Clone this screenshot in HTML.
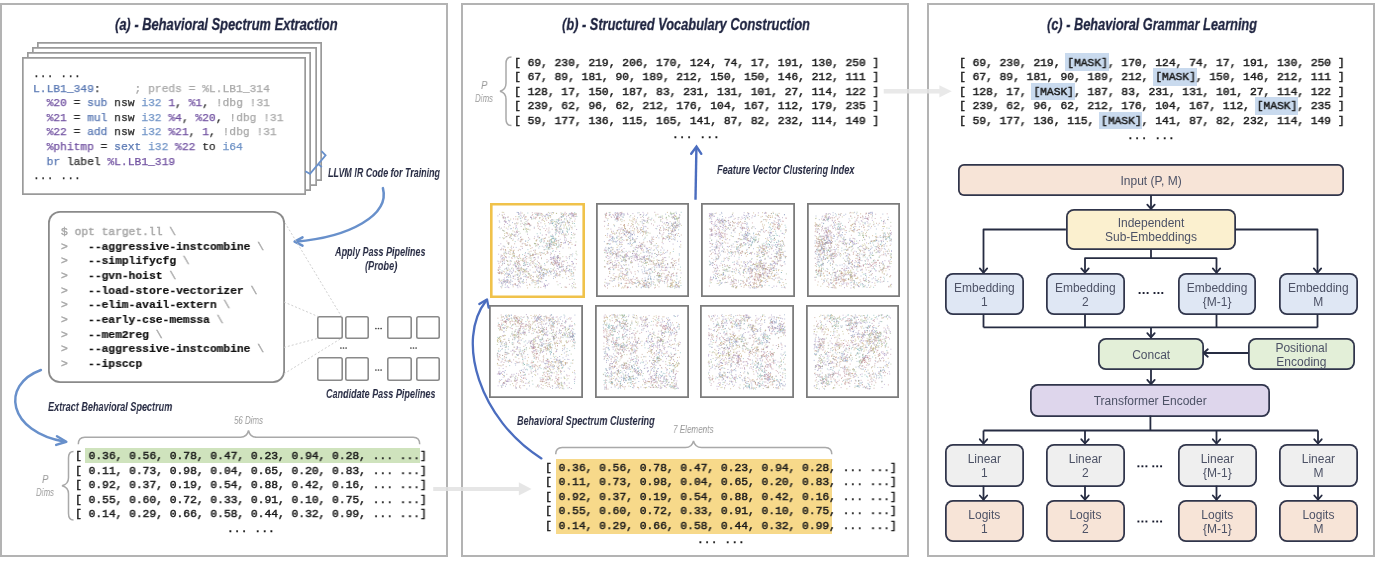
<!DOCTYPE html><html><head><meta charset="utf-8"><style>
html,body{margin:0;padding:0;background:#fff;}
body{width:1376px;height:561px;overflow:hidden;position:relative;font-family:"Liberation Sans",sans-serif;}
.t{position:absolute;white-space:pre;transform-origin:0 0;will-change:transform;}
.m{position:absolute;white-space:pre;font-family:"Liberation Mono",monospace;color:#1a1a1a;will-change:transform;-webkit-text-stroke:0.45px currentColor;}
.m span{-webkit-text-stroke:inherit}.m b{-webkit-text-stroke:0.2px currentColor}
.pn{position:absolute;border:2px solid #b3b3b3;box-sizing:border-box;}
.bx{position:absolute;box-sizing:border-box;box-shadow:inset 0 0 0 1.75px #30354b;border-radius:8px;color:#4d5266;font-size:12px;line-height:14px;text-align:center;display:flex;align-items:center;justify-content:center;padding-top:1.5px;will-change:transform;}
svg{position:absolute;left:0;top:0;}
</style></head><body>

<div class="pn" style="left:0px;top:3px;width:448px;height:554px"></div>
<div class="pn" style="left:461px;top:3px;width:447.5px;height:554px"></div>
<div class="pn" style="left:927px;top:3px;width:448px;height:554px"></div>
<div class="t" style="left:114.50px;top:16.11px;font-size:17px;line-height:17px;font-weight:bold;font-style:italic;color:#1f2440;transform:scaleX(0.7573);opacity:1;-webkit-text-stroke:0.3px #1f2440">(a) - Behavioral Spectrum Extraction</div>
<div class="t" style="left:562.00px;top:16.11px;font-size:17px;line-height:17px;font-weight:bold;font-style:italic;color:#1f2440;transform:scaleX(0.7538);opacity:1;-webkit-text-stroke:0.3px #1f2440">(b) - Structured Vocabulary Construction</div>
<div class="t" style="left:1046.50px;top:16.11px;font-size:17px;line-height:17px;font-weight:bold;font-style:italic;color:#1f2440;transform:scaleX(0.7510);opacity:1;-webkit-text-stroke:0.3px #1f2440">(c) - Behavioral Grammar Learning</div>
<div style="position:absolute;left:37.1px;top:42.1px;width:285.1px;height:138.8px;box-sizing:border-box;box-shadow:inset 0 0 0 1.7px #9a9a9a;background:#fff"></div>
<div style="position:absolute;left:32.1px;top:47.1px;width:284.5px;height:138.5px;box-sizing:border-box;box-shadow:inset 0 0 0 1.7px #9a9a9a;background:#fff"></div>
<div style="position:absolute;left:26.6px;top:52.1px;width:284.8px;height:138.5px;box-sizing:border-box;box-shadow:inset 0 0 0 1.7px #9a9a9a;background:#fff"></div>
<div style="position:absolute;left:21.6px;top:57.1px;width:284.3px;height:138.3px;box-sizing:border-box;box-shadow:inset 0 0 0 1.7px #9a9a9a;background:#fff"></div>
<div class="m" style="left:32.80px;top:68.86px;font-size:11.4px;line-height:11.4px;transform:scaleX(0.9898);transform-origin:0 0;-webkit-text-stroke:0.25px currentColor"><span style="color:#2a2a2a">... ...</span></div>
<div class="m" style="left:32.80px;top:83.51px;font-size:11.4px;line-height:11.4px;transform:scaleX(0.9898);transform-origin:0 0;-webkit-text-stroke:0.25px currentColor"><span style="color:#5877b3">L.LB1_349</span><span style="color:#2a2a2a">:</span>     <span style="color:#a8a8a8">; preds = %L.LB1_314</span></div>
<div class="m" style="left:32.80px;top:98.16px;font-size:11.4px;line-height:11.4px;transform:scaleX(0.9898);transform-origin:0 0;-webkit-text-stroke:0.25px currentColor">  <span style="color:#7050a0">%20</span><span style="color:#2a2a2a"> = </span><span style="color:#5877b3">sub</span><span style="color:#2a2a2a"> nsw </span><span style="color:#6f93c6">i32</span> <span style="color:#7050a0">1</span><span style="color:#2a2a2a">, </span><span style="color:#7050a0">%1</span><span style="color:#2a2a2a">, </span><span style="color:#a8a8a8">!dbg !31</span></div>
<div class="m" style="left:32.80px;top:112.81px;font-size:11.4px;line-height:11.4px;transform:scaleX(0.9898);transform-origin:0 0;-webkit-text-stroke:0.25px currentColor">  <span style="color:#7050a0">%21</span><span style="color:#2a2a2a"> = </span><span style="color:#5877b3">mul</span><span style="color:#2a2a2a"> nsw </span><span style="color:#6f93c6">i32</span> <span style="color:#7050a0">%4</span><span style="color:#2a2a2a">, </span><span style="color:#7050a0">%20</span><span style="color:#2a2a2a">, </span><span style="color:#a8a8a8">!dbg !31</span></div>
<div class="m" style="left:32.80px;top:127.46px;font-size:11.4px;line-height:11.4px;transform:scaleX(0.9898);transform-origin:0 0;-webkit-text-stroke:0.25px currentColor">  <span style="color:#7050a0">%22</span><span style="color:#2a2a2a"> = </span><span style="color:#5877b3">add</span><span style="color:#2a2a2a"> nsw </span><span style="color:#6f93c6">i32</span> <span style="color:#7050a0">%21</span><span style="color:#2a2a2a">, </span><span style="color:#7050a0">1</span><span style="color:#2a2a2a">, </span><span style="color:#a8a8a8">!dbg !31</span></div>
<div class="m" style="left:32.80px;top:142.11px;font-size:11.4px;line-height:11.4px;transform:scaleX(0.9898);transform-origin:0 0;-webkit-text-stroke:0.25px currentColor">  <span style="color:#7050a0">%phitmp</span><span style="color:#2a2a2a"> = </span><span style="color:#5877b3">sext</span> <span style="color:#6f93c6">i32</span> <span style="color:#7050a0">%22</span><span style="color:#2a2a2a"> to </span><span style="color:#6f93c6">i64</span></div>
<div class="m" style="left:32.80px;top:156.76px;font-size:11.4px;line-height:11.4px;transform:scaleX(0.9898);transform-origin:0 0;-webkit-text-stroke:0.25px currentColor">  <span style="color:#5877b3">br</span><span style="color:#2a2a2a"> label </span><span style="color:#7050a0">%L.LB1_319</span></div>
<div class="m" style="left:32.80px;top:171.41px;font-size:11.4px;line-height:11.4px;transform:scaleX(0.9898);transform-origin:0 0;-webkit-text-stroke:0.25px currentColor"><span style="color:#2a2a2a">... ...</span></div>
<div class="t" style="left:328.00px;top:166.00px;font-size:13px;line-height:13px;font-weight:bold;font-style:italic;color:#262a42;transform:scaleX(0.6872);opacity:1;">LLVM IR Code for Training</div>
<div style="position:absolute;left:47.6px;top:211px;width:237px;height:172px;box-sizing:border-box;box-shadow:inset 0 0 0 1.8px #8a8a8a;border-radius:12px;"></div>
<div class="m" style="left:61.00px;top:227.06px;font-size:11.4px;line-height:11.4px;transform:scaleX(0.9898);transform-origin:0 0;"><span style="color:#a8a8a8">$ opt target.ll \</span></div>
<div class="m" style="left:61.00px;top:241.73px;font-size:11.4px;line-height:11.4px;transform:scaleX(0.9898);transform-origin:0 0;"><span style="color:#a8a8a8">&gt;</span>   <b style="color:#111">--aggressive-instcombine</b> <span style="color:#a8a8a8">\</span></div>
<div class="m" style="left:61.00px;top:256.40px;font-size:11.4px;line-height:11.4px;transform:scaleX(0.9898);transform-origin:0 0;"><span style="color:#a8a8a8">&gt;</span>   <b style="color:#111">--simplifycfg</b> <span style="color:#a8a8a8">\</span></div>
<div class="m" style="left:61.00px;top:271.07px;font-size:11.4px;line-height:11.4px;transform:scaleX(0.9898);transform-origin:0 0;"><span style="color:#a8a8a8">&gt;</span>   <b style="color:#111">--gvn-hoist</b> <span style="color:#a8a8a8">\</span></div>
<div class="m" style="left:61.00px;top:285.74px;font-size:11.4px;line-height:11.4px;transform:scaleX(0.9898);transform-origin:0 0;"><span style="color:#a8a8a8">&gt;</span>   <b style="color:#111">--load-store-vectorizer</b> <span style="color:#a8a8a8">\</span></div>
<div class="m" style="left:61.00px;top:300.41px;font-size:11.4px;line-height:11.4px;transform:scaleX(0.9898);transform-origin:0 0;"><span style="color:#a8a8a8">&gt;</span>   <b style="color:#111">--elim-avail-extern</b> <span style="color:#a8a8a8">\</span></div>
<div class="m" style="left:61.00px;top:315.08px;font-size:11.4px;line-height:11.4px;transform:scaleX(0.9898);transform-origin:0 0;"><span style="color:#a8a8a8">&gt;</span>   <b style="color:#111">--early-cse-memssa</b> <span style="color:#a8a8a8">\</span></div>
<div class="m" style="left:61.00px;top:329.75px;font-size:11.4px;line-height:11.4px;transform:scaleX(0.9898);transform-origin:0 0;"><span style="color:#a8a8a8">&gt;</span>   <b style="color:#111">--mem2reg</b> <span style="color:#a8a8a8">\</span></div>
<div class="m" style="left:61.00px;top:344.42px;font-size:11.4px;line-height:11.4px;transform:scaleX(0.9898);transform-origin:0 0;"><span style="color:#a8a8a8">&gt;</span>   <b style="color:#111">--aggressive-instcombine</b> <span style="color:#a8a8a8">\</span></div>
<div class="m" style="left:61.00px;top:359.09px;font-size:11.4px;line-height:11.4px;transform:scaleX(0.9898);transform-origin:0 0;"><span style="color:#a8a8a8">&gt;</span>   <b style="color:#111">--ipsccp</b></div>
<div class="t" style="left:335.00px;top:245.00px;font-size:13px;line-height:13px;font-weight:bold;font-style:italic;color:#262a42;transform:scaleX(0.6920);opacity:1;">Apply Pass Pipelines</div>
<div class="t" style="left:364.50px;top:259.00px;font-size:13px;line-height:13px;font-weight:bold;font-style:italic;color:#262a42;transform:scaleX(0.7077);opacity:1;">(Probe)</div>
<div style="position:absolute;left:317.3px;top:315.6px;width:25.3px;height:23.7px;box-sizing:border-box;box-shadow:inset 0 0 0 1.6px #8a8a8a;border-radius:2.5px"></div>
<div style="position:absolute;left:344.6px;top:315.6px;width:24.8px;height:23.7px;box-sizing:border-box;box-shadow:inset 0 0 0 1.6px #8a8a8a;border-radius:2.5px"></div>
<div style="position:absolute;left:387.2px;top:315.6px;width:24.6px;height:23.7px;box-sizing:border-box;box-shadow:inset 0 0 0 1.6px #8a8a8a;border-radius:2.5px"></div>
<div style="position:absolute;left:415.7px;top:315.6px;width:24.1px;height:23.7px;box-sizing:border-box;box-shadow:inset 0 0 0 1.6px #8a8a8a;border-radius:2.5px"></div>
<div style="position:absolute;left:317.3px;top:356.9px;width:25.3px;height:23.9px;box-sizing:border-box;box-shadow:inset 0 0 0 1.6px #8a8a8a;border-radius:2.5px"></div>
<div style="position:absolute;left:344.6px;top:356.9px;width:24.8px;height:23.9px;box-sizing:border-box;box-shadow:inset 0 0 0 1.6px #8a8a8a;border-radius:2.5px"></div>
<div style="position:absolute;left:387.2px;top:356.9px;width:24.6px;height:23.9px;box-sizing:border-box;box-shadow:inset 0 0 0 1.6px #8a8a8a;border-radius:2.5px"></div>
<div style="position:absolute;left:415.7px;top:356.9px;width:24.1px;height:23.9px;box-sizing:border-box;box-shadow:inset 0 0 0 1.6px #8a8a8a;border-radius:2.5px"></div>
<div class="t" style="left:325.50px;top:386.50px;font-size:13px;line-height:13px;font-weight:bold;font-style:italic;color:#262a42;transform:scaleX(0.6952);opacity:1;">Candidate Pass Pipelines</div>
<div class="t" style="left:47.80px;top:399.50px;font-size:13px;line-height:13px;font-weight:bold;font-style:italic;color:#262a42;transform:scaleX(0.6988);opacity:1;">Extract Behavioral Spectrum</div>
<div class="t" style="left:234.00px;top:415.19px;font-size:11px;line-height:11px;font-weight:normal;font-style:italic;color:#9a9a9a;transform:scaleX(0.7188);opacity:1;">56 Dims</div>
<div class="t" style="left:41.50px;top:474.19px;font-size:11px;line-height:11px;font-weight:normal;font-style:italic;color:#9a9a9a;transform:scaleX(0.8859);opacity:1;">P</div>
<div class="t" style="left:36.00px;top:486.69px;font-size:11px;line-height:11px;font-weight:normal;font-style:italic;color:#9a9a9a;transform:scaleX(0.7185);opacity:1;">Dims</div>
<div style="position:absolute;left:85.1px;top:447.7px;width:334.6px;height:15px;background:#cfe3bd"></div>
<div class="m" style="left:75.40px;top:451.06px;font-size:11.4px;line-height:11.4px;transform:scaleX(0.9898);transform-origin:0 0;">[ 0.36, 0.56, 0.78, 0.47, 0.23, 0.94, 0.28, ... ...]</div>
<div class="m" style="left:75.40px;top:465.63px;font-size:11.4px;line-height:11.4px;transform:scaleX(0.9898);transform-origin:0 0;">[ 0.11, 0.73, 0.98, 0.04, 0.65, 0.20, 0.83, ... ...]</div>
<div class="m" style="left:75.40px;top:480.20px;font-size:11.4px;line-height:11.4px;transform:scaleX(0.9898);transform-origin:0 0;">[ 0.92, 0.37, 0.19, 0.54, 0.88, 0.42, 0.16, ... ...]</div>
<div class="m" style="left:75.40px;top:494.77px;font-size:11.4px;line-height:11.4px;transform:scaleX(0.9898);transform-origin:0 0;">[ 0.55, 0.60, 0.72, 0.33, 0.91, 0.10, 0.75, ... ...]</div>
<div class="m" style="left:75.40px;top:509.34px;font-size:11.4px;line-height:11.4px;transform:scaleX(0.9898);transform-origin:0 0;">[ 0.14, 0.29, 0.66, 0.58, 0.44, 0.32, 0.99, ... ...]</div>
<div class="m" style="left:227.40px;top:523.91px;font-size:11.4px;line-height:11.4px;transform:scaleX(0.9898);transform-origin:0 0;">... ...</div>
<div class="m" style="left:514.00px;top:57.56px;font-size:11.4px;line-height:11.4px;transform:scaleX(0.9898);transform-origin:0 0;">[ 69, 230, 219, 206, 170, 124, 74, 17, 191, 130, 250 ]</div>
<div class="m" style="left:514.00px;top:72.16px;font-size:11.4px;line-height:11.4px;transform:scaleX(0.9898);transform-origin:0 0;">[ 67, 89, 181, 90, 189, 212, 150, 150, 146, 212, 111 ]</div>
<div class="m" style="left:514.00px;top:86.76px;font-size:11.4px;line-height:11.4px;transform:scaleX(0.9898);transform-origin:0 0;">[ 128, 17, 150, 187, 83, 231, 131, 101, 27, 114, 122 ]</div>
<div class="m" style="left:514.00px;top:101.36px;font-size:11.4px;line-height:11.4px;transform:scaleX(0.9898);transform-origin:0 0;">[ 239, 62, 96, 62, 212, 176, 104, 167, 112, 179, 235 ]</div>
<div class="m" style="left:514.00px;top:115.96px;font-size:11.4px;line-height:11.4px;transform:scaleX(0.9898);transform-origin:0 0;">[ 59, 177, 136, 115, 165, 141, 87, 82, 232, 114, 149 ]</div>
<div class="m" style="left:672.45px;top:130.06px;font-size:11.4px;line-height:11.4px;transform:scaleX(0.9898);transform-origin:0 0;">... ...</div>
<div class="t" style="left:480.50px;top:80.49px;font-size:11px;line-height:11px;font-weight:normal;font-style:italic;color:#9a9a9a;transform:scaleX(0.8859);opacity:1;">P</div>
<div class="t" style="left:474.50px;top:92.69px;font-size:11px;line-height:11px;font-weight:normal;font-style:italic;color:#9a9a9a;transform:scaleX(0.7185);opacity:1;">Dims</div>
<div class="t" style="left:717.00px;top:163.00px;font-size:13px;line-height:13px;font-weight:bold;font-style:italic;color:#262a42;transform:scaleX(0.7010);opacity:1;">Feature Vector Clustering Index</div>
<div class="t" style="left:516.80px;top:414.00px;font-size:13px;line-height:13px;font-weight:bold;font-style:italic;color:#262a42;transform:scaleX(0.6952);opacity:1;">Behavioral Spectrum Clustering</div>
<div class="t" style="left:673.00px;top:423.69px;font-size:11px;line-height:11px;font-weight:normal;font-style:italic;color:#9a9a9a;transform:scaleX(0.7360);opacity:1;">7 Elements</div>
<div style="position:absolute;left:489.8px;top:202.7px;width:95.1px;height:94.9px;box-sizing:border-box;box-shadow:inset 0 0 0 2.6px #f0c24a"></div>
<div style="position:absolute;left:596.1px;top:202.7px;width:93.4px;height:93.9px;box-sizing:border-box;box-shadow:inset 0 0 0 1.8px #7c7c7c"></div>
<div style="position:absolute;left:701.3px;top:202.7px;width:93.3px;height:93.9px;box-sizing:border-box;box-shadow:inset 0 0 0 1.8px #7c7c7c"></div>
<div style="position:absolute;left:806.7px;top:202.7px;width:92.9px;height:93.9px;box-sizing:border-box;box-shadow:inset 0 0 0 1.8px #7c7c7c"></div>
<div style="position:absolute;left:489.2px;top:305.1px;width:94.1px;height:92.5px;box-sizing:border-box;box-shadow:inset 0 0 0 1.8px #7c7c7c"></div>
<div style="position:absolute;left:595.2px;top:305.1px;width:93.4px;height:92.5px;box-sizing:border-box;box-shadow:inset 0 0 0 1.8px #7c7c7c"></div>
<div style="position:absolute;left:700.3px;top:305.1px;width:93.4px;height:92.5px;box-sizing:border-box;box-shadow:inset 0 0 0 1.8px #7c7c7c"></div>
<div style="position:absolute;left:806.0px;top:305.1px;width:92.9px;height:92.5px;box-sizing:border-box;box-shadow:inset 0 0 0 1.8px #7c7c7c"></div>
<div style="position:absolute;left:556.4px;top:459.4px;width:275.4px;height:74.4px;background:#f7d98a"></div>
<div class="m" style="left:545.30px;top:462.86px;font-size:11.4px;line-height:11.4px;transform:scaleX(0.9898);transform-origin:0 0;">[ 0.36, 0.56, 0.78, 0.47, 0.23, 0.94, 0.28, ... ...]</div>
<div class="m" style="left:545.30px;top:477.36px;font-size:11.4px;line-height:11.4px;transform:scaleX(0.9898);transform-origin:0 0;">[ 0.11, 0.73, 0.98, 0.04, 0.65, 0.20, 0.83, ... ...]</div>
<div class="m" style="left:545.30px;top:491.86px;font-size:11.4px;line-height:11.4px;transform:scaleX(0.9898);transform-origin:0 0;">[ 0.92, 0.37, 0.19, 0.54, 0.88, 0.42, 0.16, ... ...]</div>
<div class="m" style="left:545.30px;top:506.36px;font-size:11.4px;line-height:11.4px;transform:scaleX(0.9898);transform-origin:0 0;">[ 0.55, 0.60, 0.72, 0.33, 0.91, 0.10, 0.75, ... ...]</div>
<div class="m" style="left:545.30px;top:520.86px;font-size:11.4px;line-height:11.4px;transform:scaleX(0.9898);transform-origin:0 0;">[ 0.14, 0.29, 0.66, 0.58, 0.44, 0.32, 0.99, ... ...]</div>
<div class="m" style="left:696.80px;top:535.36px;font-size:11.4px;line-height:11.4px;transform:scaleX(0.9898);transform-origin:0 0;">... ...</div>
<div style="position:absolute;left:1065.22px;top:53.30px;width:43.3px;height:17.8px;background:#c9daee"></div>
<div style="position:absolute;left:1153.23px;top:67.90px;width:43.3px;height:17.8px;background:#c9daee"></div>
<div style="position:absolute;left:1031.37px;top:82.50px;width:43.3px;height:17.8px;background:#c9daee"></div>
<div style="position:absolute;left:1254.78px;top:97.10px;width:43.3px;height:17.8px;background:#c9daee"></div>
<div style="position:absolute;left:1099.07px;top:111.70px;width:43.3px;height:17.8px;background:#c9daee"></div>
<div class="m" style="left:959.00px;top:57.56px;font-size:11.4px;line-height:11.4px;transform:scaleX(0.9898);transform-origin:0 0;">[ 69, 230, 219, [MASK], 170, 124, 74, 17, 191, 130, 250 ]</div>
<div class="m" style="left:959.00px;top:72.16px;font-size:11.4px;line-height:11.4px;transform:scaleX(0.9898);transform-origin:0 0;">[ 67, 89, 181, 90, 189, 212, [MASK], 150, 146, 212, 111 ]</div>
<div class="m" style="left:959.00px;top:86.76px;font-size:11.4px;line-height:11.4px;transform:scaleX(0.9898);transform-origin:0 0;">[ 128, 17, [MASK], 187, 83, 231, 131, 101, 27, 114, 122 ]</div>
<div class="m" style="left:959.00px;top:101.36px;font-size:11.4px;line-height:11.4px;transform:scaleX(0.9898);transform-origin:0 0;">[ 239, 62, 96, 62, 212, 176, 104, 167, 112, [MASK], 235 ]</div>
<div class="m" style="left:959.00px;top:115.96px;font-size:11.4px;line-height:11.4px;transform:scaleX(0.9898);transform-origin:0 0;">[ 59, 177, 136, 115, [MASK], 141, 87, 82, 232, 114, 149 ]</div>
<div class="m" style="left:1127.25px;top:130.56px;font-size:11.4px;line-height:11.4px;transform:scaleX(0.9898);transform-origin:0 0;">... ...</div>
<div class="bx" style="left:957.8px;top:164.0px;width:386.2px;height:31.9px;background:#f7e4d7;border-radius:6px">Input (P, M)</div>
<div class="bx" style="left:1065.9px;top:209.4px;width:170.0px;height:41.2px;background:#fbf0cf;">Independent<br>Sub-Embeddings</div>
<div class="bx" style="left:944.6px;top:273.2px;width:78.8px;height:42.0px;background:#dfe7f4;">Embedding<br>1</div>
<div class="bx" style="left:1046.0px;top:273.2px;width:78.6px;height:42.0px;background:#dfe7f4;">Embedding<br>2</div>
<div class="bx" style="left:1177.8px;top:273.2px;width:78.2px;height:42.0px;background:#dfe7f4;">Embedding<br>{M-1}</div>
<div class="bx" style="left:1278.6px;top:273.2px;width:78.6px;height:42.0px;background:#dfe7f4;">Embedding<br>M</div>
<div class="bx" style="left:1097.5px;top:338.0px;width:106.3px;height:31.8px;background:#e3efd8;">Concat</div>
<div class="bx" style="left:1248.0px;top:338.0px;width:106.8px;height:31.8px;background:#e3efd8;">Positional<br>Encoding</div>
<div class="bx" style="left:1030.2px;top:384.1px;width:240.4px;height:32.5px;background:#ded6ec;">Transformer Encoder</div>
<div class="bx" style="left:944.5px;top:444.1px;width:78.7px;height:42.6px;background:#efefef;">Linear<br>1</div>
<div class="bx" style="left:944.5px;top:500.3px;width:78.7px;height:41.6px;background:#f7e4d7;">Logits<br>1</div>
<div class="bx" style="left:1046.0px;top:444.1px;width:78.8px;height:42.6px;background:#efefef;">Linear<br>2</div>
<div class="bx" style="left:1046.0px;top:500.3px;width:78.8px;height:41.6px;background:#f7e4d7;">Logits<br>2</div>
<div class="bx" style="left:1177.5px;top:444.1px;width:78.7px;height:42.6px;background:#efefef;">Linear<br>{M-1}</div>
<div class="bx" style="left:1177.5px;top:500.3px;width:78.7px;height:41.6px;background:#f7e4d7;">Logits<br>{M-1}</div>
<div class="bx" style="left:1279.0px;top:444.1px;width:78.8px;height:42.6px;background:#efefef;">Linear<br>M</div>
<div class="bx" style="left:1279.0px;top:500.3px;width:78.8px;height:41.6px;background:#f7e4d7;">Logits<br>M</div>
<svg width="1376" height="561" viewBox="0 0 1376 561"><path d="M1151.00 195.00 L1151.00 209.00" fill="none" stroke="#262c42" stroke-width="1.8" stroke-linejoin="round"/><path d="M1147.30 204.60 L1151.00 208.80 L1154.70 204.60" fill="none" stroke="#262c42" stroke-width="1.8" stroke-linecap="round" stroke-linejoin="round"/><path d="M1065.90 229.50 L983.50 229.50 L983.50 273.00" fill="none" stroke="#262c42" stroke-width="1.8" stroke-linejoin="round"/><path d="M979.80 268.40 L983.50 272.60 L987.20 268.40" fill="none" stroke="#262c42" stroke-width="1.8" stroke-linecap="round" stroke-linejoin="round"/><path d="M1235.10 229.50 L1317.50 229.50 L1317.50 273.00" fill="none" stroke="#262c42" stroke-width="1.8" stroke-linejoin="round"/><path d="M1313.80 268.40 L1317.50 272.60 L1321.20 268.40" fill="none" stroke="#262c42" stroke-width="1.8" stroke-linecap="round" stroke-linejoin="round"/><path d="M1151.00 249.80 L1151.00 258.20" fill="none" stroke="#262c42" stroke-width="1.8" stroke-linejoin="round"/><path d="M1085.00 273.00 L1085.00 258.20 L1216.50 258.20 L1216.50 273.00" fill="none" stroke="#262c42" stroke-width="1.8" stroke-linejoin="round"/><path d="M1081.30 268.40 L1085.00 272.60 L1088.70 268.40" fill="none" stroke="#262c42" stroke-width="1.8" stroke-linecap="round" stroke-linejoin="round"/><path d="M1212.80 268.40 L1216.50 272.60 L1220.20 268.40" fill="none" stroke="#262c42" stroke-width="1.8" stroke-linecap="round" stroke-linejoin="round"/><path d="M983.50 314.40 L983.50 327.40" fill="none" stroke="#262c42" stroke-width="1.8" stroke-linejoin="round"/><path d="M1085.00 314.40 L1085.00 327.40" fill="none" stroke="#262c42" stroke-width="1.8" stroke-linejoin="round"/><path d="M1216.50 314.40 L1216.50 327.40" fill="none" stroke="#262c42" stroke-width="1.8" stroke-linejoin="round"/><path d="M1317.50 314.40 L1317.50 327.40" fill="none" stroke="#262c42" stroke-width="1.8" stroke-linejoin="round"/><path d="M983.50 327.40 L1317.50 327.40" fill="none" stroke="#262c42" stroke-width="1.8" stroke-linejoin="round"/><path d="M1151.00 327.40 L1151.00 337.80" fill="none" stroke="#262c42" stroke-width="1.8" stroke-linejoin="round"/><path d="M1147.30 333.20 L1151.00 337.40 L1154.70 333.20" fill="none" stroke="#262c42" stroke-width="1.8" stroke-linecap="round" stroke-linejoin="round"/><path d="M1248.00 353.00 L1203.50 353.00" fill="none" stroke="#262c42" stroke-width="1.8" stroke-linejoin="round"/><path d="M1207.80 349.30 L1203.60 353.00 L1207.80 356.70" fill="none" stroke="#262c42" stroke-width="1.8" stroke-linecap="round" stroke-linejoin="round"/><path d="M1151.00 369.00 L1151.00 384.50" fill="none" stroke="#262c42" stroke-width="1.8" stroke-linejoin="round"/><path d="M1147.30 379.90 L1151.00 384.10 L1154.70 379.90" fill="none" stroke="#262c42" stroke-width="1.8" stroke-linecap="round" stroke-linejoin="round"/><path d="M1150.40 415.60 L1150.40 430.50" fill="none" stroke="#262c42" stroke-width="1.8" stroke-linejoin="round"/><path d="M983.50 430.50 L1318.00 430.50" fill="none" stroke="#262c42" stroke-width="1.8" stroke-linejoin="round"/><path d="M983.50 430.50 L983.50 444.00" fill="none" stroke="#262c42" stroke-width="1.8" stroke-linejoin="round"/><path d="M979.80 439.30 L983.50 443.50 L987.20 439.30" fill="none" stroke="#262c42" stroke-width="1.8" stroke-linecap="round" stroke-linejoin="round"/><path d="M983.50 485.70 L983.50 500.00" fill="none" stroke="#262c42" stroke-width="1.8" stroke-linejoin="round"/><path d="M979.80 495.50 L983.50 499.70 L987.20 495.50" fill="none" stroke="#262c42" stroke-width="1.8" stroke-linecap="round" stroke-linejoin="round"/><path d="M1085.00 430.50 L1085.00 444.00" fill="none" stroke="#262c42" stroke-width="1.8" stroke-linejoin="round"/><path d="M1081.30 439.30 L1085.00 443.50 L1088.70 439.30" fill="none" stroke="#262c42" stroke-width="1.8" stroke-linecap="round" stroke-linejoin="round"/><path d="M1085.00 485.70 L1085.00 500.00" fill="none" stroke="#262c42" stroke-width="1.8" stroke-linejoin="round"/><path d="M1081.30 495.50 L1085.00 499.70 L1088.70 495.50" fill="none" stroke="#262c42" stroke-width="1.8" stroke-linecap="round" stroke-linejoin="round"/><path d="M1216.50 430.50 L1216.50 444.00" fill="none" stroke="#262c42" stroke-width="1.8" stroke-linejoin="round"/><path d="M1212.80 439.30 L1216.50 443.50 L1220.20 439.30" fill="none" stroke="#262c42" stroke-width="1.8" stroke-linecap="round" stroke-linejoin="round"/><path d="M1216.50 485.70 L1216.50 500.00" fill="none" stroke="#262c42" stroke-width="1.8" stroke-linejoin="round"/><path d="M1212.80 495.50 L1216.50 499.70 L1220.20 495.50" fill="none" stroke="#262c42" stroke-width="1.8" stroke-linecap="round" stroke-linejoin="round"/><path d="M1318.00 430.50 L1318.00 444.00" fill="none" stroke="#262c42" stroke-width="1.8" stroke-linejoin="round"/><path d="M1314.30 439.30 L1318.00 443.50 L1321.70 439.30" fill="none" stroke="#262c42" stroke-width="1.8" stroke-linecap="round" stroke-linejoin="round"/><path d="M1318.00 485.70 L1318.00 500.00" fill="none" stroke="#262c42" stroke-width="1.8" stroke-linejoin="round"/><path d="M1314.30 495.50 L1318.00 499.70 L1321.70 495.50" fill="none" stroke="#262c42" stroke-width="1.8" stroke-linecap="round" stroke-linejoin="round"/><rect x="1138.65" y="292.05" width="1.9" height="1.9" fill="#15182a"/><rect x="1142.65" y="292.05" width="1.9" height="1.9" fill="#15182a"/><rect x="1146.65" y="292.05" width="1.9" height="1.9" fill="#15182a"/><rect x="1153.55" y="292.05" width="1.9" height="1.9" fill="#15182a"/><rect x="1157.45" y="292.05" width="1.9" height="1.9" fill="#15182a"/><rect x="1161.35" y="292.05" width="1.9" height="1.9" fill="#15182a"/><rect x="1137.45" y="465.35" width="1.9" height="1.9" fill="#15182a"/><rect x="1141.45" y="465.35" width="1.9" height="1.9" fill="#15182a"/><rect x="1145.45" y="465.35" width="1.9" height="1.9" fill="#15182a"/><rect x="1152.35" y="465.35" width="1.9" height="1.9" fill="#15182a"/><rect x="1156.25" y="465.35" width="1.9" height="1.9" fill="#15182a"/><rect x="1160.15" y="465.35" width="1.9" height="1.9" fill="#15182a"/><rect x="1137.45" y="520.55" width="1.9" height="1.9" fill="#15182a"/><rect x="1141.45" y="520.55" width="1.9" height="1.9" fill="#15182a"/><rect x="1145.45" y="520.55" width="1.9" height="1.9" fill="#15182a"/><rect x="1152.35" y="520.55" width="1.9" height="1.9" fill="#15182a"/><rect x="1156.25" y="520.55" width="1.9" height="1.9" fill="#15182a"/><rect x="1160.15" y="520.55" width="1.9" height="1.9" fill="#15182a"/><path d="M382.9 188.1 C390 215, 350 237, 295.5 241.7" fill="none" stroke="#6890cb" stroke-width="2.5" stroke-linecap="round"/><path d="M302.5 237.4 L294.6 241.7 L302.5 245.7" fill="none" stroke="#6890cb" stroke-width="2.5" stroke-linecap="round" stroke-linejoin="round"/><path d="M40.9 370 C0 385, 8 432, 65 441.8" fill="none" stroke="#6890cb" stroke-width="2.5" stroke-linecap="round"/><path d="M57 436.2 L66.3 441.8 L56.2 444.9" fill="none" stroke="#6890cb" stroke-width="2.5" stroke-linecap="round" stroke-linejoin="round"/><path d="M305.3 171.2 L310 173.9 L325.6 155.3 L321.5 151.2 M318.1 163.8 L321.8 167.1" fill="none" stroke="#6890cb" stroke-width="1.8" stroke-linejoin="miter"/><path d="M285 222.8 L341.5 316.5" stroke="#c9c9c9" stroke-width="0.9" stroke-dasharray="2 2" fill="none"/><path d="M284 302 L318 316.5" stroke="#c9c9c9" stroke-width="0.9" stroke-dasharray="2 2" fill="none"/><path d="M284 347.4 L318 338.3" stroke="#c9c9c9" stroke-width="0.9" stroke-dasharray="2 2" fill="none"/><path d="M284 373.8 L341 338.5" stroke="#c9c9c9" stroke-width="0.9" stroke-dasharray="2 2" fill="none"/><circle cx="375.90" cy="328.50" r="0.85" fill="#444"/><circle cx="378.50" cy="328.50" r="0.85" fill="#444"/><circle cx="381.10" cy="328.50" r="0.85" fill="#444"/><circle cx="375.90" cy="370.00" r="0.85" fill="#444"/><circle cx="378.50" cy="370.00" r="0.85" fill="#444"/><circle cx="381.10" cy="370.00" r="0.85" fill="#444"/><circle cx="340.90" cy="348.00" r="0.85" fill="#444"/><circle cx="343.50" cy="348.00" r="0.85" fill="#444"/><circle cx="346.10" cy="348.00" r="0.85" fill="#444"/><circle cx="410.90" cy="348.00" r="0.85" fill="#444"/><circle cx="413.50" cy="348.00" r="0.85" fill="#444"/><circle cx="416.10" cy="348.00" r="0.85" fill="#444"/><path d="M78.3 444.3 Q78.3 437.2 84.8 437.2 L240.5 437.2 Q247.0 437.2 248.5 430.5 Q250.0 437.2 256.5 437.2 L413.2 437.2 Q419.7 437.2 419.7 444.3" fill="none" stroke="#a9a9a9" stroke-width="1.5"/><path d="M73.5 451.6 Q68.5 451.6 68.5 458.1 L68.5 477.8 Q68.5 484.3 62 485.8 Q68.5 487.3 68.5 493.8 L68.5 513.5 Q68.5 520 73.5 520" fill="none" stroke="#a9a9a9" stroke-width="1.5"/><path d="M555.7 454.3 Q555.7 447.5 562.2 447.5 L685.5 447.5 Q692.0 447.5 693.5 440.8 Q695.0 447.5 701.5 447.5 L825.3 447.5 Q831.8 447.5 831.8 454.3" fill="none" stroke="#a9a9a9" stroke-width="1.5"/><path d="M511.5 57 Q506 57 506 63.5 L506 83.3 Q506 89.8 500 91.3 Q506 92.8 506 99.3 L506 119.1 Q506 125.6 511.5 125.6" fill="none" stroke="#a9a9a9" stroke-width="1.5"/><path d="M695.5 199.7 L696.4 147.5" stroke="#4b6dbf" stroke-width="2.4" fill="none"/><path d="M691.2 153.8 L696.5 146.6 L701.3 153.8" stroke="#4b6dbf" stroke-width="2.4" fill="none" stroke-linecap="round" stroke-linejoin="miter"/><path d="M541.4 458.4 C480 420, 455 340, 486.3 300.5" stroke="#4b6dbf" stroke-width="2.3" fill="none" stroke-linecap="round"/><path d="M479.3 304 L487 299.4 L488.6 307.6" stroke="#4b6dbf" stroke-width="2.3" fill="none" stroke-linecap="round" stroke-linejoin="round"/><g opacity="0.85"><path d="M433.2 488.9 L519.5 488.9" stroke="#e2e2e2" stroke-width="4"/><path d="M518.8 482.3 L531.5 488.9 L518.8 495.5 Z" fill="#e2e2e2"/></g><g opacity="0.85"><path d="M883.7 91.35 L940 91.35" stroke="#e6e6e6" stroke-width="4.5"/><path d="M939.3 85.3 L951.75 91.35 L939.3 97.4 Z" fill="#e6e6e6"/></g><path d="M525.9 224.8h0M542.0 220.2h0M540.9 222.8h0M539.7 226.6h0M539.8 229.4h0M544.0 228.5h0M548.0 231.9h0M546.7 228.9h0M549.0 228.0h0M552.2 229.3h0M557.8 227.8h0M555.9 230.2h0M556.3 232.0h0M552.4 234.9h0M565.4 235.1h0M568.5 234.1h0M564.2 235.3h0M506.5 260.4h0M501.3 259.1h0M504.5 263.5h0M502.5 261.2h0M501.0 261.1h0M498.9 263.6h0M498.9 261.8h0M502.5 264.1h0M559.5 274.1h0M545.7 218.9h0M545.8 218.1h0M542.3 216.7h0M539.5 217.8h0M536.1 217.5h0M533.7 217.0h0M532.3 212.7h0M532.1 215.5h0M531.4 217.5h0M537.0 215.8h0M537.6 214.7h0M537.6 214.0h0M575.1 214.6h0M576.1 214.1h0M573.7 215.2h0M571.7 216.8h0M573.7 216.6h0M572.8 213.6h0M566.4 213.6h0M564.9 214.8h0M569.7 217.6h0M572.3 221.4h0M550.0 240.0h0M554.6 254.9h0M555.1 241.0h0M519.7 264.5h0M519.7 268.2h0M518.6 267.7h0M522.7 272.1h0M498.2 269.6h0M499.4 272.6h0M547.6 214.2h0M522.3 223.3h0M521.2 226.4h0M517.5 232.4h0M556.3 226.7h0M562.9 222.3h0M530.8 265.1h0M532.8 254.7h0M524.9 257.9h0M523.3 258.3h0M524.5 260.8h0M524.3 261.9h0M526.2 264.2h0M528.0 266.5h0M530.1 270.0h0M528.3 271.5h0M526.1 271.1h0M525.6 265.0h0M504.3 226.9h0M501.5 228.1h0M503.1 230.5h0M510.3 236.6h0M513.4 251.8h0M516.4 266.4h0M566.2 240.6h0M538.4 275.6h0M557.2 273.3h0M548.3 272.8h0M573.6 214.9h0M558.2 242.8h0M518.4 281.4h0M509.4 281.7h0M561.4 242.6h0M543.9 247.1h0M547.2 245.0h0M549.2 244.0h0M550.6 246.3h0M549.6 247.4h0M509.3 221.8h0M504.3 214.3h0M562.3 222.7h0M556.9 229.4h0M569.2 222.2h0M533.9 263.9h0M525.0 217.2h0M575.1 234.2h0M511.7 248.8h0M571.3 254.7h0M539.1 237.4h0M509.3 265.1h0M551.8 262.3h0M554.2 263.1h0M505.7 237.0h0M503.4 217.3h0M503.2 246.1h0M560.6 258.0h0M536.7 269.3h0M510.2 261.7h0M508.6 280.8h0M537.0 239.8h0M499.5 226.9h0M545.0 286.3h0M504.5 224.4h0M539.7 263.9h0M498.9 245.5h0M538.2 223.4h0M535.6 218.8h0M499.5 214.3h0M540.8 213.3h0M516.5 222.9h0M528.5 237.7h0M515.4 263.1h0M533.6 250.4h0M556.5 274.3h0M520.3 215.2h0M505.0 280.7h0M503.3 218.6h0M543.5 286.3h0M506.7 236.6h0M575.2 245.4h0M518.0 240.0h0M544.3 240.8h0M534.3 228.3h0M510.8 281.8h0M569.4 284.3h0M508.3 235.4h0M564.4 236.2h0M502.5 255.7h0" stroke="#b48a9c" stroke-opacity="0.6" stroke-width="1" stroke-linecap="square" fill="none"/><path d="M530.6 225.7h0M542.3 226.9h0M502.6 261.8h0M539.0 214.3h0M572.4 214.2h0M533.4 257.8h0M559.5 260.6h0M569.9 265.6h0M535.2 249.9h0M507.3 280.3h0M506.9 279.5h0M523.2 283.5h0M507.2 269.4h0M550.4 220.7h0M551.9 220.0h0M550.5 215.5h0M549.4 213.2h0M547.3 215.6h0M545.4 216.6h0M549.0 215.3h0M548.8 216.1h0M546.2 214.7h0M546.8 214.3h0M544.4 216.6h0M517.7 235.9h0M557.2 225.6h0M530.3 255.5h0M530.1 254.2h0M503.2 257.4h0M564.1 221.2h0M508.4 265.6h0M504.3 258.8h0M568.6 244.0h0M540.4 276.5h0M536.8 270.3h0M537.6 271.2h0M543.2 274.6h0M549.8 270.5h0M555.7 274.3h0M555.7 275.7h0M554.6 272.7h0M553.7 273.5h0M550.4 272.7h0M551.0 274.2h0M547.6 271.7h0M544.7 269.3h0M544.2 270.3h0M545.2 274.3h0M544.0 276.4h0M573.3 264.0h0M517.1 274.9h0M505.0 281.8h0M503.2 279.8h0M499.1 279.0h0M504.2 281.7h0M507.5 281.6h0M507.7 282.3h0M507.8 279.5h0M505.5 273.7h0M512.4 272.6h0M520.9 269.1h0M549.0 243.2h0M567.9 221.9h0M570.0 220.0h0M566.4 219.0h0M543.3 278.2h0M542.7 273.0h0M525.9 219.4h0M520.9 218.1h0M523.7 216.4h0M521.3 216.1h0M518.6 214.4h0M518.0 212.6h0M519.1 214.1h0M518.4 212.5h0M514.2 255.0h0M497.9 261.1h0M499.3 220.9h0M560.4 229.8h0M502.2 258.4h0M534.3 227.2h0M559.1 220.3h0M547.1 245.4h0M558.8 245.4h0M508.5 220.3h0M525.7 240.9h0M555.5 239.6h0M556.3 238.9h0M499.7 222.1h0M510.3 260.5h0M575.0 267.0h0M510.6 228.8h0M509.1 257.0h0M509.2 225.0h0M525.6 241.3h0M529.6 226.0h0M507.5 285.9h0M572.7 254.0h0M511.1 247.4h0M572.2 227.2h0M514.8 257.8h0M512.5 222.6h0M569.5 258.7h0M550.7 264.1h0M529.8 265.1h0M509.8 220.6h0M545.6 225.9h0M518.4 270.9h0M532.0 282.9h0M553.3 262.4h0M542.3 246.2h0M560.2 272.2h0M549.9 232.0h0M541.2 241.6h0M505.7 252.3h0M562.8 261.7h0M499.9 237.7h0M569.7 213.9h0M519.8 282.0h0M554.9 239.0h0M518.7 238.7h0M554.2 245.4h0M548.9 249.1h0M511.4 238.5h0M541.4 267.8h0" stroke="#8a9cc0" stroke-opacity="0.6" stroke-width="1" stroke-linecap="square" fill="none"/><path d="M553.5 236.8h0M565.0 271.6h0M531.8 219.3h0M541.0 265.4h0M560.1 259.7h0M576.2 213.8h0M535.6 243.7h0M534.4 243.3h0M535.0 243.8h0M535.6 246.1h0M534.6 243.6h0M536.2 245.2h0M529.8 254.1h0M530.3 258.1h0M531.3 258.0h0M533.0 254.2h0M553.8 241.8h0M515.7 263.3h0M520.0 270.1h0M532.9 254.1h0M522.3 282.1h0M526.5 230.8h0M526.2 231.9h0M527.5 231.9h0M528.3 229.2h0M525.6 229.2h0M523.4 229.4h0M524.4 223.0h0M524.7 225.9h0M526.7 224.1h0M525.5 223.4h0M526.1 221.6h0M523.7 224.6h0M523.8 229.6h0M525.2 228.0h0M518.9 231.5h0M520.1 233.3h0M515.0 234.7h0M556.3 219.8h0M511.7 233.6h0M502.9 237.7h0M504.4 238.1h0M503.5 230.9h0M502.6 230.1h0M556.6 213.3h0M541.0 214.5h0M556.3 273.3h0M550.8 272.6h0M556.5 244.7h0M515.2 275.0h0M522.0 281.8h0M505.8 281.4h0M548.0 249.2h0M544.5 253.1h0M523.4 271.8h0M529.3 273.7h0M523.3 269.4h0M517.9 268.3h0M557.5 258.7h0M552.7 264.2h0M556.7 257.8h0M562.8 256.7h0M567.4 229.6h0M566.6 227.1h0M542.5 274.2h0M524.5 214.9h0M571.3 238.3h0M571.1 237.7h0M574.0 237.7h0M574.4 234.8h0M509.2 251.3h0M512.7 256.2h0M558.0 284.8h0M540.7 242.6h0M500.1 272.8h0M504.6 231.1h0M501.9 286.1h0M504.7 282.2h0M563.7 225.0h0M554.4 267.9h0M534.9 287.4h0M561.4 287.4h0M576.2 251.3h0M576.9 254.8h0M540.4 229.8h0M531.2 260.0h0M574.9 287.7h0M570.2 254.8h0M537.1 264.4h0M518.5 258.6h0M571.4 269.7h0M573.6 215.7h0M576.0 253.3h0M518.3 216.8h0M573.9 282.3h0M529.8 224.9h0M558.1 256.9h0M573.7 286.7h0M569.2 256.9h0M498.8 227.6h0M518.0 223.0h0M553.7 244.7h0M507.9 264.2h0M530.0 275.0h0M566.2 260.5h0M546.8 262.3h0M535.2 266.8h0M568.7 215.5h0M520.6 224.0h0M574.9 226.1h0M565.3 237.4h0M575.9 241.9h0M506.8 236.6h0M503.1 280.9h0M538.6 286.7h0M511.5 261.2h0M518.3 261.1h0M536.8 253.9h0M571.7 286.0h0M519.0 276.4h0M541.5 258.7h0M566.8 235.2h0M568.8 265.4h0M510.2 225.3h0M528.5 223.5h0M554.9 276.0h0" stroke="#98b088" stroke-opacity="0.6" stroke-width="1" stroke-linecap="square" fill="none"/><path d="M558.7 232.6h0M559.5 233.7h0M504.6 261.0h0M562.4 271.0h0M567.9 270.6h0M566.5 268.8h0M563.4 269.2h0M566.1 270.8h0M566.9 267.2h0M566.0 271.4h0M546.4 214.4h0M532.9 255.4h0M526.0 256.2h0M523.7 259.2h0M518.6 284.0h0M515.5 284.3h0M515.8 285.2h0M508.4 287.2h0M508.9 287.7h0M542.0 238.9h0M557.3 257.0h0M566.5 216.7h0M568.1 215.9h0M564.8 213.6h0M571.1 213.5h0M534.8 254.6h0M542.2 278.2h0M542.0 282.0h0M544.3 283.8h0M544.8 285.9h0M545.4 285.9h0M548.8 283.8h0M547.0 285.0h0M547.5 285.2h0M545.3 285.5h0M544.6 284.4h0M551.4 244.8h0M538.4 279.9h0M535.0 272.4h0M502.0 215.0h0M505.6 283.8h0M502.1 282.1h0M561.7 270.8h0M557.4 262.6h0M508.1 275.0h0M506.5 277.1h0M506.9 277.3h0M504.9 280.6h0M505.1 281.3h0M507.2 282.4h0M505.3 284.9h0M504.1 279.5h0M504.4 278.0h0M502.0 272.2h0M498.0 272.6h0M561.2 220.6h0M558.1 221.0h0M518.7 234.2h0M516.0 234.1h0M514.7 234.8h0M514.8 236.1h0M517.0 232.1h0M516.1 226.8h0M516.3 227.6h0M532.7 261.6h0M525.2 253.7h0M501.7 248.2h0M552.6 238.6h0M563.7 215.1h0M510.5 264.1h0M506.5 257.7h0M526.9 268.6h0M525.1 269.3h0M523.5 265.4h0M515.1 264.9h0M518.4 265.8h0M518.2 268.5h0M517.0 269.3h0M515.8 266.8h0M515.4 265.7h0M514.0 264.8h0M515.7 266.4h0M515.2 265.2h0M564.1 242.7h0M565.5 242.8h0M565.5 241.9h0M570.7 240.8h0M566.3 239.0h0M543.1 215.4h0M571.5 212.8h0M572.5 216.1h0M571.6 214.9h0M574.1 216.8h0M572.8 215.0h0M572.4 215.7h0M573.9 213.6h0M560.5 242.5h0M563.8 243.3h0M572.5 261.5h0M572.7 263.0h0M571.5 261.5h0M572.0 266.2h0M573.8 269.0h0M571.0 269.9h0M535.5 259.2h0M518.2 260.3h0M508.1 268.0h0M511.2 271.8h0M513.3 271.1h0M513.1 275.9h0M513.5 276.5h0M517.6 277.6h0M520.3 274.8h0M520.7 271.9h0M523.9 273.1h0M523.9 276.6h0M530.3 276.1h0M525.6 274.4h0M505.4 222.1h0M504.8 220.6h0M505.0 221.3h0M507.4 223.5h0M504.2 221.3h0M505.7 222.0h0M506.4 221.9h0M503.9 216.8h0M505.6 217.5h0M562.8 231.0h0M563.9 228.3h0M536.8 280.8h0M539.2 271.8h0M539.4 271.2h0M539.7 275.0h0M541.4 277.6h0M543.8 274.7h0M550.3 271.7h0M520.9 213.7h0M520.8 212.2h0M527.3 220.8h0M531.1 217.1h0M520.3 283.3h0M517.9 287.7h0M520.3 286.9h0M519.2 285.9h0M508.4 252.0h0M502.6 258.2h0M534.6 236.8h0M575.2 219.0h0M507.9 229.1h0M517.5 257.1h0M516.0 232.3h0M528.3 266.6h0M505.3 256.7h0M500.2 267.2h0M546.4 280.6h0M521.0 236.9h0M509.8 282.9h0M517.8 262.9h0M559.7 271.6h0M567.4 262.7h0M560.2 239.3h0M526.4 282.3h0M537.7 280.6h0M552.2 258.1h0M569.2 224.8h0M516.2 225.5h0M557.1 266.2h0M524.4 270.4h0M558.9 223.5h0M510.6 280.1h0M525.6 276.8h0M524.4 224.6h0M512.9 234.4h0M498.6 254.2h0M538.5 262.5h0M569.5 229.2h0M516.9 274.7h0M505.9 268.6h0M520.6 239.9h0M518.9 263.1h0M538.2 256.8h0M559.6 251.5h0M536.0 267.7h0M555.8 227.9h0M568.3 244.6h0M551.6 259.6h0M546.1 234.5h0M553.8 276.6h0M504.9 247.1h0M570.2 213.4h0M507.0 287.1h0M527.2 277.6h0M499.6 280.4h0M560.1 283.6h0M539.9 277.7h0M560.0 246.8h0M556.7 275.3h0M499.1 282.8h0M542.9 253.0h0" stroke="#a88fbf" stroke-opacity="0.6" stroke-width="1" stroke-linecap="square" fill="none"/><path d="M563.6 234.0h0M534.8 218.2h0M565.9 214.8h0M513.2 286.8h0M539.6 237.5h0M536.4 240.9h0M535.7 243.6h0M552.7 242.1h0M556.2 243.3h0M555.8 243.5h0M556.9 240.8h0M553.3 242.6h0M556.2 241.4h0M554.0 243.1h0M549.0 237.2h0M546.4 243.9h0M549.4 245.7h0M551.9 243.7h0M554.2 245.5h0M531.3 278.0h0M530.0 276.0h0M533.0 276.5h0M533.4 280.2h0M532.0 280.6h0M532.9 281.3h0M534.9 282.6h0M540.9 278.8h0M541.7 278.9h0M540.4 281.8h0M539.6 281.0h0M538.9 281.1h0M536.9 276.9h0M538.9 278.6h0M536.1 282.1h0M530.6 278.3h0M530.0 285.0h0M527.6 287.9h0M502.3 212.3h0M534.8 252.0h0M535.3 250.7h0M532.6 255.6h0M531.5 255.6h0M534.9 257.5h0M539.8 252.4h0M537.0 253.9h0M502.9 273.5h0M550.7 216.9h0M521.2 221.1h0M526.9 228.9h0M523.6 229.1h0M558.7 218.8h0M561.1 228.3h0M516.7 231.8h0M530.3 255.6h0M522.7 259.0h0M561.0 212.9h0M507.9 264.7h0M507.8 261.3h0M506.0 256.8h0M503.7 260.1h0M504.4 255.6h0M506.6 253.7h0M510.0 254.2h0M512.2 254.2h0M511.6 250.3h0M513.6 253.3h0M510.0 249.5h0M510.3 252.1h0M513.3 250.6h0M514.2 250.2h0M511.6 246.2h0M508.7 244.5h0M508.4 243.0h0M569.8 242.7h0M548.3 269.0h0M521.8 239.1h0M521.0 241.0h0M525.0 243.5h0M527.7 242.3h0M575.1 213.8h0M572.1 264.3h0M519.9 278.9h0M508.5 275.5h0M531.5 275.3h0M550.2 244.2h0M565.7 274.2h0M555.4 258.8h0M559.6 263.7h0M553.8 264.8h0M553.2 259.2h0M559.1 257.3h0M558.8 224.1h0M545.5 273.4h0M542.2 274.6h0M522.2 213.0h0M526.2 216.8h0M528.2 219.8h0M572.0 244.3h0M514.1 256.3h0M527.0 285.3h0M540.1 267.3h0M503.6 238.7h0M530.8 248.5h0M524.1 282.6h0M575.8 287.7h0M573.6 272.5h0M529.2 251.9h0M552.0 248.4h0M574.7 221.1h0M525.0 272.0h0M515.8 236.3h0M557.5 273.9h0M535.0 280.5h0M571.3 227.5h0M526.0 245.3h0M529.6 245.0h0M556.1 222.9h0M515.8 216.6h0M543.2 253.6h0M559.3 220.0h0M532.7 267.3h0M505.5 249.7h0M514.8 261.9h0M548.8 275.8h0M535.3 271.8h0M568.9 247.8h0M506.5 268.8h0M524.6 218.2h0M517.1 223.9h0M515.3 284.2h0M545.1 215.5h0M563.5 214.6h0M555.5 277.6h0M539.3 263.1h0M536.4 240.2h0M538.2 287.7h0M538.9 254.0h0M572.1 278.8h0M545.4 254.6h0M506.6 233.0h0M571.1 273.7h0M572.1 228.9h0M510.3 235.5h0M513.4 227.8h0" stroke="#c0a070" stroke-opacity="0.6" stroke-width="1" stroke-linecap="square" fill="none"/><path d="M507.4 261.0h0M502.7 263.7h0M538.8 215.5h0M535.7 214.5h0M536.6 214.2h0M538.8 213.3h0M525.5 257.4h0M524.5 262.6h0M523.7 263.4h0M522.6 254.6h0M539.2 238.2h0M541.0 240.0h0M539.7 241.0h0M538.1 244.7h0M539.7 246.4h0M541.7 240.9h0M546.2 243.2h0M543.8 242.7h0M547.3 243.8h0M551.1 240.0h0M554.5 240.8h0M555.0 257.0h0M563.2 266.6h0M574.7 212.6h0M538.0 283.4h0M539.0 278.6h0M510.1 282.7h0M508.8 277.4h0M553.8 220.0h0M552.4 219.9h0M551.3 221.1h0M553.7 225.7h0M556.2 229.4h0M556.4 226.8h0M556.6 221.6h0M555.7 224.4h0M555.7 227.2h0M557.4 222.6h0M552.6 223.6h0M558.0 219.6h0M558.1 219.9h0M560.5 225.9h0M561.3 222.5h0M517.3 229.0h0M535.7 263.8h0M526.5 269.1h0M506.0 253.7h0M551.0 236.2h0M550.8 236.0h0M552.6 237.0h0M551.7 236.6h0M549.8 240.4h0M551.3 240.0h0M553.0 238.7h0M551.8 241.5h0M553.5 238.3h0M552.9 238.5h0M554.3 239.8h0M551.6 238.7h0M554.1 238.2h0M559.8 222.8h0M562.7 216.8h0M562.8 221.9h0M568.7 222.8h0M561.6 216.7h0M561.1 216.5h0M562.1 213.4h0M508.4 244.0h0M567.9 241.7h0M547.1 272.4h0M576.8 216.5h0M556.4 244.1h0M519.8 282.3h0M517.8 279.7h0M518.1 279.1h0M552.3 242.7h0M551.3 241.5h0M554.6 241.2h0M558.7 241.0h0M559.0 244.2h0M556.0 245.3h0M553.8 244.1h0M551.8 244.5h0M548.8 247.3h0M549.9 249.0h0M553.4 250.8h0M558.0 247.4h0M549.4 244.9h0M549.5 246.3h0M546.4 247.0h0M547.1 247.7h0M544.2 249.5h0M541.7 252.6h0M551.1 247.0h0M524.6 264.0h0M527.5 264.4h0M523.4 265.4h0M518.9 266.2h0M516.2 266.3h0M514.5 263.2h0M517.7 264.0h0M506.5 267.9h0M517.7 270.4h0M520.4 273.2h0M526.4 275.6h0M545.9 249.3h0M505.4 218.9h0M558.9 264.8h0M562.7 230.9h0M565.0 234.2h0M566.8 231.2h0M567.5 232.4h0M567.4 231.3h0M569.5 228.1h0M567.2 228.4h0M562.4 231.7h0M558.1 231.6h0M556.1 230.6h0M555.5 234.8h0M556.2 233.7h0M556.2 231.1h0M559.2 229.0h0M553.1 222.6h0M558.7 223.7h0M552.6 223.6h0M552.2 223.3h0M549.7 223.8h0M570.4 218.4h0M564.7 218.7h0M541.0 267.6h0M543.9 274.1h0M530.5 217.2h0M566.4 268.2h0M569.4 269.2h0M569.5 269.7h0M571.3 271.3h0M572.2 271.9h0M573.0 273.4h0M574.3 279.5h0M571.6 234.5h0M569.0 229.8h0M527.9 249.7h0M572.3 256.0h0M525.1 269.8h0M574.5 223.5h0M560.4 267.5h0M559.9 266.7h0M559.5 267.2h0M528.4 273.4h0M506.3 273.9h0M575.0 258.9h0M511.5 268.7h0M545.8 280.5h0M525.1 276.2h0M569.2 214.1h0M502.1 270.9h0M572.9 223.2h0M551.4 242.5h0M544.5 263.6h0M525.5 252.6h0M548.4 248.4h0M560.0 232.0h0M540.4 233.1h0M510.9 280.0h0M572.1 276.3h0M527.9 262.5h0M504.2 246.3h0M557.8 246.8h0M539.0 221.3h0M537.2 233.7h0M528.3 253.8h0M552.6 251.3h0M528.3 240.4h0M541.4 239.4h0M525.3 265.0h0M515.3 223.8h0M555.3 221.8h0M533.8 218.7h0M519.4 216.8h0M561.4 229.6h0M527.8 213.0h0M549.5 244.3h0M533.8 282.0h0M515.2 241.6h0M520.3 218.6h0M513.4 252.5h0M500.1 228.9h0M550.9 268.6h0M542.6 269.4h0M515.5 228.7h0M499.9 269.4h0" stroke="#78b0b0" stroke-opacity="0.6" stroke-width="1" stroke-linecap="square" fill="none"/><path d="M527.2 224.0h0M556.3 229.1h0M555.3 232.8h0M563.0 232.7h0M568.6 270.7h0M542.3 235.1h0M548.1 252.9h0M550.8 252.9h0M550.4 254.8h0M550.6 257.5h0M552.8 257.9h0M554.2 258.4h0M553.6 257.7h0M555.7 251.5h0M557.5 258.6h0M556.0 263.8h0M556.6 265.2h0M553.8 260.6h0M554.3 260.8h0M555.0 259.8h0M558.5 257.5h0M557.2 260.8h0M559.2 262.6h0M563.4 264.7h0M569.8 266.2h0M570.7 214.6h0M556.8 240.5h0M535.6 254.4h0M563.6 269.2h0M562.7 266.8h0M561.5 267.0h0M558.5 269.1h0M555.9 270.3h0M554.5 271.1h0M557.3 268.5h0M559.3 265.8h0M557.4 266.3h0M559.3 267.7h0M558.6 264.7h0M558.2 264.7h0M554.9 264.3h0M503.9 282.0h0M506.4 281.0h0M501.3 272.8h0M559.8 218.1h0M534.5 257.6h0M568.6 222.8h0M513.2 239.1h0M504.1 257.9h0M523.0 243.3h0M503.5 281.8h0M549.4 245.4h0M549.9 244.3h0M538.2 257.9h0M529.3 263.9h0M507.5 273.9h0M506.7 272.2h0M511.7 273.5h0M522.8 271.6h0M505.8 222.0h0M503.7 217.4h0M550.4 259.4h0M551.3 258.8h0M555.0 261.5h0M557.1 262.2h0M556.0 260.8h0M555.3 263.4h0M558.5 263.0h0M557.5 261.1h0M557.2 256.6h0M558.2 255.7h0M562.2 261.2h0M558.5 257.8h0M557.5 257.4h0M553.5 258.6h0M551.1 257.3h0M556.5 225.3h0M559.8 229.6h0M536.7 266.2h0M540.6 266.9h0M540.8 267.8h0M540.3 268.3h0M541.3 269.3h0M538.6 267.7h0M537.9 268.0h0M540.2 268.9h0M543.4 272.6h0M518.8 213.4h0M530.6 217.3h0M501.2 255.1h0M508.6 243.0h0M551.3 271.5h0M557.2 275.9h0M563.0 248.0h0M516.9 231.8h0M533.4 276.9h0M572.4 283.5h0M561.9 269.8h0M537.7 236.9h0M513.5 247.3h0M522.4 248.4h0M500.6 257.0h0M515.1 279.2h0M550.7 223.1h0M576.6 229.5h0M529.7 239.1h0M524.3 265.7h0M520.6 249.8h0M501.0 249.9h0M575.2 245.2h0M545.3 237.8h0M531.7 218.5h0M569.6 256.7h0M567.1 258.2h0M572.4 287.9h0M561.5 264.0h0M524.9 219.4h0M553.9 256.7h0M497.9 215.9h0M573.5 263.4h0M545.0 265.2h0M500.8 243.8h0M507.8 217.3h0M508.2 253.5h0M527.5 234.2h0M514.6 235.8h0M564.6 237.9h0M528.0 253.4h0M555.7 262.1h0M510.2 270.2h0M522.9 261.1h0" stroke="#9c84b0" stroke-opacity="0.6" stroke-width="1" stroke-linecap="square" fill="none"/><path d="M548.8 230.1h0M569.9 272.1h0M565.6 272.6h0M532.7 214.5h0M537.4 215.6h0M541.8 270.6h0M543.6 272.7h0M545.6 269.3h0M541.6 266.9h0M537.4 261.2h0M534.5 260.1h0M533.4 255.2h0M533.0 254.5h0M516.5 260.8h0M516.4 261.5h0M517.3 262.4h0M519.3 263.4h0M518.8 261.6h0M519.6 254.7h0M519.2 255.6h0M519.0 256.4h0M526.9 256.6h0M526.7 258.7h0M526.1 262.0h0M526.3 262.1h0M524.6 255.5h0M529.1 257.8h0M501.7 287.8h0M551.3 262.5h0M567.6 265.8h0M568.6 215.2h0M537.0 245.8h0M548.9 241.1h0M547.6 241.2h0M549.7 241.7h0M541.4 277.9h0M519.2 261.4h0M515.3 283.7h0M556.5 263.1h0M518.5 277.8h0M513.2 278.5h0M498.2 270.4h0M501.5 273.8h0M498.5 270.4h0M499.3 273.6h0M498.5 273.1h0M501.8 272.9h0M558.0 223.6h0M532.5 263.2h0M531.8 261.8h0M503.6 249.8h0M501.0 249.5h0M503.2 249.0h0M504.2 253.7h0M501.6 256.1h0M561.3 219.5h0M507.3 232.9h0M509.2 243.0h0M568.3 241.5h0M551.1 213.0h0M548.5 218.3h0M522.9 239.3h0M520.5 237.4h0M520.1 241.3h0M522.2 243.9h0M521.4 239.5h0M521.9 240.1h0M520.8 241.9h0M520.9 246.3h0M519.2 249.3h0M522.1 246.7h0M525.2 244.3h0M526.1 245.5h0M527.6 245.1h0M571.6 213.2h0M575.3 216.5h0M544.4 238.6h0M556.7 249.0h0M540.8 252.9h0M552.8 245.1h0M547.1 251.8h0M547.0 253.5h0M541.0 254.9h0M540.5 255.4h0M533.3 261.1h0M535.4 266.6h0M519.8 257.9h0M515.3 271.8h0M518.8 269.9h0M522.9 268.8h0M504.9 218.1h0M569.9 279.6h0M564.1 270.4h0M567.0 268.5h0M564.0 271.0h0M561.8 266.2h0M561.0 266.7h0M562.1 265.0h0M564.1 261.6h0M559.8 258.4h0M556.8 260.0h0M557.2 263.0h0M561.3 262.9h0M559.2 264.5h0M552.4 264.4h0M553.7 265.4h0M551.8 262.4h0M555.3 262.0h0M554.7 261.0h0M554.7 263.3h0M557.7 255.9h0M561.0 225.2h0M543.6 276.0h0M573.6 273.9h0M570.9 242.5h0M517.6 285.2h0M548.9 247.8h0M522.4 217.7h0M560.6 246.5h0M514.9 276.0h0M538.4 228.3h0M508.2 216.9h0M558.7 240.4h0M546.7 220.2h0M526.5 279.8h0M557.0 281.7h0M575.3 284.0h0M514.7 223.8h0M531.0 251.2h0M502.0 283.9h0M551.4 223.0h0M537.7 226.1h0M536.3 283.9h0M541.1 215.4h0M546.6 273.4h0M530.2 246.1h0M547.3 261.9h0M565.7 287.2h0M529.5 284.3h0M518.3 250.6h0M547.7 252.7h0M514.6 243.8h0M542.4 219.7h0M558.7 236.3h0M505.4 249.9h0M503.7 271.3h0M514.4 231.9h0M505.7 250.3h0M517.8 219.7h0M571.7 274.0h0M513.3 251.6h0M519.6 270.6h0M568.6 276.6h0M507.2 280.7h0M519.1 271.1h0M511.7 257.7h0M575.2 269.8h0M529.9 229.9h0M551.8 263.5h0M499.0 279.8h0M504.7 274.9h0M566.6 287.3h0M534.3 238.6h0M529.5 224.3h0M535.4 253.0h0M517.8 218.7h0" stroke="#b89080" stroke-opacity="0.6" stroke-width="1" stroke-linecap="square" fill="none"/><path d="M504.2 263.0h0M569.2 271.0h0M544.3 273.2h0M566.4 266.5h0M550.3 243.1h0M538.4 280.8h0M537.1 281.5h0M532.1 279.9h0M533.3 272.2h0M517.4 285.9h0M516.9 285.5h0M512.5 284.9h0M510.7 284.3h0M505.2 287.4h0M502.6 285.1h0M501.4 283.4h0M501.3 282.4h0M503.0 283.6h0M506.3 282.6h0M523.2 281.0h0M523.5 279.5h0M520.5 278.8h0M521.5 278.7h0M517.5 275.2h0M513.3 276.9h0M510.8 277.7h0M510.5 275.9h0M507.7 276.5h0M508.8 274.7h0M509.7 274.4h0M509.3 274.0h0M504.7 269.2h0M521.0 220.9h0M556.1 224.3h0M504.2 252.2h0M553.0 235.9h0M548.9 233.0h0M561.6 217.4h0M562.8 215.7h0M563.6 216.3h0M510.1 237.4h0M516.2 267.9h0M565.2 242.6h0M573.9 215.2h0M550.2 245.8h0M550.3 243.8h0M547.1 246.5h0M508.7 273.8h0M513.4 270.2h0M520.0 272.9h0M521.4 267.3h0M548.6 261.0h0M557.9 255.6h0M553.9 256.8h0M561.4 233.4h0M562.6 232.5h0M558.5 220.9h0M552.3 223.2h0M560.2 226.5h0M542.0 270.4h0M539.6 272.5h0M540.3 272.9h0M543.8 275.6h0M542.7 275.9h0M538.8 272.2h0M540.2 274.4h0M546.3 270.9h0M549.5 271.5h0M536.7 276.4h0M540.1 274.8h0M546.5 274.9h0M553.3 269.2h0M517.1 212.4h0M573.7 275.9h0M567.3 220.8h0M500.8 286.7h0M561.3 214.3h0M564.2 222.3h0M540.7 281.4h0M545.3 287.9h0M512.3 234.3h0M512.3 281.3h0M538.2 283.0h0M519.4 275.8h0M566.6 278.1h0M511.4 228.6h0M538.8 248.0h0M561.2 224.1h0M552.4 212.5h0M552.2 236.4h0M559.7 227.8h0M516.2 247.4h0M571.5 232.5h0M523.0 281.2h0M559.9 275.9h0M553.5 278.4h0M509.8 271.7h0M527.0 245.0h0M564.5 240.0h0M541.0 273.0h0M538.1 236.0h0M545.5 285.9h0M570.5 248.0h0" stroke="#8898c0" stroke-opacity="0.6" stroke-width="1" stroke-linecap="square" fill="none"/><path d="M565.9 234.0h0M560.1 271.7h0M547.4 251.3h0M563.0 215.7h0M558.2 246.5h0M537.8 277.5h0M520.7 258.5h0M521.0 260.3h0M518.0 263.8h0M516.6 266.2h0M523.5 269.6h0M521.1 268.0h0M521.2 268.4h0M521.3 269.2h0M524.0 269.4h0M525.0 270.5h0M521.8 270.4h0M526.2 271.9h0M524.1 271.4h0M524.9 271.0h0M530.2 278.1h0M528.7 274.1h0M528.5 276.8h0M504.9 220.9h0M502.6 217.1h0M502.5 215.3h0M503.7 212.4h0M510.3 276.1h0M498.8 273.3h0M549.7 215.6h0M526.5 228.9h0M554.9 227.0h0M512.9 230.9h0M534.7 265.6h0M551.5 239.8h0M565.5 222.9h0M561.9 214.4h0M506.3 228.1h0M506.3 232.7h0M509.3 234.1h0M510.8 234.7h0M511.5 235.9h0M513.7 235.4h0M511.7 234.7h0M509.6 237.7h0M511.1 238.7h0M512.8 240.4h0M507.6 243.0h0M507.6 261.0h0M513.7 255.2h0M553.4 213.2h0M556.4 213.5h0M548.4 212.4h0M551.9 214.3h0M550.3 217.1h0M548.4 218.2h0M551.3 221.5h0M548.0 217.2h0M542.5 214.2h0M543.2 218.3h0M544.5 221.4h0M544.8 223.8h0M543.7 220.4h0M539.7 218.6h0M540.1 217.5h0M536.9 275.0h0M553.2 269.4h0M551.9 271.0h0M546.7 269.5h0M574.5 214.2h0M545.0 238.5h0M543.3 239.0h0M547.6 241.0h0M549.4 243.5h0M554.6 242.8h0M556.4 247.7h0M560.0 245.2h0M561.7 242.5h0M507.9 270.5h0M507.2 270.6h0M504.6 272.0h0M509.1 269.2h0M512.1 267.8h0M518.6 270.5h0M517.9 273.3h0M515.9 271.9h0M513.2 265.0h0M528.0 272.8h0M570.9 275.3h0M565.7 269.9h0M555.1 224.2h0M554.6 221.5h0M560.0 228.7h0M565.5 224.3h0M566.3 228.6h0M564.2 226.9h0M565.1 225.3h0M568.7 225.8h0M570.7 226.0h0M572.4 223.3h0M569.6 222.6h0M571.3 218.3h0M564.7 219.2h0M563.4 214.0h0M543.9 268.8h0M543.1 268.7h0M538.3 276.4h0M539.2 272.4h0M544.6 269.2h0M547.3 270.0h0M546.7 270.3h0M541.3 271.0h0M543.5 272.5h0M539.7 272.2h0M512.8 253.3h0M514.4 255.7h0M513.8 256.1h0M510.0 254.2h0M505.7 252.0h0M503.9 254.0h0M518.0 274.6h0M533.8 262.7h0M501.4 280.3h0M510.7 219.1h0M537.5 222.9h0M508.7 226.8h0M508.0 247.6h0M522.8 274.3h0M535.2 284.8h0M562.8 277.7h0M572.9 235.1h0M530.3 260.5h0M522.3 260.2h0M552.8 221.7h0M567.3 220.8h0M561.3 244.4h0M564.2 270.5h0M548.9 247.5h0M517.9 258.5h0M559.8 253.7h0M530.6 263.0h0M573.7 284.7h0M560.1 274.5h0M553.6 212.5h0M562.0 234.6h0M555.5 238.3h0M550.8 239.6h0M504.7 233.5h0M510.5 250.4h0M559.0 275.6h0M504.5 235.4h0M530.2 245.4h0M514.2 256.2h0M516.3 256.7h0M567.6 221.4h0M523.5 261.1h0M527.9 229.5h0M540.1 266.6h0M551.5 253.7h0M504.2 259.6h0M522.6 260.3h0M536.0 240.8h0M555.3 229.5h0" stroke="#b8b078" stroke-opacity="0.6" stroke-width="1" stroke-linecap="square" fill="none"/><path d="M528.0 224.4h0M528.5 223.4h0M527.9 223.0h0M529.3 223.5h0M530.9 225.2h0M528.3 224.0h0M545.5 230.6h0M502.7 259.8h0M536.1 213.0h0M538.9 213.2h0M541.4 213.5h0M537.3 213.1h0M538.2 214.0h0M565.1 212.3h0M517.3 264.3h0M518.0 262.5h0M530.2 256.4h0M519.1 281.7h0M544.1 241.2h0M519.3 270.4h0M528.3 277.6h0M529.1 274.2h0M574.0 267.5h0M508.7 283.0h0M498.7 267.7h0M499.1 268.0h0M499.8 271.6h0M499.8 273.1h0M499.5 273.2h0M551.8 219.7h0M517.1 230.7h0M505.6 256.9h0M520.2 265.2h0M517.4 268.2h0M541.4 275.6h0M576.2 215.1h0M546.4 235.0h0M561.0 245.0h0M518.3 279.7h0M513.3 268.9h0M545.4 245.7h0M555.6 262.6h0M547.0 259.6h0M559.7 231.8h0M538.6 265.8h0M556.5 271.7h0M523.7 215.2h0M569.5 242.7h0M573.7 233.3h0M563.9 260.9h0M527.0 276.7h0M558.8 275.0h0M500.6 262.1h0M500.3 281.3h0M572.4 213.2h0M557.6 230.7h0M567.3 222.8h0M514.3 253.4h0M525.8 260.0h0M561.1 217.3h0M499.5 266.0h0M512.1 258.4h0M519.1 280.8h0M558.6 264.8h0M507.6 233.8h0M527.0 271.2h0M552.8 248.7h0M513.4 284.9h0M576.3 263.7h0M538.5 244.7h0M576.4 259.5h0M544.2 250.0h0M538.2 225.0h0M513.5 218.9h0M540.8 287.4h0M506.9 241.1h0M566.2 256.8h0M537.7 244.0h0M575.6 245.0h0M525.7 216.8h0M534.8 213.2h0M548.6 222.6h0M529.6 224.5h0M553.3 270.7h0M501.8 265.4h0M515.8 219.1h0M514.4 284.1h0M541.5 257.9h0M520.9 277.7h0M532.2 247.7h0M532.9 279.7h0M565.0 287.0h0M535.8 217.2h0" stroke="#c08890" stroke-opacity="0.6" stroke-width="1" stroke-linecap="square" fill="none"/><path d="M628.1 280.3h0M662.7 254.0h0M661.7 267.8h0M644.8 246.6h0M665.4 267.3h0M653.0 262.8h0M680.2 224.1h0M618.4 251.9h0M617.9 256.7h0M615.3 260.8h0M611.0 262.3h0M614.2 265.8h0M609.0 269.3h0M609.5 268.3h0M613.6 268.3h0M612.6 267.6h0M616.7 263.8h0M620.1 265.0h0M618.4 265.3h0M663.0 238.6h0M662.0 235.1h0M663.8 232.7h0M663.0 234.2h0M662.6 239.2h0M669.5 238.2h0M668.8 237.0h0M612.4 237.3h0M622.5 275.1h0M627.3 272.4h0M631.5 273.1h0M621.0 273.0h0M623.4 274.2h0M622.9 273.5h0M622.3 271.4h0M625.5 269.5h0M629.7 269.9h0M625.9 264.9h0M624.2 256.9h0M620.2 255.3h0M634.6 241.0h0M619.0 227.6h0M635.4 223.0h0M618.1 254.1h0M616.9 255.5h0M667.0 219.8h0M673.0 228.5h0M674.2 230.8h0M677.9 226.0h0M678.9 287.1h0M670.7 279.6h0M654.3 272.5h0M643.2 273.7h0M608.5 248.2h0M671.9 234.5h0M667.4 274.9h0M666.2 278.8h0M667.7 280.3h0M665.7 279.1h0M665.7 277.2h0M661.6 274.8h0M659.5 273.4h0M657.7 273.0h0M657.8 273.2h0M661.6 266.7h0M656.5 264.0h0M659.8 266.8h0M656.8 267.3h0M654.4 270.1h0M651.6 270.1h0M650.7 268.8h0M650.5 269.2h0M667.9 279.0h0M664.2 273.8h0M644.9 245.2h0M635.6 247.2h0M630.0 238.3h0M645.1 260.7h0M610.9 256.9h0M637.1 260.7h0M636.8 255.6h0M640.0 258.5h0M639.7 257.0h0M637.6 256.8h0M631.7 258.5h0M636.4 257.7h0M634.2 259.8h0M634.1 257.9h0M631.5 260.7h0M626.9 254.9h0M626.2 253.5h0M625.6 256.5h0M626.0 257.3h0M623.2 257.2h0M625.8 260.2h0M625.2 254.7h0M619.9 251.7h0M606.6 213.6h0M606.1 214.5h0M621.4 283.2h0M624.5 274.6h0M640.6 246.0h0M642.2 244.1h0M638.4 245.6h0M640.7 245.8h0M640.9 245.8h0M640.6 246.8h0M638.6 247.7h0M641.7 248.5h0M643.5 250.0h0M607.2 283.2h0M604.7 285.1h0M605.5 286.7h0M621.5 213.7h0M663.6 230.4h0M622.5 267.8h0M675.6 227.5h0M638.3 281.3h0M645.0 267.8h0M654.8 212.3h0M611.1 280.9h0M614.4 217.4h0M608.5 225.1h0M621.4 244.2h0M645.2 232.2h0M671.7 262.7h0M657.6 273.5h0M633.8 233.3h0M674.9 237.4h0M651.5 223.8h0M646.2 284.1h0M670.1 226.3h0M618.4 267.1h0M634.7 228.9h0M651.5 261.3h0M661.8 260.4h0M614.9 278.9h0M661.8 276.7h0M621.8 268.4h0M642.2 219.8h0M646.1 272.2h0M662.1 225.7h0M622.2 249.9h0M651.8 256.3h0M651.9 237.1h0M615.6 286.1h0M668.2 230.6h0M608.4 276.4h0M646.5 284.1h0" stroke="#b48a9c" stroke-opacity="0.6" stroke-width="1" stroke-linecap="square" fill="none"/><path d="M644.2 281.2h0M647.2 281.4h0M645.7 280.6h0M649.6 283.5h0M635.0 283.1h0M621.5 276.4h0M658.6 260.5h0M669.1 267.3h0M617.0 221.2h0M616.8 217.7h0M610.1 214.6h0M674.5 286.2h0M646.8 248.6h0M646.3 251.7h0M646.8 249.0h0M648.1 251.6h0M646.7 252.1h0M647.3 250.3h0M649.3 249.6h0M649.7 253.0h0M653.4 250.3h0M657.6 250.2h0M656.6 254.5h0M643.8 257.7h0M650.0 260.9h0M636.6 256.5h0M641.3 287.8h0M642.5 286.2h0M641.3 287.2h0M645.6 280.8h0M650.5 277.9h0M651.3 281.3h0M647.9 279.5h0M648.0 278.3h0M650.3 278.4h0M648.5 270.0h0M647.1 270.6h0M649.7 272.2h0M649.3 269.6h0M649.2 268.8h0M650.8 269.0h0M667.6 237.5h0M670.8 238.2h0M626.1 268.7h0M629.5 238.4h0M628.5 237.2h0M614.2 239.1h0M624.0 230.4h0M623.4 229.6h0M672.9 265.1h0M614.3 253.5h0M648.8 283.4h0M646.8 283.0h0M645.0 284.4h0M648.5 278.9h0M645.1 278.0h0M650.7 276.6h0M651.3 279.3h0M651.8 283.2h0M649.5 283.3h0M648.4 276.7h0M649.0 275.1h0M646.3 287.2h0M670.3 283.4h0M674.6 228.8h0M666.7 227.4h0M658.8 264.1h0M659.3 265.9h0M658.1 265.8h0M654.1 266.8h0M655.2 263.9h0M650.8 273.3h0M653.9 279.4h0M650.9 278.8h0M638.4 271.8h0M646.0 273.3h0M644.9 273.3h0M644.4 271.4h0M644.9 270.8h0M643.8 267.1h0M646.7 273.7h0M622.8 251.4h0M622.0 252.7h0M620.1 255.2h0M618.5 256.0h0M616.8 258.5h0M616.8 256.9h0M618.1 252.9h0M617.0 249.4h0M617.7 249.9h0M620.2 247.1h0M619.9 242.8h0M636.9 238.5h0M665.6 214.2h0M679.3 217.2h0M607.8 252.7h0M611.3 253.0h0M608.1 249.3h0M610.4 251.4h0M610.9 253.2h0M613.3 253.8h0M615.5 252.1h0M606.7 253.0h0M606.3 251.1h0M605.9 249.1h0M605.8 247.4h0M610.9 247.6h0M612.9 249.4h0M612.0 247.8h0M611.4 247.2h0M673.2 234.7h0M673.2 238.7h0M668.6 239.7h0M674.1 239.5h0M673.8 236.2h0M668.9 233.9h0M668.8 233.6h0M670.3 233.4h0M671.8 234.1h0M675.6 234.9h0M676.8 233.7h0M675.1 235.4h0M668.6 231.1h0M668.7 227.7h0M671.6 225.6h0M635.1 249.2h0M633.2 251.2h0M633.4 250.5h0M634.0 251.3h0M629.8 244.1h0M627.9 243.8h0M628.6 243.6h0M630.9 246.4h0M632.7 243.6h0M630.1 242.2h0M635.3 242.2h0M632.5 237.7h0M632.4 234.7h0M630.7 234.0h0M631.8 234.0h0M630.7 235.8h0M633.2 239.8h0M609.8 273.3h0M610.3 269.6h0M619.3 233.1h0M676.9 287.5h0M678.5 282.0h0M621.3 283.7h0M628.4 277.9h0M626.2 260.6h0M642.5 244.6h0M606.2 283.0h0M618.8 215.9h0M616.3 218.6h0M616.8 216.3h0M669.1 238.7h0M636.8 245.4h0M658.5 264.7h0M607.2 263.9h0M646.0 215.5h0M623.4 257.3h0M658.9 237.9h0M604.4 241.6h0M679.5 236.4h0M673.0 265.8h0M604.9 221.4h0M620.8 271.1h0M619.2 249.2h0M644.9 238.4h0M665.7 252.6h0M627.8 272.8h0M676.5 213.6h0M640.3 228.0h0M657.5 235.9h0M635.4 241.2h0M630.7 236.9h0M638.7 266.3h0M654.6 277.0h0M643.5 215.3h0M631.1 263.2h0M622.4 261.0h0M625.4 259.2h0M650.7 249.9h0M623.1 217.2h0M667.5 264.2h0M653.5 284.2h0M653.6 237.0h0M645.2 226.4h0M663.5 263.4h0M664.7 222.9h0M667.8 263.8h0M647.6 220.5h0" stroke="#8a9cc0" stroke-opacity="0.6" stroke-width="1" stroke-linecap="square" fill="none"/><path d="M659.0 260.4h0M656.9 254.5h0M658.7 251.8h0M672.0 287.4h0M671.8 284.6h0M632.7 256.9h0M667.9 236.0h0M617.3 238.0h0M640.8 214.6h0M639.1 212.7h0M658.9 276.1h0M660.5 276.1h0M659.0 276.5h0M659.9 275.8h0M657.5 275.0h0M658.5 272.5h0M659.5 275.2h0M657.3 280.8h0M658.8 279.9h0M658.9 282.1h0M656.6 275.6h0M659.9 276.1h0M659.7 275.2h0M644.8 285.7h0M651.1 282.7h0M655.5 285.0h0M674.2 217.7h0M672.2 224.0h0M676.9 217.4h0M679.9 215.3h0M675.5 223.2h0M675.7 226.0h0M674.1 227.7h0M678.8 225.0h0M677.0 225.4h0M676.4 225.7h0M642.5 216.3h0M644.0 220.2h0M648.8 217.3h0M648.2 222.9h0M647.5 221.6h0M646.8 222.5h0M649.0 219.4h0M655.8 215.8h0M628.3 237.7h0M673.4 213.4h0M670.6 212.3h0M670.4 213.4h0M666.4 217.3h0M666.0 218.1h0M662.0 217.5h0M659.1 217.0h0M661.1 216.2h0M673.1 213.8h0M671.7 213.3h0M674.3 213.1h0M678.6 217.7h0M676.7 218.7h0M677.4 218.6h0M677.1 223.3h0M679.0 222.7h0M677.2 218.9h0M675.1 219.5h0M673.5 217.3h0M673.9 217.4h0M677.5 221.0h0M676.5 218.9h0M671.4 217.2h0M669.1 216.6h0M668.7 215.6h0M672.0 214.0h0M668.6 224.0h0M652.9 272.3h0M659.3 275.7h0M666.3 277.2h0M639.7 284.0h0M636.8 251.8h0M637.7 248.2h0M620.5 219.9h0M634.0 247.9h0M634.3 239.7h0M653.5 262.0h0M649.9 261.7h0M647.4 262.1h0M641.7 259.5h0M638.4 255.4h0M639.3 254.9h0M637.2 259.4h0M645.6 262.6h0M643.3 262.7h0M638.8 259.5h0M640.9 259.8h0M646.1 263.1h0M646.8 262.8h0M646.4 265.6h0M642.8 265.2h0M611.3 260.0h0M604.4 267.0h0M605.7 215.4h0M614.7 233.2h0M679.4 286.1h0M641.7 280.3h0M644.3 285.2h0M637.1 280.6h0M616.1 255.0h0M616.2 253.3h0M616.7 254.6h0M620.8 255.8h0M621.9 256.1h0M624.3 257.1h0M625.4 260.6h0M625.0 261.4h0M623.9 259.7h0M621.7 260.0h0M623.8 258.6h0M624.6 257.2h0M632.7 253.3h0M651.2 243.9h0M637.6 223.8h0M640.3 221.7h0M624.1 260.2h0M662.4 241.0h0M650.0 233.2h0M642.1 246.9h0M629.4 258.3h0M624.9 259.3h0M636.1 254.5h0M647.0 235.3h0M654.0 282.6h0M609.6 283.9h0M630.7 215.5h0M652.0 239.1h0M623.7 264.7h0M643.6 282.9h0M646.4 233.2h0M627.2 268.4h0M680.5 277.6h0M633.2 224.5h0M612.5 264.4h0M604.6 260.7h0M630.1 257.0h0M651.1 244.5h0M662.6 216.1h0M666.5 217.8h0M670.8 214.1h0M669.2 257.0h0M613.4 280.1h0M646.8 259.2h0M661.3 273.5h0M650.7 286.1h0M631.4 262.4h0M653.9 258.1h0M654.8 222.0h0M664.6 281.5h0M618.9 239.9h0M650.9 220.2h0M650.2 252.5h0M645.2 237.2h0M655.0 264.9h0M660.9 221.5h0M675.7 281.8h0" stroke="#98b088" stroke-opacity="0.6" stroke-width="1" stroke-linecap="square" fill="none"/><path d="M617.9 215.9h0M647.5 248.4h0M646.1 247.8h0M659.9 260.6h0M648.4 259.1h0M645.5 260.4h0M636.8 258.1h0M676.9 226.2h0M646.1 226.8h0M643.8 226.6h0M645.8 220.9h0M667.4 237.1h0M612.2 236.7h0M643.5 217.4h0M640.5 214.5h0M639.9 214.9h0M643.8 214.1h0M643.0 212.4h0M625.4 274.6h0M634.8 241.7h0M622.1 242.1h0M659.0 277.0h0M643.5 286.6h0M668.3 225.2h0M667.5 222.5h0M673.3 217.3h0M679.6 214.6h0M677.7 286.2h0M673.6 275.8h0M668.6 274.5h0M671.4 274.9h0M671.0 279.0h0M671.2 280.3h0M671.4 284.1h0M656.1 265.7h0M660.5 217.4h0M605.5 250.7h0M607.2 255.9h0M608.8 256.3h0M609.7 258.0h0M608.2 258.6h0M610.2 260.3h0M614.2 265.2h0M613.4 265.7h0M615.2 265.3h0M616.4 253.8h0M604.8 249.2h0M671.5 232.3h0M681.1 273.0h0M651.2 242.6h0M628.4 232.3h0M626.0 231.0h0M624.2 214.9h0M622.0 213.7h0M624.1 213.8h0M621.9 216.2h0M617.7 216.3h0M632.5 253.5h0M635.3 255.3h0M642.4 259.5h0M614.0 273.5h0M626.7 255.3h0M618.1 260.6h0M614.8 262.5h0M612.4 263.8h0M610.3 262.7h0M607.9 264.2h0M618.8 282.9h0M607.4 243.6h0M618.6 214.6h0M617.8 219.7h0M620.3 216.0h0M617.9 214.8h0M621.2 214.9h0M620.8 213.1h0M615.9 212.6h0M615.5 214.8h0M615.6 218.9h0M611.6 217.5h0M617.9 217.5h0M651.3 261.3h0M655.9 228.5h0M630.8 226.7h0M624.1 248.5h0M667.4 281.6h0M617.2 260.7h0M651.9 243.7h0M623.9 235.0h0M625.3 270.8h0M652.0 253.2h0M651.0 219.5h0M614.8 241.6h0M628.7 265.0h0M631.9 261.6h0M665.1 270.4h0M639.6 242.4h0M656.2 247.3h0M641.0 258.9h0M611.0 251.7h0M632.6 238.8h0M665.1 229.2h0M676.4 273.1h0M659.3 225.4h0M609.0 240.9h0M617.5 240.7h0M624.0 252.2h0M613.4 215.4h0M663.2 243.7h0M669.7 241.5h0M662.6 222.1h0M636.7 278.5h0M634.4 256.0h0M607.4 235.2h0M666.8 270.2h0M674.5 215.2h0M635.7 249.7h0M638.3 264.1h0M619.0 257.0h0M640.4 233.1h0M609.8 214.0h0M633.1 238.4h0M628.1 287.3h0M674.2 215.1h0M614.3 225.6h0M608.8 283.3h0M674.7 230.8h0" stroke="#a88fbf" stroke-opacity="0.6" stroke-width="1" stroke-linecap="square" fill="none"/><path d="M648.6 279.4h0M647.1 282.3h0M632.9 284.5h0M633.6 282.6h0M634.1 282.9h0M631.5 279.8h0M622.5 278.0h0M622.1 276.9h0M615.9 276.8h0M613.3 286.6h0M619.0 285.1h0M621.7 288.0h0M625.6 285.8h0M628.1 283.4h0M663.3 252.3h0M671.2 285.4h0M672.4 284.9h0M670.2 286.6h0M675.9 284.3h0M672.4 283.1h0M675.4 285.3h0M672.7 282.2h0M670.7 285.9h0M667.7 285.0h0M667.4 286.7h0M670.5 285.8h0M670.7 283.9h0M673.6 282.3h0M648.4 250.6h0M662.9 273.2h0M662.2 265.6h0M661.1 262.7h0M658.7 262.8h0M657.5 261.9h0M652.3 261.0h0M654.7 263.9h0M648.8 258.8h0M647.2 258.5h0M648.7 264.4h0M647.2 262.5h0M647.5 259.2h0M645.8 261.9h0M645.9 259.1h0M619.7 252.2h0M615.8 264.9h0M615.9 267.0h0M648.3 282.1h0M674.3 225.7h0M675.8 287.7h0M667.4 225.3h0M626.5 236.1h0M612.5 252.4h0M671.2 236.3h0M669.9 236.3h0M672.4 280.0h0M662.3 263.5h0M660.7 264.4h0M661.6 278.6h0M659.8 275.6h0M666.3 275.7h0M668.1 275.7h0M668.1 275.1h0M670.6 277.7h0M668.2 280.0h0M609.7 271.5h0M625.1 255.5h0M610.8 267.3h0M608.7 268.8h0M625.3 228.5h0M624.4 233.6h0M624.0 230.5h0M624.5 227.9h0M623.6 225.3h0M624.2 220.7h0M624.2 225.1h0M631.2 225.7h0M631.8 223.5h0M633.1 222.1h0M631.1 220.8h0M633.0 218.0h0M633.2 219.4h0M634.2 220.0h0M679.4 282.0h0M625.2 283.6h0M623.7 287.9h0M618.8 285.7h0M618.7 284.6h0M620.5 278.5h0M623.8 278.5h0M624.5 276.1h0M625.5 275.8h0M627.9 279.8h0M626.3 278.3h0M622.3 273.2h0M627.3 287.0h0M620.6 258.3h0M638.8 245.9h0M643.7 232.6h0M646.1 231.9h0M643.4 231.4h0M643.4 234.2h0M642.9 231.3h0M641.3 229.8h0M639.5 231.6h0M637.8 232.7h0M638.1 230.2h0M641.7 230.0h0M641.6 227.5h0M637.1 229.9h0M632.5 224.7h0M632.8 227.9h0M632.3 230.6h0M633.9 230.8h0M618.1 245.8h0M609.6 273.2h0M606.4 215.5h0M618.0 269.8h0M659.0 254.7h0M642.5 281.2h0M638.8 224.9h0M613.2 275.1h0M644.4 263.5h0M667.5 263.7h0M663.9 228.3h0M607.2 237.2h0M613.5 253.9h0M667.4 212.4h0M621.0 219.1h0M665.7 230.0h0M658.7 246.0h0M634.5 218.7h0M671.1 262.8h0M613.7 233.3h0M614.4 278.8h0M607.0 244.0h0M630.3 240.8h0M621.9 212.3h0M649.2 247.5h0M651.0 264.2h0M613.1 247.9h0M674.5 280.8h0M605.5 235.5h0M617.2 230.8h0M648.2 232.8h0M612.0 255.0h0M675.4 229.9h0M640.4 229.4h0M630.5 261.9h0M609.8 280.6h0M657.6 285.1h0M673.6 249.1h0M672.7 265.4h0M617.1 247.5h0M611.1 216.7h0M612.7 249.8h0M673.3 265.7h0M607.1 229.0h0M609.3 263.6h0M636.3 277.8h0M624.8 287.1h0M660.5 255.2h0M612.7 241.9h0M680.8 244.9h0M624.9 280.1h0M642.0 250.3h0M624.5 224.6h0M671.2 282.8h0" stroke="#c0a070" stroke-opacity="0.6" stroke-width="1" stroke-linecap="square" fill="none"/><path d="M616.7 216.0h0M618.3 213.9h0M644.3 258.0h0M649.0 258.2h0M649.3 256.9h0M645.7 260.6h0M631.0 256.4h0M676.0 228.0h0M614.2 238.3h0M617.3 236.2h0M612.7 238.3h0M620.6 276.2h0M626.8 273.6h0M622.6 239.6h0M623.0 232.1h0M646.8 285.2h0M647.7 287.0h0M672.6 231.6h0M674.6 288.1h0M651.8 218.3h0M654.7 269.5h0M644.5 269.0h0M621.6 238.0h0M632.5 239.5h0M604.7 252.4h0M616.2 254.2h0M676.9 279.0h0M658.8 277.3h0M652.4 271.7h0M623.9 215.1h0M630.7 240.3h0M645.6 263.3h0M613.3 269.6h0M620.4 215.3h0M624.7 255.3h0M613.8 269.7h0M605.2 214.2h0M609.2 212.5h0M621.1 283.4h0M627.7 274.9h0M676.0 282.8h0M676.7 284.6h0M616.8 244.2h0M615.3 241.3h0M608.7 243.7h0M644.3 231.3h0M647.0 232.2h0M642.0 232.1h0M663.1 267.4h0M656.7 228.8h0M615.1 219.9h0M654.5 253.6h0M614.9 265.0h0M608.4 247.9h0M673.3 251.5h0M634.8 242.2h0M660.0 281.5h0M630.6 287.6h0M635.2 282.9h0M636.6 226.8h0M618.9 277.8h0M679.4 255.1h0M666.2 236.4h0M609.5 244.2h0M606.0 256.7h0M609.5 248.6h0M608.3 250.7h0M643.8 239.8h0M674.4 269.1h0M661.4 263.9h0M655.1 245.3h0M638.8 282.6h0M633.7 242.5h0M623.1 217.2h0M660.9 252.6h0M676.2 275.9h0M668.8 286.6h0M626.2 251.3h0M611.0 250.6h0M681.0 285.5h0M650.5 279.2h0M681.2 212.3h0M654.8 267.9h0M643.4 286.8h0M678.6 229.8h0M629.5 231.9h0M663.4 227.1h0M680.5 267.1h0M629.8 283.4h0M645.4 280.6h0M644.0 252.4h0M614.6 226.1h0M659.6 232.9h0" stroke="#78b0b0" stroke-opacity="0.6" stroke-width="1" stroke-linecap="square" fill="none"/><path d="M630.8 279.3h0M662.7 259.6h0M657.5 255.4h0M658.7 254.2h0M660.8 250.1h0M664.2 253.5h0M661.3 254.6h0M665.7 257.6h0M665.9 260.5h0M662.6 267.0h0M666.0 267.5h0M665.1 264.9h0M666.6 267.1h0M667.1 267.9h0M667.8 264.8h0M671.4 262.9h0M670.7 267.7h0M672.3 267.1h0M672.7 264.8h0M614.3 216.2h0M648.3 252.9h0M664.4 257.6h0M649.8 255.3h0M644.1 257.3h0M644.4 256.6h0M643.2 257.8h0M642.0 256.5h0M646.6 256.4h0M648.9 259.0h0M647.7 255.8h0M651.7 257.1h0M634.9 253.4h0M633.1 255.3h0M635.3 255.9h0M635.2 257.3h0M636.3 256.6h0M637.3 254.8h0M636.6 253.6h0M628.1 256.5h0M626.3 254.5h0M627.4 255.6h0M622.4 256.6h0M675.4 222.2h0M644.1 220.6h0M663.4 238.0h0M665.6 239.0h0M605.4 279.3h0M626.4 274.2h0M676.2 262.8h0M658.0 275.2h0M672.6 216.8h0M672.7 231.4h0M679.2 217.3h0M679.0 218.7h0M672.6 226.3h0M620.9 242.4h0M610.6 243.9h0M609.2 248.1h0M609.4 252.2h0M664.0 281.3h0M667.6 277.0h0M625.6 228.9h0M624.8 231.5h0M639.2 246.7h0M637.1 247.6h0M639.9 247.0h0M636.5 247.4h0M640.2 245.1h0M643.2 251.9h0M637.4 257.4h0M635.5 260.6h0M627.6 213.3h0M630.8 233.0h0M631.0 235.0h0M644.2 261.2h0M637.5 259.2h0M629.0 251.3h0M610.6 262.9h0M609.7 215.3h0M675.5 286.2h0M678.4 283.5h0M677.1 286.0h0M670.6 287.3h0M625.8 262.0h0M642.3 248.3h0M607.5 285.4h0M616.6 217.7h0M617.5 213.8h0M617.7 212.7h0M615.1 214.0h0M646.2 230.7h0M657.4 226.2h0M637.5 228.4h0M632.5 234.6h0M619.0 229.3h0M666.0 270.0h0M636.0 221.3h0M675.7 265.5h0M675.4 222.9h0M660.5 220.1h0M639.8 261.4h0M672.6 258.4h0M641.3 266.3h0M632.9 213.6h0M663.9 229.2h0M610.9 229.1h0M632.6 253.5h0M656.8 263.4h0M627.1 240.4h0M639.1 259.5h0M613.3 231.3h0M608.0 243.4h0M661.0 263.7h0M635.1 279.5h0M617.0 218.2h0M618.0 230.0h0M619.5 241.7h0M642.0 262.3h0M640.5 230.2h0M650.3 242.1h0M680.6 241.4h0M666.6 222.7h0M621.6 265.8h0M648.7 285.6h0M672.7 273.6h0M674.4 218.5h0M676.2 227.9h0M616.7 255.7h0M623.1 229.6h0M659.6 230.7h0M621.0 212.5h0M623.5 279.6h0M631.7 256.8h0M672.7 230.0h0M608.8 268.6h0M627.9 214.5h0M660.1 233.7h0M659.7 265.3h0M673.1 244.1h0M629.3 259.2h0M614.3 251.3h0" stroke="#9c84b0" stroke-opacity="0.6" stroke-width="1" stroke-linecap="square" fill="none"/><path d="M615.5 215.0h0M616.7 213.6h0M619.1 275.1h0M618.4 277.9h0M627.3 287.9h0M663.0 262.1h0M618.6 220.1h0M617.9 218.9h0M648.2 250.9h0M644.0 258.9h0M642.1 257.9h0M651.7 260.9h0M623.4 260.2h0M670.1 221.7h0M647.8 228.4h0M636.3 286.3h0M614.6 257.9h0M612.9 265.9h0M616.7 265.5h0M604.5 285.9h0M607.5 288.1h0M626.3 260.6h0M616.1 254.2h0M626.4 239.7h0M674.1 267.4h0M673.5 265.0h0M673.9 260.6h0M678.6 259.8h0M679.1 258.9h0M678.8 261.1h0M675.8 260.5h0M674.6 261.4h0M671.9 259.3h0M670.0 253.9h0M658.1 279.6h0M642.1 284.0h0M640.3 283.6h0M644.3 285.7h0M647.1 285.2h0M650.2 284.5h0M644.9 285.7h0M645.2 287.4h0M648.9 287.1h0M648.8 287.9h0M659.6 229.5h0M661.0 230.6h0M660.5 228.0h0M664.0 223.8h0M666.4 222.8h0M672.6 218.1h0M675.2 215.8h0M671.6 231.4h0M674.6 229.7h0M671.0 230.3h0M675.4 234.4h0M668.2 235.6h0M671.8 239.5h0M678.5 286.0h0M658.4 264.1h0M673.8 216.5h0M679.2 221.0h0M615.0 267.9h0M604.3 250.4h0M671.4 274.2h0M670.0 276.4h0M676.4 273.8h0M677.0 273.0h0M677.9 269.3h0M642.9 243.0h0M643.7 242.2h0M647.3 241.8h0M653.0 241.5h0M649.8 241.6h0M632.8 251.1h0M632.0 245.6h0M630.8 239.9h0M648.9 260.2h0M609.0 260.8h0M607.9 262.0h0M607.0 263.3h0M604.8 266.5h0M605.3 267.0h0M615.1 276.8h0M611.2 277.6h0M624.7 228.2h0M621.1 279.8h0M628.3 258.8h0M641.3 243.4h0M619.5 244.2h0M616.8 218.3h0M642.4 231.5h0M645.2 231.9h0M631.9 281.6h0M640.9 217.4h0M674.6 263.6h0M678.6 233.5h0M667.1 282.9h0M647.7 213.1h0M632.3 262.6h0M637.6 231.6h0M635.3 274.1h0M666.5 229.5h0M637.8 270.6h0M663.4 259.0h0M634.6 216.2h0M636.2 219.9h0M653.7 220.2h0M632.5 267.0h0M651.4 242.9h0M658.5 252.1h0M610.9 250.1h0M655.4 287.3h0M642.5 235.7h0M659.5 233.0h0M611.5 231.3h0M674.1 222.3h0M652.1 239.7h0M629.7 228.7h0M620.9 224.6h0M610.9 262.5h0M653.9 245.8h0M647.2 221.0h0M660.3 227.7h0M619.1 270.0h0M659.3 280.0h0M656.3 237.5h0M681.3 235.0h0M621.5 250.4h0M647.1 272.8h0M637.0 227.6h0M659.0 286.8h0M624.1 277.8h0" stroke="#b89080" stroke-opacity="0.6" stroke-width="1" stroke-linecap="square" fill="none"/><path d="M648.7 287.3h0M614.7 278.6h0M614.2 280.5h0M662.6 248.1h0M607.6 220.1h0M656.3 248.8h0M644.1 257.4h0M644.9 255.7h0M674.1 227.0h0M674.6 223.4h0M679.1 226.6h0M678.8 224.8h0M672.7 229.3h0M673.5 227.6h0M674.9 225.9h0M679.8 223.9h0M677.1 225.0h0M677.0 225.5h0M672.3 225.7h0M671.5 223.3h0M668.6 223.3h0M671.9 225.1h0M673.7 223.3h0M672.9 224.9h0M643.3 228.9h0M643.6 227.9h0M644.8 221.3h0M643.4 223.6h0M642.3 223.0h0M643.6 220.0h0M642.1 221.7h0M609.8 268.0h0M616.4 264.1h0M611.8 240.7h0M613.5 241.7h0M616.7 238.0h0M613.0 237.1h0M613.2 240.3h0M616.0 242.3h0M616.6 237.3h0M610.4 240.0h0M612.8 237.2h0M611.6 238.5h0M610.9 234.8h0M609.9 239.6h0M637.5 217.8h0M626.8 270.7h0M624.4 265.4h0M630.5 243.3h0M621.0 228.3h0M657.0 279.1h0M659.1 282.0h0M645.9 285.9h0M646.1 284.4h0M671.6 276.1h0M669.3 228.0h0M624.7 234.4h0M624.7 234.3h0M645.5 280.1h0M642.4 272.0h0M660.2 216.9h0M675.3 218.8h0M675.7 221.9h0M671.4 214.7h0M612.5 255.0h0M677.0 276.1h0M660.2 270.7h0M659.2 267.4h0M659.1 264.8h0M660.0 277.1h0M664.9 277.1h0M649.6 240.6h0M627.6 232.0h0M628.9 232.4h0M626.4 231.8h0M626.7 232.8h0M624.6 234.3h0M626.0 232.6h0M640.5 248.4h0M650.1 260.3h0M644.4 259.6h0M640.8 258.6h0M626.7 256.5h0M629.9 216.9h0M616.6 232.9h0M622.9 257.5h0M644.2 246.2h0M642.8 229.4h0M632.4 234.6h0M679.3 253.8h0M651.7 240.9h0M637.7 282.5h0M621.6 214.3h0M630.9 230.9h0M623.0 213.8h0M633.5 276.7h0M649.9 275.0h0M629.4 236.3h0M630.1 233.2h0M637.6 236.5h0M646.8 214.5h0M621.6 246.4h0M622.1 219.8h0M664.0 250.1h0M667.1 251.9h0M675.5 230.5h0M621.6 237.1h0M639.7 282.7h0M621.4 261.5h0M677.5 241.3h0M679.2 287.7h0M612.4 281.1h0M657.3 245.7h0M664.6 283.0h0M660.7 280.0h0M678.8 264.3h0M656.3 256.6h0M612.6 254.0h0M674.9 240.0h0M621.6 266.8h0M637.8 212.9h0M634.5 234.8h0M610.9 278.1h0M651.4 284.9h0M636.3 286.7h0M633.9 232.0h0M679.5 246.8h0M637.5 251.1h0M636.1 283.5h0M665.1 279.5h0M641.9 269.8h0M617.5 219.9h0M612.5 239.2h0M615.1 212.9h0M629.0 269.0h0M676.0 212.2h0M674.6 219.1h0M616.6 241.4h0M669.4 272.1h0M676.5 282.7h0M607.8 225.3h0M628.7 233.5h0M608.0 284.2h0M629.2 258.0h0M666.9 222.7h0M607.6 233.7h0M652.1 254.0h0M641.3 244.4h0" stroke="#8898c0" stroke-opacity="0.6" stroke-width="1" stroke-linecap="square" fill="none"/><path d="M649.5 282.7h0M618.6 286.3h0M622.6 287.0h0M672.8 262.9h0M610.1 212.4h0M608.0 218.6h0M650.5 260.1h0M654.0 260.5h0M653.5 263.2h0M656.7 260.0h0M663.9 261.0h0M662.1 259.9h0M662.3 261.7h0M656.4 263.7h0M644.0 223.5h0M636.9 287.3h0M644.1 283.9h0M618.6 262.6h0M666.7 237.8h0M669.5 237.7h0M619.6 276.3h0M627.1 268.9h0M631.7 244.5h0M635.1 241.0h0M627.7 239.5h0M626.8 240.6h0M621.1 240.2h0M620.1 238.2h0M619.2 239.0h0M619.8 234.8h0M609.9 253.9h0M610.5 254.0h0M658.9 275.4h0M659.3 275.4h0M673.0 224.0h0M669.3 236.7h0M678.6 218.5h0M677.2 227.5h0M681.4 225.4h0M671.4 276.8h0M668.3 229.1h0M668.0 230.1h0M672.3 225.2h0M672.9 226.3h0M672.4 230.5h0M670.7 228.3h0M669.1 227.6h0M665.7 224.9h0M658.8 217.4h0M677.3 219.8h0M612.6 261.8h0M605.1 252.8h0M680.2 270.2h0M638.0 280.1h0M639.8 281.2h0M644.7 286.7h0M639.4 282.9h0M638.6 284.9h0M638.4 285.7h0M629.7 231.7h0M640.8 253.2h0M633.6 251.6h0M641.4 261.7h0M607.4 261.5h0M625.3 254.9h0M624.7 226.5h0M628.5 223.7h0M617.4 230.7h0M619.3 233.0h0M627.1 230.6h0M629.0 232.3h0M625.5 228.8h0M628.1 232.0h0M680.8 283.0h0M678.9 286.6h0M673.1 286.1h0M672.9 286.5h0M671.7 283.5h0M672.8 280.7h0M676.6 284.5h0M677.7 285.2h0M680.1 280.6h0M671.7 285.6h0M669.6 286.7h0M641.3 246.2h0M622.3 251.7h0M604.9 282.3h0M617.4 218.6h0M634.5 228.8h0M675.5 216.6h0M636.6 222.1h0M675.1 238.9h0M654.8 285.0h0M613.0 278.5h0M627.7 271.5h0M643.1 245.0h0M618.9 276.8h0M608.5 223.5h0M626.2 264.7h0M632.4 221.1h0M680.7 247.1h0M673.5 273.1h0M624.5 226.8h0M646.1 273.3h0M607.2 243.7h0M677.6 235.4h0M611.8 232.5h0M608.5 228.7h0M649.7 273.5h0M656.4 243.5h0M630.3 252.1h0M622.8 230.2h0M619.7 273.8h0M661.1 219.7h0M657.9 247.4h0M630.8 262.7h0M670.9 233.4h0M620.4 268.7h0M614.8 234.4h0M620.1 244.4h0M621.9 221.6h0M661.9 236.7h0M676.1 216.3h0M652.1 267.8h0M626.7 273.0h0M622.3 244.6h0M649.4 255.9h0M619.5 263.1h0M613.8 224.7h0M670.5 267.3h0M663.1 237.7h0M655.9 214.4h0M670.4 252.6h0M618.3 279.8h0M658.7 281.2h0M655.6 271.3h0M654.5 249.9h0M664.1 265.7h0M668.6 271.7h0M629.6 220.0h0M645.5 233.8h0" stroke="#b8b078" stroke-opacity="0.6" stroke-width="1" stroke-linecap="square" fill="none"/><path d="M648.2 286.0h0M616.8 276.9h0M624.6 286.0h0M630.0 282.4h0M617.2 218.9h0M617.5 218.2h0M618.0 218.5h0M620.1 212.8h0M620.3 214.6h0M617.8 216.6h0M616.4 219.3h0M619.4 217.6h0M612.8 214.6h0M609.2 215.2h0M606.5 213.1h0M605.5 215.9h0M605.3 214.1h0M606.3 218.0h0M604.3 221.3h0M605.4 217.2h0M609.7 236.9h0M609.8 235.3h0M610.7 236.8h0M612.6 233.7h0M616.3 233.2h0M618.8 236.3h0M620.7 237.7h0M622.0 237.3h0M651.2 248.1h0M662.8 257.8h0M655.0 265.6h0M643.8 256.4h0M665.1 270.2h0M646.1 258.7h0M675.7 226.7h0M676.8 224.7h0M673.5 224.2h0M642.8 225.2h0M616.4 267.2h0M662.2 242.4h0M664.1 238.5h0M629.6 232.5h0M625.5 235.8h0M620.4 231.0h0M622.1 227.9h0M621.0 229.5h0M624.1 225.6h0M624.5 225.0h0M628.0 225.3h0M633.5 226.2h0M617.8 252.2h0M616.2 256.8h0M617.1 253.5h0M617.0 250.1h0M615.4 254.1h0M613.4 253.1h0M607.5 253.5h0M607.6 255.5h0M606.3 257.5h0M659.5 283.1h0M673.2 231.9h0M676.7 284.8h0M621.3 233.5h0M623.1 233.2h0M629.2 232.6h0M627.8 231.7h0M627.3 230.2h0M626.5 232.2h0M606.3 250.7h0M673.9 275.5h0M672.9 274.0h0M661.1 280.6h0M657.6 260.0h0M662.5 281.1h0M653.7 239.5h0M643.5 285.8h0M619.1 213.3h0M626.7 275.5h0M630.0 280.0h0M642.3 278.7h0M640.1 283.8h0M644.6 283.0h0M643.0 284.7h0M643.7 282.6h0M644.5 285.5h0M645.8 283.4h0M644.2 280.4h0M639.0 281.3h0M634.7 282.9h0M637.4 277.9h0M632.2 281.8h0M631.8 283.7h0M632.4 282.9h0M631.0 280.3h0M629.3 281.8h0M626.1 283.1h0M626.5 283.3h0M627.9 287.1h0M627.9 287.4h0M653.5 225.1h0M626.2 280.6h0M630.8 271.9h0M662.7 218.6h0M641.4 249.6h0M647.6 218.9h0M667.6 250.4h0M623.0 268.5h0M635.0 271.7h0M661.6 269.8h0M652.4 238.1h0M654.6 288.0h0M655.4 253.4h0M648.0 218.2h0M627.6 234.6h0M647.5 273.8h0M627.6 252.8h0M609.1 240.4h0M638.5 232.3h0M665.2 268.0h0M635.4 254.3h0M632.8 279.0h0M661.6 247.0h0M623.9 240.4h0M669.2 272.7h0M635.9 239.1h0M663.0 270.5h0M675.3 235.0h0M658.1 275.9h0M653.1 281.6h0M657.9 214.3h0M604.5 226.2h0M666.6 277.9h0M677.8 225.4h0M663.9 238.7h0M653.2 264.4h0" stroke="#c08890" stroke-opacity="0.6" stroke-width="1" stroke-linecap="square" fill="none"/><path d="M764.8 271.0h0M746.8 238.0h0M773.3 268.0h0M763.9 262.9h0M779.5 258.0h0M759.3 264.0h0M739.5 265.8h0M714.8 223.0h0M711.4 221.7h0M724.9 220.5h0M717.2 254.1h0M733.8 230.8h0M779.1 228.9h0M763.2 245.7h0M740.8 283.5h0M735.6 279.9h0M732.1 281.5h0M731.8 284.1h0M730.5 277.1h0M731.5 279.7h0M729.2 267.5h0M727.2 265.8h0M724.4 264.5h0M719.9 265.8h0M717.4 267.6h0M718.0 268.4h0M715.7 268.7h0M717.3 270.3h0M715.5 273.3h0M721.7 235.7h0M724.9 236.0h0M724.4 234.0h0M722.3 233.4h0M719.9 238.8h0M720.6 236.4h0M722.1 237.0h0M721.0 234.2h0M721.0 232.7h0M723.2 233.1h0M725.1 233.4h0M725.5 230.7h0M748.9 286.9h0M757.9 287.6h0M756.5 286.5h0M761.1 285.1h0M764.5 254.0h0M769.1 251.8h0M743.9 270.8h0M751.7 228.1h0M767.7 217.2h0M777.0 247.3h0M779.9 250.6h0M712.3 215.2h0M774.7 256.6h0M779.3 251.8h0M749.5 247.5h0M753.1 279.3h0M766.8 281.2h0M758.8 234.8h0M718.9 253.4h0M748.9 244.0h0M733.7 280.2h0M744.4 242.7h0M736.5 247.8h0M716.6 247.9h0M713.0 252.3h0M768.2 255.9h0M725.7 217.8h0M735.9 279.7h0M745.4 223.6h0M761.1 274.5h0M724.2 249.7h0M770.6 242.5h0M785.3 230.1h0M756.1 273.7h0M737.2 286.2h0M765.5 219.7h0M786.3 218.2h0M764.7 273.7h0M727.0 234.3h0M727.7 282.2h0M748.8 213.5h0M710.1 247.4h0M729.7 277.5h0M785.3 256.6h0M778.9 219.8h0M724.9 282.7h0M723.4 228.1h0M761.0 229.8h0M747.3 261.8h0M718.8 251.0h0M712.9 234.1h0M728.4 276.8h0M766.4 263.1h0M771.5 268.9h0M756.4 274.0h0M759.0 271.0h0M742.9 228.3h0M786.2 231.0h0M722.4 265.1h0M778.5 216.4h0M752.4 215.8h0M725.7 266.2h0M764.2 232.3h0M764.8 259.0h0M709.4 256.3h0M777.2 278.0h0" stroke="#b48a9c" stroke-opacity="0.6" stroke-width="1" stroke-linecap="square" fill="none"/><path d="M780.4 257.7h0M783.8 255.7h0M758.6 280.5h0M739.7 238.5h0M743.8 239.3h0M745.6 239.0h0M744.7 238.2h0M743.7 236.2h0M742.3 235.2h0M746.4 234.4h0M747.4 236.7h0M747.5 233.1h0M748.6 235.3h0M765.4 263.3h0M763.5 268.3h0M730.0 224.8h0M720.4 220.9h0M719.9 223.6h0M780.6 221.2h0M777.2 227.6h0M758.9 277.8h0M715.9 248.6h0M712.9 249.5h0M710.2 251.0h0M713.8 259.9h0M716.8 258.6h0M716.0 257.1h0M715.4 253.4h0M719.2 256.8h0M717.8 259.2h0M717.0 259.0h0M718.6 258.6h0M716.2 242.4h0M716.9 240.2h0M711.8 240.0h0M712.8 243.5h0M733.1 230.2h0M735.0 232.2h0M735.1 228.2h0M730.2 225.6h0M725.7 221.9h0M726.4 221.4h0M722.4 221.8h0M723.8 222.6h0M723.8 220.5h0M723.0 219.1h0M722.0 219.1h0M722.5 216.5h0M721.8 213.6h0M772.3 228.4h0M762.9 245.0h0M727.0 269.8h0M723.1 273.3h0M724.9 231.3h0M722.3 229.7h0M756.1 288.0h0M711.4 235.3h0M769.0 227.4h0M762.3 286.6h0M758.1 286.3h0M763.2 252.7h0M710.6 264.5h0M752.2 270.6h0M758.2 265.1h0M757.3 269.5h0M734.1 247.1h0M745.3 234.0h0M746.8 235.1h0M746.7 235.1h0M746.3 234.9h0M747.5 232.7h0M749.5 230.2h0M748.4 227.1h0M746.9 222.8h0M745.4 218.4h0M749.4 216.5h0M747.7 217.3h0M748.1 213.6h0M725.6 282.3h0M717.5 274.3h0M710.9 263.3h0M709.8 265.0h0M710.3 262.2h0M713.2 263.4h0M710.5 218.0h0M710.6 214.0h0M709.4 216.7h0M712.9 215.1h0M711.9 215.2h0M712.5 213.8h0M780.6 254.0h0M776.9 242.5h0M734.4 261.9h0M713.6 277.5h0M747.1 278.2h0M746.8 240.1h0M747.2 238.7h0M747.3 235.2h0M751.4 237.2h0M751.0 236.7h0M743.8 238.0h0M745.6 243.7h0M749.2 240.9h0M747.7 242.8h0M750.3 241.3h0M750.4 241.3h0M752.6 242.6h0M752.0 243.3h0M753.5 248.7h0M751.3 245.7h0M748.7 245.6h0M748.5 247.6h0M752.4 276.6h0M771.2 267.9h0M723.0 237.8h0M733.5 236.6h0M746.1 244.1h0M734.3 279.4h0M735.6 252.1h0M775.6 218.4h0M771.3 213.5h0M737.1 242.3h0M761.1 260.0h0M765.1 250.7h0M715.9 247.6h0M715.9 244.3h0M718.6 241.6h0M720.4 255.0h0M718.2 255.8h0M719.7 252.9h0M721.6 251.2h0M722.8 250.8h0M716.5 246.9h0M714.8 250.1h0M711.9 250.0h0M722.6 246.2h0M720.1 281.0h0M755.4 228.6h0M747.0 226.3h0M716.2 271.6h0M755.1 237.6h0M720.0 214.7h0M785.6 257.7h0M728.5 252.2h0M760.1 282.5h0M764.0 281.6h0M719.1 235.7h0M724.6 266.2h0M760.4 232.0h0M774.8 221.8h0M757.0 254.4h0M712.0 246.4h0M723.4 221.9h0M784.5 214.5h0M754.8 279.4h0M751.9 242.3h0M714.0 274.4h0M778.4 250.9h0M745.0 221.6h0M727.9 271.1h0M711.7 229.9h0M759.2 245.7h0M776.7 272.4h0M725.4 258.4h0M776.6 268.9h0M769.7 235.4h0M762.8 252.5h0M725.5 226.0h0M784.1 262.2h0M773.2 268.0h0M728.4 247.0h0M752.1 258.7h0M780.0 282.6h0M781.3 272.5h0M737.1 264.1h0M763.1 250.2h0M734.5 271.9h0M754.8 288.0h0M755.4 216.0h0M784.6 261.6h0" stroke="#8a9cc0" stroke-opacity="0.6" stroke-width="1" stroke-linecap="square" fill="none"/><path d="M771.2 273.5h0M762.9 273.6h0M759.8 275.6h0M747.7 269.0h0M742.0 265.8h0M732.5 214.3h0M729.7 229.4h0M780.3 244.0h0M779.2 246.6h0M781.6 250.1h0M782.9 246.3h0M781.5 247.0h0M780.8 249.0h0M779.2 252.1h0M781.9 252.5h0M779.3 249.0h0M779.9 249.0h0M780.8 254.7h0M781.1 257.3h0M785.3 257.8h0M730.2 267.4h0M728.0 266.3h0M728.6 267.7h0M726.5 269.2h0M724.2 269.2h0M722.7 267.4h0M723.9 270.2h0M729.4 267.9h0M725.6 269.7h0M726.6 270.9h0M727.9 271.4h0M726.9 269.2h0M723.3 272.5h0M715.2 275.5h0M719.2 275.2h0M717.5 276.4h0M718.6 277.6h0M722.1 275.3h0M723.6 272.8h0M719.3 270.7h0M731.9 286.6h0M739.0 217.6h0M786.1 283.6h0M710.1 238.1h0M770.5 246.8h0M757.4 256.6h0M729.3 256.6h0M767.2 216.5h0M783.8 244.4h0M775.2 259.0h0M775.2 253.4h0M782.3 241.5h0M773.3 235.7h0M747.0 239.6h0M754.6 242.0h0M757.4 242.5h0M728.3 227.6h0M723.5 251.7h0M736.5 286.5h0M735.7 287.9h0M740.7 280.4h0M738.6 280.3h0M731.8 280.5h0M732.7 281.2h0M745.0 252.8h0M752.6 287.5h0M776.1 215.3h0M717.2 246.7h0M718.4 241.3h0M722.5 247.5h0M760.7 279.8h0M777.1 262.1h0M717.2 283.5h0M711.5 240.4h0M734.0 226.0h0M732.5 221.4h0M743.1 272.4h0M754.1 239.6h0M733.0 286.0h0M761.5 276.1h0M741.0 232.2h0M758.7 274.8h0M749.9 234.1h0M786.4 273.9h0M716.8 247.4h0M752.1 228.0h0M777.4 253.8h0M780.8 278.9h0M724.1 230.1h0M719.1 229.1h0M751.5 259.2h0M747.9 218.0h0M762.2 244.1h0M726.5 282.5h0M752.7 226.6h0M780.1 258.3h0M770.1 267.3h0M744.4 244.8h0M740.1 268.5h0M758.8 238.8h0M740.1 239.7h0M756.0 237.9h0M720.5 280.5h0M735.0 241.7h0M731.1 235.6h0M744.6 277.2h0M720.1 284.5h0M709.7 264.6h0M750.1 285.1h0M729.4 258.8h0M781.7 266.1h0" stroke="#98b088" stroke-opacity="0.6" stroke-width="1" stroke-linecap="square" fill="none"/><path d="M780.9 260.5h0M742.1 235.0h0M764.1 268.4h0M760.5 262.0h0M719.1 222.7h0M716.0 226.1h0M716.7 224.7h0M715.4 221.6h0M717.3 219.5h0M721.1 220.9h0M724.1 223.9h0M720.8 226.6h0M717.2 226.3h0M717.7 228.7h0M716.4 231.3h0M716.5 233.4h0M711.9 233.5h0M710.1 234.6h0M710.9 231.5h0M713.1 224.7h0M711.7 223.7h0M712.4 221.7h0M711.3 221.4h0M732.3 214.9h0M733.2 216.1h0M728.8 222.8h0M729.0 223.4h0M728.2 220.8h0M728.8 217.7h0M730.1 217.2h0M733.1 222.8h0M726.7 229.4h0M728.3 220.4h0M778.8 223.3h0M778.1 224.9h0M742.5 230.2h0M740.9 228.0h0M744.3 227.9h0M745.5 233.9h0M745.8 235.6h0M747.4 229.5h0M745.9 231.5h0M741.8 228.8h0M744.2 228.2h0M746.1 228.5h0M747.1 227.7h0M747.9 232.3h0M745.1 239.5h0M746.2 237.4h0M745.4 237.8h0M743.7 243.0h0M748.7 240.7h0M749.2 241.2h0M750.6 240.2h0M760.6 275.1h0M759.9 277.5h0M782.8 233.4h0M730.3 284.3h0M728.7 278.7h0M717.1 274.4h0M710.4 217.0h0M711.3 213.4h0M711.9 216.9h0M714.2 216.0h0M709.4 213.6h0M709.7 215.2h0M750.9 285.5h0M746.4 215.6h0M748.2 215.0h0M744.4 217.5h0M741.9 217.1h0M744.3 223.4h0M737.7 223.0h0M741.3 224.7h0M738.2 217.7h0M738.1 219.3h0M742.8 218.3h0M743.7 215.0h0M744.2 212.7h0M767.8 247.0h0M716.3 265.0h0M716.9 265.3h0M713.7 267.6h0M712.7 265.3h0M712.4 265.4h0M719.1 245.9h0M720.8 245.8h0M716.4 246.2h0M712.1 244.7h0M710.1 243.4h0M709.6 241.6h0M749.2 267.2h0M743.8 270.0h0M759.1 267.8h0M728.3 260.6h0M769.8 219.5h0M721.4 237.3h0M720.2 238.9h0M716.2 234.8h0M715.2 236.5h0M714.9 233.0h0M719.0 232.8h0M720.4 233.7h0M719.6 236.5h0M716.9 233.4h0M717.0 234.8h0M718.6 233.9h0M720.0 234.7h0M725.3 239.2h0M775.9 249.6h0M777.1 244.7h0M783.4 242.0h0M781.2 244.9h0M778.7 248.7h0M779.1 250.3h0M778.2 244.1h0M776.5 247.4h0M776.0 246.5h0M773.6 250.9h0M771.7 254.4h0M767.2 252.8h0M764.1 248.7h0M764.3 248.8h0M759.9 249.7h0M759.8 251.1h0M769.8 258.2h0M715.5 276.7h0M712.0 279.5h0M710.5 277.1h0M710.9 277.4h0M712.1 279.8h0M710.2 279.2h0M750.1 276.3h0M749.4 279.1h0M745.4 283.8h0M779.3 217.4h0M778.7 225.6h0M749.7 273.8h0M738.5 282.0h0M737.3 251.4h0M769.8 271.0h0M770.3 269.4h0M775.7 264.3h0M738.2 241.6h0M761.3 260.5h0M764.0 246.7h0M717.1 248.0h0M718.6 256.9h0M770.1 235.0h0M711.4 235.3h0M772.8 235.3h0M765.6 282.5h0M750.5 252.6h0M773.1 245.1h0M715.9 253.8h0M729.0 275.1h0M761.7 229.7h0M778.6 241.8h0M766.0 242.3h0M754.1 236.0h0M774.1 276.4h0M749.9 261.6h0M714.3 247.1h0M739.0 259.2h0M734.1 219.3h0M723.6 274.6h0M733.9 281.6h0M726.8 257.4h0M725.6 228.7h0M778.0 274.2h0M769.1 270.9h0M765.4 231.0h0M718.4 227.4h0M740.3 274.7h0M778.0 219.9h0M721.0 263.3h0M734.1 264.7h0M723.8 248.7h0M751.9 217.8h0M741.9 227.0h0M776.6 286.2h0M719.1 228.8h0M753.5 263.8h0M777.9 222.6h0M762.4 273.5h0M785.1 264.0h0M774.0 279.4h0M736.9 223.6h0M729.7 265.5h0M727.4 246.5h0M781.3 265.9h0" stroke="#a88fbf" stroke-opacity="0.6" stroke-width="1" stroke-linecap="square" fill="none"/><path d="M777.7 258.2h0M780.6 254.8h0M780.7 254.9h0M774.6 270.5h0M776.5 270.3h0M778.5 270.6h0M778.8 269.6h0M773.1 270.5h0M765.7 269.0h0M763.7 273.2h0M766.1 274.0h0M764.6 272.7h0M764.0 276.0h0M755.2 280.3h0M755.0 276.5h0M755.2 277.1h0M761.1 275.1h0M768.7 267.7h0M770.3 268.8h0M748.5 228.7h0M751.7 272.6h0M718.0 255.1h0M767.7 281.5h0M768.0 277.9h0M771.2 278.6h0M772.8 276.3h0M772.3 272.2h0M774.5 275.2h0M774.0 276.3h0M774.9 275.3h0M776.4 275.1h0M774.4 275.3h0M779.1 277.1h0M778.8 280.6h0M783.0 282.5h0M783.7 284.9h0M732.5 225.8h0M724.8 224.2h0M725.0 220.6h0M774.9 229.3h0M779.4 228.3h0M713.0 214.0h0M744.3 285.7h0M754.0 287.0h0M761.3 280.7h0M761.6 280.8h0M758.8 280.9h0M761.0 281.3h0M760.0 284.2h0M767.3 239.9h0M768.5 240.4h0M758.0 279.3h0M759.5 283.0h0M760.3 285.3h0M756.9 284.6h0M756.2 283.6h0M757.1 287.0h0M754.0 286.5h0M752.0 286.7h0M765.5 251.3h0M712.4 244.5h0M751.1 268.6h0M754.9 272.5h0M745.2 253.8h0M747.6 254.5h0M746.3 256.2h0M746.7 250.4h0M741.0 246.4h0M740.3 243.9h0M738.5 246.9h0M737.2 244.5h0M731.0 251.4h0M728.3 258.3h0M768.8 215.8h0M768.6 215.3h0M772.3 217.4h0M771.5 213.6h0M775.7 214.2h0M772.4 216.0h0M766.9 219.7h0M770.6 217.5h0M768.4 217.4h0M770.3 217.3h0M762.6 212.7h0M762.4 216.4h0M764.2 219.5h0M760.9 222.1h0M718.6 283.3h0M723.5 237.3h0M779.0 244.3h0M780.5 245.9h0M711.0 215.8h0M762.1 266.7h0M758.9 267.0h0M775.3 239.7h0M745.9 268.3h0M748.0 238.5h0M779.1 213.4h0M777.7 215.5h0M773.9 223.8h0M773.9 225.1h0M775.3 227.0h0M779.4 225.7h0M781.8 224.3h0M780.4 226.0h0M780.0 226.9h0M777.7 226.4h0M770.8 271.5h0M765.2 278.3h0M766.7 279.7h0M769.9 277.7h0M768.6 277.0h0M770.1 276.4h0M768.3 276.5h0M764.2 278.4h0M762.0 277.6h0M762.4 280.8h0M760.3 279.9h0M759.7 231.5h0M755.9 234.5h0M722.7 236.2h0M732.9 284.7h0M773.1 212.3h0M740.6 247.4h0M718.6 257.1h0M722.4 240.5h0M745.3 284.9h0M780.0 259.1h0M753.6 212.9h0M774.2 280.1h0M714.8 249.7h0M786.1 229.7h0M715.1 268.5h0M748.4 277.6h0M739.9 222.5h0M715.2 230.3h0M758.5 247.9h0M746.3 252.5h0M766.3 221.1h0M737.1 261.0h0M765.7 238.5h0M716.2 213.1h0M773.1 231.5h0M744.9 221.4h0M777.9 282.2h0M738.2 238.8h0M733.6 222.6h0M761.3 287.2h0M741.0 239.3h0M727.3 238.6h0M724.2 258.2h0M740.8 267.9h0M710.3 229.4h0M710.1 281.0h0M723.0 277.9h0M741.3 262.0h0M726.0 226.9h0M759.8 235.4h0M762.6 224.2h0M739.4 233.6h0M722.5 265.1h0M733.6 278.1h0M721.8 232.3h0M781.4 285.4h0M756.1 266.0h0M745.7 271.6h0M750.3 253.5h0M755.4 239.6h0M724.5 220.1h0M732.5 271.9h0M732.7 285.9h0M763.8 254.7h0M763.6 227.2h0" stroke="#c0a070" stroke-opacity="0.6" stroke-width="1" stroke-linecap="square" fill="none"/><path d="M781.1 249.8h0M748.3 233.8h0M762.5 265.6h0M742.1 239.7h0M751.6 244.7h0M784.6 286.8h0M780.8 230.9h0M715.7 278.7h0M761.8 285.3h0M771.5 229.6h0M770.5 227.9h0M769.6 226.8h0M770.0 230.2h0M769.5 235.0h0M769.5 241.5h0M771.1 242.1h0M774.2 242.6h0M770.6 239.0h0M766.7 241.3h0M765.6 245.0h0M768.2 247.3h0M767.4 244.8h0M769.4 244.8h0M769.6 244.7h0M769.2 244.5h0M762.3 285.6h0M767.4 250.7h0M752.7 269.4h0M743.4 271.2h0M743.5 272.7h0M744.3 234.3h0M773.4 213.5h0M763.4 219.8h0M725.3 275.4h0M709.4 261.2h0M779.0 241.3h0M777.6 245.7h0M776.6 247.0h0M775.0 245.4h0M776.4 235.1h0M777.6 235.5h0M778.3 240.4h0M773.0 239.6h0M774.5 237.8h0M774.1 238.6h0M771.0 236.6h0M775.4 231.2h0M774.5 238.5h0M771.6 238.9h0M713.3 278.1h0M779.0 226.8h0M773.6 270.1h0M754.2 239.1h0M753.6 239.3h0M755.7 240.2h0M754.7 240.8h0M756.6 239.8h0M752.8 241.2h0M753.8 239.6h0M753.2 237.7h0M752.6 241.8h0M755.0 240.6h0M756.0 236.7h0M758.9 234.5h0M749.9 244.4h0M763.7 268.7h0M741.5 243.9h0M745.5 244.9h0M743.0 245.8h0M738.0 246.6h0M739.9 245.4h0M737.5 247.8h0M736.5 249.4h0M736.9 248.5h0M731.9 252.1h0M738.9 253.1h0M762.4 256.5h0M764.4 254.8h0M750.5 269.0h0M763.6 277.7h0M740.2 284.6h0M768.2 256.8h0M781.5 272.5h0M777.4 214.3h0M770.9 264.0h0M763.7 254.5h0M729.5 252.8h0M776.6 254.2h0M736.4 241.6h0M775.9 233.3h0M721.9 261.3h0M733.6 286.6h0M731.0 217.0h0M759.2 249.9h0M712.6 262.5h0M779.3 220.0h0M779.2 281.2h0M731.4 252.7h0M738.4 270.2h0M785.1 225.2h0M776.5 242.3h0M776.9 256.3h0M751.3 244.9h0M722.6 243.6h0M749.9 277.1h0M744.2 236.0h0M745.3 219.5h0M769.1 285.6h0M715.4 225.6h0M778.8 223.6h0M774.4 235.5h0M762.2 229.9h0M717.7 218.0h0M731.3 253.3h0M732.8 262.4h0M768.2 243.6h0M759.7 247.1h0M750.8 265.4h0M784.1 234.1h0M785.8 227.2h0M731.2 245.2h0M710.2 282.9h0M725.6 270.9h0M753.7 233.0h0M773.6 270.5h0M732.8 271.7h0M763.9 243.3h0M756.7 265.8h0M768.5 222.8h0M739.1 257.3h0M779.4 282.7h0M749.5 253.4h0M771.4 247.8h0M786.1 230.1h0" stroke="#78b0b0" stroke-opacity="0.6" stroke-width="1" stroke-linecap="square" fill="none"/><path d="M775.0 268.9h0M762.7 268.2h0M763.1 274.3h0M721.9 219.6h0M722.6 221.5h0M722.9 221.0h0M721.6 220.7h0M719.7 222.1h0M718.0 222.1h0M720.7 226.6h0M723.2 225.4h0M724.2 226.7h0M722.2 224.2h0M722.6 227.4h0M721.8 220.6h0M717.8 219.6h0M719.6 219.1h0M718.3 220.4h0M782.5 217.7h0M779.0 278.0h0M781.8 249.1h0M766.6 246.6h0M724.3 270.6h0M711.6 219.1h0M709.7 215.8h0M710.9 214.4h0M721.2 235.7h0M711.6 230.2h0M767.7 238.0h0M769.8 237.3h0M771.7 241.0h0M711.9 229.3h0M711.5 228.1h0M714.9 224.3h0M759.2 250.4h0M748.5 269.1h0M760.4 263.0h0M766.1 215.8h0M764.8 213.1h0M765.5 212.4h0M746.8 235.6h0M754.0 226.9h0M777.8 244.8h0M714.1 216.5h0M774.7 266.2h0M777.5 259.8h0M783.4 254.2h0M776.5 257.3h0M775.0 256.3h0M776.6 256.7h0M770.9 258.3h0M776.4 253.4h0M777.5 252.9h0M757.8 266.8h0M760.5 265.9h0M760.5 266.5h0M762.4 267.0h0M761.1 267.1h0M757.6 265.9h0M757.4 265.9h0M756.3 262.1h0M763.5 265.2h0M762.9 263.7h0M761.7 263.4h0M763.2 265.8h0M745.6 264.4h0M745.3 265.9h0M742.7 266.2h0M744.3 269.8h0M744.2 263.3h0M744.9 267.0h0M738.1 264.3h0M737.8 262.2h0M734.4 256.1h0M732.4 254.3h0M733.2 252.8h0M730.8 249.5h0M731.8 247.1h0M751.8 273.2h0M767.5 273.4h0M757.7 241.9h0M718.8 250.7h0M715.4 251.8h0M719.0 247.7h0M720.0 242.8h0M721.1 244.5h0M722.8 243.0h0M726.1 239.7h0M729.7 239.8h0M733.2 282.7h0M766.2 275.8h0M767.6 276.1h0M769.0 273.2h0M767.3 275.1h0M769.9 271.4h0M769.3 269.8h0M767.1 269.4h0M766.0 272.1h0M766.4 268.9h0M764.6 265.6h0M764.1 267.3h0M771.6 269.7h0M770.8 264.7h0M772.4 265.1h0M775.4 263.4h0M774.9 262.2h0M773.3 263.3h0M776.7 263.6h0M774.6 262.4h0M747.4 281.0h0M749.0 283.4h0M749.3 282.8h0M717.4 244.1h0M723.4 251.8h0M745.5 264.5h0M779.0 260.6h0M758.4 212.9h0M736.8 241.9h0M759.7 285.4h0M716.7 270.9h0M732.7 268.9h0M744.4 261.8h0M731.1 282.3h0M743.6 242.7h0M712.6 235.3h0M750.6 282.0h0M777.4 215.9h0M751.5 254.0h0M762.9 272.9h0M736.4 280.7h0M761.2 248.5h0M741.5 255.4h0M733.8 230.2h0M779.4 236.1h0M782.2 233.4h0M765.1 213.5h0M742.2 228.8h0M777.9 227.1h0M758.5 241.7h0M762.9 270.7h0M752.7 238.5h0M779.4 224.7h0M771.6 232.4h0M780.0 219.4h0M715.3 234.6h0M753.1 288.0h0M758.1 231.4h0M771.1 233.4h0M716.5 278.2h0M751.0 262.5h0M754.6 253.8h0M769.7 246.1h0M750.2 287.9h0M774.0 261.5h0M761.3 252.8h0M714.7 250.1h0M737.8 250.1h0M717.4 280.9h0M773.9 286.1h0M784.2 287.4h0M759.4 262.1h0M717.4 267.0h0" stroke="#9c84b0" stroke-opacity="0.6" stroke-width="1" stroke-linecap="square" fill="none"/><path d="M779.8 254.8h0M776.8 257.0h0M781.3 256.7h0M780.0 260.9h0M778.6 255.1h0M780.1 255.9h0M780.0 257.0h0M786.2 256.5h0M783.2 252.2h0M780.2 255.1h0M780.3 252.4h0M782.3 254.4h0M771.9 273.6h0M765.0 268.7h0M744.0 238.4h0M769.4 270.4h0M765.4 269.9h0M767.5 269.7h0M763.4 268.3h0M760.5 272.7h0M757.7 277.1h0M757.9 278.8h0M760.8 276.3h0M760.3 275.4h0M763.6 275.2h0M773.3 267.5h0M767.3 267.3h0M764.8 266.2h0M764.8 264.8h0M762.1 267.6h0M762.2 265.5h0M759.8 270.1h0M728.7 220.8h0M730.6 222.4h0M775.4 224.4h0M716.2 259.9h0M768.4 276.1h0M722.5 222.7h0M760.2 246.4h0M762.6 248.6h0M760.7 247.5h0M763.3 248.5h0M764.4 245.4h0M766.4 243.8h0M765.7 247.0h0M766.2 248.5h0M762.4 245.8h0M722.9 269.9h0M718.7 273.4h0M716.9 273.4h0M733.2 287.1h0M736.0 287.9h0M736.0 287.4h0M736.1 283.4h0M733.9 283.7h0M734.4 283.2h0M756.9 271.6h0M754.5 279.5h0M757.7 279.1h0M753.9 284.7h0M752.8 282.7h0M753.8 284.6h0M754.4 283.3h0M750.5 284.7h0M745.8 284.6h0M746.5 285.2h0M743.9 287.2h0M747.3 217.8h0M712.0 230.8h0M756.1 287.0h0M771.3 248.8h0M764.7 249.4h0M761.5 251.3h0M762.8 251.4h0M764.9 251.8h0M764.9 253.7h0M766.8 252.6h0M766.8 253.7h0M744.1 269.3h0M760.0 264.3h0M731.9 245.7h0M732.6 252.2h0M730.8 251.8h0M745.8 233.4h0M770.2 215.7h0M721.6 274.6h0M725.0 276.5h0M711.9 258.4h0M719.2 232.1h0M779.5 248.8h0M777.5 263.5h0M760.1 267.0h0M760.2 265.6h0M758.9 262.4h0M780.5 241.4h0M781.9 240.6h0M755.5 273.8h0M747.0 279.8h0M743.3 283.2h0M744.1 282.5h0M742.8 281.4h0M746.5 281.4h0M746.6 280.2h0M743.4 281.2h0M777.6 227.9h0M750.9 273.1h0M750.9 277.6h0M769.4 273.2h0M729.6 224.8h0M730.4 225.0h0M727.9 228.1h0M731.1 227.7h0M734.3 223.2h0M735.2 222.4h0M738.4 222.1h0M738.2 224.4h0M739.1 223.1h0M737.8 226.4h0M744.3 228.1h0M742.6 227.9h0M742.4 228.0h0M748.5 240.4h0M740.9 245.4h0M741.6 244.0h0M734.3 251.8h0M738.2 252.8h0M739.3 254.8h0M741.7 253.4h0M742.6 251.5h0M745.5 253.5h0M742.7 252.3h0M740.4 253.4h0M741.6 251.8h0M740.5 252.6h0M742.2 251.0h0M769.2 278.4h0M773.0 266.0h0M737.9 249.4h0M710.9 254.6h0M747.8 212.6h0M725.1 252.1h0M710.2 251.0h0M733.0 281.5h0M714.8 270.2h0M769.0 233.0h0M740.2 245.0h0M763.5 228.7h0M784.5 237.7h0M754.2 264.5h0M741.3 286.4h0M757.2 267.9h0M748.7 277.9h0M725.9 226.6h0M734.3 269.7h0M711.5 253.4h0M727.9 251.0h0M725.7 243.0h0M732.7 221.4h0M762.8 226.0h0M757.3 234.7h0M739.3 271.3h0M739.4 235.1h0M740.4 221.5h0M739.6 250.4h0M769.4 249.2h0M768.2 232.1h0M744.2 236.4h0M778.1 215.6h0M720.0 226.1h0M734.1 229.0h0M743.0 227.2h0M736.2 270.7h0M766.4 213.0h0M747.7 239.9h0M761.0 217.0h0M758.5 233.4h0M735.2 218.4h0M766.4 230.5h0M778.7 253.8h0M743.7 273.5h0M764.9 285.2h0M729.5 246.4h0M775.6 256.7h0M741.3 225.8h0M754.4 282.3h0M778.1 261.6h0M761.7 221.4h0" stroke="#b89080" stroke-opacity="0.6" stroke-width="1" stroke-linecap="square" fill="none"/><path d="M771.7 264.9h0M762.4 269.4h0M720.7 222.7h0M728.2 228.6h0M724.8 220.3h0M723.5 225.2h0M719.0 220.2h0M772.8 223.1h0M740.3 227.6h0M745.4 232.0h0M750.1 260.7h0M752.0 265.6h0M771.4 274.9h0M782.0 279.3h0M780.4 246.0h0M728.9 225.5h0M721.6 212.4h0M715.1 213.5h0M711.5 214.8h0M754.4 288.0h0M770.2 232.2h0M775.6 244.5h0M771.8 245.1h0M721.8 243.2h0M754.7 266.8h0M754.2 268.3h0M756.5 270.3h0M752.2 271.1h0M752.2 270.7h0M754.1 268.6h0M755.6 269.5h0M756.0 268.0h0M752.1 269.2h0M748.7 269.2h0M749.4 271.9h0M749.6 268.3h0M748.8 270.0h0M747.9 270.9h0M738.8 272.5h0M739.8 273.2h0M744.4 269.7h0M758.1 254.3h0M759.4 257.3h0M760.5 257.3h0M760.9 260.2h0M759.5 260.7h0M728.0 258.9h0M746.1 216.8h0M748.7 213.9h0M723.0 274.8h0M723.5 273.9h0M723.4 274.8h0M722.6 279.2h0M721.6 283.4h0M722.0 282.6h0M720.8 283.2h0M719.3 280.4h0M716.2 278.6h0M712.0 263.2h0M721.2 237.6h0M710.2 222.1h0M774.3 263.4h0M778.3 260.9h0M781.0 258.5h0M774.1 256.8h0M760.9 264.0h0M770.8 233.0h0M746.5 266.1h0M731.3 255.9h0M713.5 277.0h0M746.7 273.0h0M767.5 276.4h0M750.7 238.7h0M738.4 251.8h0M739.0 248.0h0M772.7 268.4h0M777.4 264.7h0M739.9 245.2h0M761.6 252.9h0M715.8 259.1h0M753.5 233.8h0M731.5 271.7h0M781.9 287.3h0M748.6 262.7h0M715.9 246.9h0M750.7 267.5h0M770.3 232.5h0M775.4 278.2h0M715.8 268.2h0M750.6 285.4h0M777.0 252.7h0M772.5 278.8h0M747.0 249.4h0M754.3 216.4h0M747.5 263.8h0M723.6 261.3h0M739.1 250.3h0M744.7 215.5h0M785.0 251.3h0M746.7 224.6h0M743.6 262.0h0M775.1 274.2h0M736.5 269.3h0M770.3 263.9h0M782.2 245.7h0M714.7 271.2h0M736.6 263.3h0M741.9 280.6h0M733.2 244.0h0M765.4 280.3h0M783.6 244.0h0M751.5 252.9h0M776.9 251.5h0M747.3 252.1h0M719.2 285.3h0M715.1 225.9h0M745.4 237.1h0M765.1 259.3h0M731.4 232.9h0M771.7 222.7h0M731.3 216.4h0M711.5 234.3h0M763.2 274.7h0M753.8 264.3h0M747.3 223.8h0M772.2 287.5h0M710.0 229.4h0M784.4 214.9h0M749.4 233.4h0" stroke="#8898c0" stroke-opacity="0.6" stroke-width="1" stroke-linecap="square" fill="none"/><path d="M776.5 257.0h0M782.7 252.2h0M763.4 269.4h0M785.1 256.2h0M760.5 266.1h0M766.1 268.8h0M765.0 268.7h0M764.9 269.0h0M759.0 265.5h0M755.8 264.3h0M757.8 263.9h0M757.2 259.7h0M759.0 263.8h0M761.1 262.9h0M755.7 264.2h0M756.3 265.7h0M754.4 264.6h0M752.5 264.6h0M748.3 266.6h0M744.9 269.1h0M739.9 265.0h0M720.3 220.4h0M725.3 220.9h0M721.1 223.3h0M718.7 221.9h0M746.1 235.5h0M753.0 269.9h0M761.1 281.5h0M716.8 258.5h0M733.9 230.0h0M770.6 223.9h0M732.9 275.6h0M729.9 271.0h0M727.3 265.3h0M755.3 274.8h0M758.8 286.6h0M709.9 228.6h0M766.5 247.6h0M756.8 263.4h0M760.8 261.5h0M757.9 273.6h0M758.7 273.4h0M759.7 272.2h0M758.2 268.8h0M723.2 279.6h0M719.8 282.2h0M718.6 236.8h0M715.9 233.5h0M709.4 218.7h0M773.0 261.1h0M761.3 263.6h0M782.4 240.7h0M751.4 237.8h0M750.7 245.8h0M736.6 287.6h0M774.5 265.7h0M772.0 261.2h0M735.6 251.8h0M735.4 254.0h0M758.6 251.8h0M759.2 253.3h0M757.7 255.8h0M763.0 256.3h0M765.3 258.3h0M764.0 255.6h0M758.9 255.7h0M761.9 252.4h0M763.0 249.7h0M763.8 250.4h0M763.6 249.5h0M761.9 247.6h0M757.2 247.5h0M748.4 285.5h0M756.2 234.0h0M756.8 251.8h0M768.5 265.5h0M745.6 262.4h0M758.6 240.1h0M716.6 226.6h0M762.4 246.8h0M732.3 236.5h0M711.3 282.6h0M782.0 270.5h0M710.4 279.0h0M783.2 243.0h0M721.0 274.4h0M770.2 224.8h0M742.5 245.9h0M728.0 277.1h0M736.3 246.7h0M749.2 247.9h0M724.4 242.0h0M761.7 268.6h0M752.3 252.3h0M760.7 261.2h0M764.5 225.0h0M772.5 226.3h0M747.5 230.7h0M762.2 263.6h0M785.5 232.2h0M755.2 283.5h0M724.2 278.0h0M733.0 213.0h0M741.1 239.6h0M758.3 215.4h0M756.8 256.4h0M735.7 273.3h0M727.2 249.7h0" stroke="#b8b078" stroke-opacity="0.6" stroke-width="1" stroke-linecap="square" fill="none"/><path d="M760.3 274.7h0M770.0 265.4h0M756.6 266.4h0M716.3 220.3h0M776.4 222.7h0M785.8 218.1h0M782.4 221.2h0M774.5 224.2h0M777.6 224.6h0M777.4 228.2h0M773.1 223.1h0M774.1 220.8h0M775.1 217.8h0M751.2 261.7h0M755.1 269.0h0M751.9 269.9h0M752.2 271.3h0M750.9 271.4h0M752.1 269.6h0M750.8 270.2h0M755.4 275.1h0M757.8 274.9h0M760.0 276.5h0M759.5 277.9h0M759.2 276.3h0M759.7 274.5h0M759.0 274.6h0M756.7 276.2h0M760.2 276.2h0M785.2 287.9h0M781.1 252.5h0M735.6 228.2h0M778.4 228.9h0M778.8 229.1h0M720.0 275.7h0M709.6 215.2h0M725.1 234.8h0M720.2 234.0h0M753.7 283.3h0M742.9 223.3h0M741.1 219.3h0M714.2 226.3h0M711.9 229.5h0M714.1 228.2h0M711.1 230.6h0M711.6 231.2h0M710.1 235.8h0M762.0 287.0h0M760.1 284.7h0M711.6 223.3h0M748.8 271.2h0M750.4 268.8h0M759.5 274.8h0M725.5 278.2h0M719.3 232.3h0M772.6 246.8h0M774.2 267.8h0M773.2 261.2h0M771.4 258.1h0M774.2 240.4h0M774.5 238.4h0M711.1 280.0h0M778.5 221.2h0M750.2 273.4h0M751.9 275.3h0M751.5 276.5h0M752.0 275.9h0M754.5 279.7h0M754.0 278.2h0M755.3 279.1h0M758.9 279.9h0M756.9 280.6h0M756.3 282.2h0M754.7 280.2h0M755.6 240.7h0M720.3 243.6h0M725.2 237.0h0M741.0 244.2h0M735.2 285.7h0M757.4 252.7h0M762.6 254.5h0M719.3 242.6h0M719.3 248.8h0M714.5 264.5h0M743.2 275.7h0M763.7 277.9h0M782.6 265.5h0M784.6 245.8h0M711.9 234.8h0M742.0 223.0h0M749.0 230.9h0M738.7 238.7h0M753.3 263.9h0M773.3 226.8h0M715.5 261.4h0M755.4 214.8h0M734.4 264.3h0M765.6 268.6h0M719.7 221.6h0M785.6 279.6h0M722.4 278.3h0M735.8 268.2h0M772.1 248.5h0M710.9 243.5h0M752.4 222.9h0M717.0 241.5h0M751.2 253.1h0M724.3 260.0h0M765.6 272.0h0M713.0 262.6h0M727.7 254.0h0M760.7 282.1h0M749.3 219.2h0M714.8 253.8h0M783.4 221.3h0M747.9 240.7h0M774.3 229.2h0M763.6 231.3h0M757.1 277.6h0M716.9 245.6h0M713.1 272.0h0M732.6 225.2h0M780.3 265.1h0M718.3 229.6h0M719.7 230.8h0M727.9 243.2h0M709.4 286.0h0M724.6 278.6h0" stroke="#c08890" stroke-opacity="0.6" stroke-width="1" stroke-linecap="square" fill="none"/><path d="M832.1 217.4h0M835.9 216.7h0M837.9 218.6h0M835.3 220.3h0M834.6 221.1h0M839.6 221.8h0M838.4 221.4h0M833.7 222.9h0M835.6 228.2h0M832.7 228.0h0M835.7 230.0h0M839.2 233.4h0M838.9 235.8h0M839.8 228.0h0M841.2 229.8h0M836.9 224.2h0M819.6 242.6h0M865.1 249.1h0M862.7 250.7h0M863.3 248.4h0M859.3 257.1h0M863.2 255.4h0M859.6 257.6h0M859.5 259.5h0M860.1 260.5h0M858.9 261.0h0M864.9 260.7h0M863.4 266.2h0M866.7 264.3h0M863.2 265.1h0M863.5 265.5h0M867.8 267.4h0M868.9 267.4h0M872.3 273.5h0M871.7 274.8h0M871.0 270.7h0M875.2 218.5h0M823.9 219.1h0M823.3 263.9h0M833.1 256.5h0M831.0 253.9h0M831.9 255.0h0M836.4 256.2h0M836.0 253.8h0M832.3 254.1h0M832.9 253.1h0M845.1 226.3h0M883.2 240.1h0M818.4 259.7h0M881.2 250.1h0M857.0 268.0h0M852.3 268.1h0M856.9 230.6h0M844.0 270.7h0M842.0 268.6h0M844.5 269.0h0M842.2 268.5h0M846.1 274.8h0M845.5 274.6h0M844.4 275.7h0M841.9 273.8h0M844.1 274.8h0M840.3 273.9h0M842.0 275.5h0M891.5 234.1h0M875.1 262.6h0M839.2 217.2h0M852.5 230.6h0M863.6 225.7h0M867.8 217.9h0M868.5 219.8h0M867.7 218.7h0M866.6 218.6h0M868.6 213.8h0M868.5 215.5h0M869.0 217.1h0M867.2 218.5h0M865.1 218.4h0M860.7 217.6h0M862.6 215.9h0M857.9 215.7h0M855.3 223.1h0M856.3 219.9h0M855.4 224.6h0M818.7 239.6h0M814.9 277.4h0M818.4 271.5h0M817.3 231.6h0M835.2 278.7h0M879.5 263.2h0M883.3 264.6h0M818.5 228.6h0M821.8 227.5h0M822.6 226.4h0M821.6 230.9h0M819.5 233.5h0M824.7 232.4h0M823.6 230.7h0M826.2 232.2h0M827.0 231.3h0M826.9 229.9h0M831.6 232.9h0M831.8 232.2h0M826.9 239.5h0M826.8 243.0h0M826.9 243.2h0M822.4 241.4h0M826.3 242.3h0M844.4 244.7h0M828.1 242.5h0M839.8 276.3h0M836.1 280.6h0M853.0 248.2h0M843.4 279.0h0M843.2 281.5h0M832.3 238.3h0M832.5 241.5h0M830.8 243.3h0M830.2 240.2h0M829.2 242.5h0M830.4 242.0h0M826.6 242.3h0M831.5 240.3h0M826.7 237.6h0M822.8 236.1h0M823.8 236.7h0M827.6 236.0h0M828.8 236.0h0M827.9 234.8h0M817.7 243.7h0M818.8 246.0h0M850.7 274.3h0M846.3 246.1h0M822.9 263.6h0M823.8 259.0h0M866.3 269.9h0M869.6 263.3h0M826.4 218.1h0M871.9 217.9h0M819.2 234.2h0M889.7 262.8h0M823.8 282.4h0M845.2 279.5h0M864.2 254.3h0M866.2 213.1h0M837.7 270.3h0M815.6 263.5h0M841.4 271.4h0M838.2 247.3h0M821.9 229.4h0M857.9 217.6h0M880.1 255.7h0M876.3 264.3h0M816.7 264.7h0M857.9 253.5h0M816.2 224.7h0M856.2 255.0h0M869.1 212.6h0M887.9 267.8h0M830.0 231.7h0M850.4 212.4h0M855.4 260.7h0M883.2 237.9h0M883.6 254.2h0M834.1 253.7h0M864.6 280.6h0M850.7 215.8h0M875.7 214.2h0M859.4 286.7h0M857.1 285.0h0M846.8 284.1h0M830.9 250.6h0M855.2 224.0h0M825.1 249.0h0M835.0 288.0h0M825.3 270.9h0M848.4 270.7h0M890.8 226.2h0M883.5 281.3h0M833.8 258.4h0M822.6 228.7h0M867.0 259.3h0M828.0 278.6h0M848.5 222.4h0M828.9 284.8h0M882.1 281.9h0M873.4 224.8h0M833.9 249.5h0M841.8 273.6h0M863.4 264.9h0M883.8 233.9h0M868.4 280.5h0M822.7 264.4h0M831.6 283.5h0M860.1 224.0h0" stroke="#b48a9c" stroke-opacity="0.6" stroke-width="1" stroke-linecap="square" fill="none"/><path d="M835.4 213.7h0M846.1 256.4h0M825.6 242.5h0M859.7 254.8h0M872.1 268.7h0M869.8 275.4h0M827.1 232.7h0M822.2 216.9h0M827.8 218.8h0M831.9 255.6h0M857.9 262.9h0M870.4 243.2h0M891.5 239.3h0M885.3 236.3h0M817.2 241.8h0M818.0 258.0h0M822.4 264.1h0M821.2 259.0h0M819.0 259.6h0M815.7 253.4h0M816.3 254.3h0M817.2 252.0h0M818.9 255.7h0M819.6 257.0h0M817.9 261.7h0M815.1 258.3h0M870.8 241.3h0M887.7 251.0h0M889.1 233.9h0M890.6 234.1h0M890.2 235.8h0M854.0 229.4h0M815.2 240.8h0M819.0 275.9h0M815.3 277.3h0M836.5 248.9h0M818.9 272.9h0M817.7 232.2h0M830.3 241.5h0M883.3 263.4h0M829.9 232.0h0M840.8 278.1h0M846.1 278.7h0M821.1 236.1h0M820.2 237.0h0M821.7 246.4h0M847.2 259.0h0M845.8 243.6h0M842.7 243.7h0M852.4 246.4h0M852.2 246.0h0M852.2 242.1h0M854.8 244.5h0M852.9 245.0h0M849.4 244.4h0M817.2 262.7h0M821.4 259.9h0M823.9 257.3h0M823.4 256.9h0M821.8 258.7h0M824.3 255.4h0M823.4 259.2h0M823.2 256.7h0M823.2 250.3h0M824.5 253.0h0M819.3 250.5h0M817.1 250.5h0M821.9 249.2h0M872.3 252.3h0M870.3 257.3h0M829.7 251.4h0M829.0 247.8h0M825.0 247.0h0M824.9 244.5h0M825.4 244.8h0M824.7 248.3h0M826.6 242.5h0M826.5 250.2h0M823.5 250.3h0M821.6 247.8h0M822.2 248.5h0M827.3 251.6h0M828.7 250.5h0M824.5 250.8h0M820.9 246.6h0M823.7 246.5h0M821.1 249.7h0M885.2 253.4h0M827.5 262.4h0M845.7 239.6h0M831.3 287.5h0M841.8 250.8h0M818.8 253.9h0M888.3 217.3h0M850.9 240.9h0M832.0 249.8h0M816.0 216.0h0M853.9 243.3h0M861.9 260.6h0M858.8 222.1h0M840.1 270.5h0M834.4 236.1h0M859.1 267.1h0M889.8 240.9h0M889.9 286.2h0M878.2 224.9h0M875.3 278.9h0M863.2 284.5h0M878.5 247.6h0M881.5 241.4h0M856.7 213.8h0M885.2 223.2h0M885.5 243.4h0M854.4 223.8h0M843.3 258.2h0M833.1 212.7h0M889.3 237.3h0M849.1 218.9h0M869.5 237.9h0M843.6 276.9h0M876.0 237.7h0M845.2 252.5h0M839.3 227.6h0M839.7 254.8h0M880.4 282.1h0M876.4 229.0h0M887.8 281.6h0M868.9 281.0h0M872.3 253.6h0M819.3 219.7h0M875.1 260.9h0M856.7 282.8h0M849.4 243.8h0" stroke="#8a9cc0" stroke-opacity="0.6" stroke-width="1" stroke-linecap="square" fill="none"/><path d="M818.1 250.7h0M824.0 240.7h0M818.9 241.6h0M872.4 216.2h0M891.0 263.5h0M831.9 256.2h0M818.3 238.9h0M818.4 225.5h0M863.6 237.5h0M844.3 229.1h0M884.8 236.5h0M819.1 246.4h0M854.1 266.7h0M859.7 233.8h0M860.1 235.1h0M862.6 235.7h0M863.0 234.3h0M865.3 235.6h0M863.5 237.2h0M862.5 240.3h0M863.4 235.7h0M863.0 235.5h0M866.5 232.3h0M823.7 251.1h0M827.7 250.2h0M831.3 246.9h0M829.0 250.2h0M828.4 249.8h0M828.4 250.3h0M830.3 249.0h0M832.7 253.8h0M832.0 254.3h0M826.9 257.4h0M841.1 273.3h0M816.5 277.2h0M823.0 268.2h0M825.6 243.4h0M823.0 243.2h0M834.3 272.4h0M881.2 269.4h0M883.3 267.4h0M852.2 264.5h0M846.2 243.9h0M851.5 246.9h0M852.1 249.6h0M851.3 250.9h0M859.0 249.2h0M859.8 253.1h0M857.8 253.6h0M858.4 247.7h0M860.1 250.5h0M864.2 250.0h0M865.2 249.3h0M868.7 248.4h0M866.6 247.0h0M824.0 236.2h0M855.5 278.5h0M845.4 242.9h0M819.2 250.0h0M873.6 255.4h0M872.7 255.4h0M872.4 255.5h0M869.7 255.3h0M874.8 250.2h0M876.5 252.2h0M875.9 252.7h0M825.2 243.9h0M824.1 249.0h0M853.4 286.8h0M854.4 288.0h0M844.0 249.9h0M849.7 247.1h0M853.2 269.6h0M864.9 264.4h0M828.0 219.5h0M825.7 217.8h0M823.0 220.4h0M824.2 219.7h0M828.5 214.1h0M826.5 215.9h0M826.3 217.3h0M827.0 219.7h0M849.3 231.3h0M832.3 258.7h0M865.8 275.4h0M863.8 286.0h0M821.3 248.7h0M838.8 275.0h0M827.8 269.5h0M882.9 264.8h0M863.0 222.7h0M843.2 243.5h0M825.4 255.3h0M887.3 251.7h0M844.6 260.2h0M878.1 260.1h0M879.3 271.7h0M815.7 218.6h0M889.1 237.0h0M833.7 258.5h0M865.3 254.3h0M838.9 228.9h0M884.2 265.4h0M891.5 257.1h0M873.5 260.5h0M841.1 254.9h0M838.5 223.9h0M851.9 218.2h0M870.1 223.9h0M857.1 212.2h0M883.0 269.7h0M890.8 222.4h0M831.4 280.0h0M823.0 245.1h0M848.8 258.0h0M839.5 270.8h0M816.4 272.2h0M817.9 228.9h0M862.1 233.2h0M818.2 254.4h0M816.5 266.6h0M863.8 278.2h0M832.6 273.1h0M822.8 262.1h0M874.1 224.1h0M871.9 262.4h0M886.7 275.3h0M830.4 274.7h0" stroke="#98b088" stroke-opacity="0.6" stroke-width="1" stroke-linecap="square" fill="none"/><path d="M877.3 280.8h0M844.3 240.5h0M823.1 252.0h0M865.9 278.7h0M864.2 255.3h0M872.4 220.4h0M890.1 266.8h0M888.9 260.8h0M891.4 258.1h0M827.9 229.5h0M826.3 230.8h0M828.2 227.9h0M828.1 227.1h0M825.3 227.9h0M828.5 229.2h0M827.2 235.1h0M830.4 233.6h0M826.3 235.1h0M827.9 237.8h0M826.8 238.2h0M829.4 234.2h0M830.7 235.0h0M831.6 236.0h0M827.3 237.1h0M825.2 235.9h0M826.3 235.8h0M826.5 231.2h0M825.9 214.2h0M828.7 218.1h0M826.3 213.6h0M829.2 213.5h0M830.5 214.2h0M823.9 219.4h0M823.5 220.0h0M824.4 219.5h0M825.5 220.7h0M828.3 221.1h0M828.2 218.1h0M829.4 216.4h0M829.3 217.9h0M828.3 216.9h0M822.8 216.1h0M824.8 217.6h0M830.3 218.2h0M825.3 259.4h0M857.6 255.2h0M823.6 280.2h0M860.9 266.1h0M855.4 266.7h0M857.8 266.6h0M854.2 265.6h0M851.6 266.9h0M854.5 267.1h0M849.1 268.3h0M854.1 272.3h0M848.7 274.2h0M847.7 274.7h0M850.6 275.3h0M851.8 275.8h0M854.5 275.1h0M844.9 270.4h0M839.9 279.3h0M891.4 232.4h0M876.0 266.2h0M839.1 214.7h0M867.1 221.5h0M865.6 216.6h0M867.6 219.3h0M865.9 218.0h0M863.1 217.1h0M855.8 226.6h0M842.9 241.5h0M840.8 241.5h0M836.9 245.4h0M835.0 249.6h0M834.5 247.3h0M835.1 252.2h0M839.2 253.0h0M837.6 255.1h0M833.9 256.8h0M834.1 256.1h0M835.3 257.0h0M829.1 284.8h0M861.7 246.4h0M824.1 238.4h0M828.8 239.7h0M831.1 242.8h0M882.6 261.5h0M822.6 244.5h0M853.1 242.5h0M843.9 269.7h0M864.2 248.9h0M837.4 237.0h0M837.0 239.6h0M828.8 240.7h0M822.8 236.6h0M846.5 285.0h0M855.0 273.9h0M821.1 260.9h0M822.8 252.2h0M820.5 250.6h0M821.1 249.9h0M870.9 258.5h0M826.6 248.2h0M822.3 253.6h0M822.2 252.7h0M851.3 285.3h0M870.1 264.9h0M875.7 270.9h0M834.5 272.7h0M832.7 287.7h0M833.4 228.5h0M871.0 213.2h0M865.7 273.5h0M879.4 252.6h0M876.2 270.8h0M891.5 251.4h0M835.5 276.0h0M858.0 260.1h0M837.2 265.7h0M852.7 243.2h0M881.2 240.7h0M847.9 250.0h0M889.0 266.2h0M856.6 243.5h0M815.0 252.1h0M890.9 244.1h0M881.4 245.4h0M844.8 273.2h0M872.2 282.5h0M872.1 212.4h0M856.0 243.7h0M854.9 251.2h0M843.4 283.0h0M830.2 225.9h0M846.3 268.3h0M827.3 271.7h0M859.5 246.5h0M866.5 242.9h0M842.9 229.6h0M827.7 275.3h0M832.1 260.1h0M887.3 274.2h0M870.7 228.0h0M843.7 242.9h0" stroke="#a88fbf" stroke-opacity="0.6" stroke-width="1" stroke-linecap="square" fill="none"/><path d="M878.4 279.1h0M835.5 222.6h0M838.6 229.4h0M830.9 258.3h0M824.3 254.6h0M890.2 245.5h0M864.6 255.6h0M886.9 236.5h0M891.2 261.5h0M830.7 236.8h0M825.1 215.9h0M823.6 239.0h0M816.3 236.6h0M815.8 230.9h0M817.1 224.8h0M819.8 226.4h0M816.0 223.9h0M817.8 226.3h0M814.9 225.7h0M815.3 222.8h0M855.9 258.4h0M856.4 255.5h0M886.2 238.5h0M889.2 235.8h0M820.0 243.9h0M820.2 265.6h0M821.6 268.0h0M821.5 269.1h0M819.6 270.8h0M818.1 271.1h0M820.3 273.7h0M820.5 275.1h0M820.5 276.1h0M821.8 279.2h0M822.7 283.9h0M868.4 243.6h0M873.8 240.9h0M876.9 246.8h0M879.4 246.4h0M881.5 246.7h0M879.7 250.3h0M857.6 265.1h0M858.2 264.7h0M854.0 232.0h0M851.3 230.3h0M850.8 225.4h0M851.2 225.8h0M852.3 224.6h0M854.2 226.6h0M851.7 226.0h0M854.7 228.6h0M853.2 231.1h0M852.3 230.9h0M851.0 228.2h0M845.1 230.7h0M825.0 278.7h0M824.0 276.1h0M820.4 276.1h0M815.3 265.7h0M834.6 253.3h0M835.1 255.6h0M829.5 273.4h0M824.4 275.9h0M823.7 273.1h0M818.0 273.4h0M816.3 270.4h0M821.2 270.0h0M819.8 270.6h0M819.2 267.6h0M816.2 270.4h0M816.9 274.5h0M819.3 269.3h0M818.8 270.2h0M820.7 271.1h0M821.7 271.5h0M822.5 243.7h0M818.9 237.0h0M836.0 283.9h0M834.3 280.5h0M831.8 237.7h0M831.5 240.1h0M884.3 266.8h0M881.4 263.3h0M828.6 287.2h0M851.4 277.0h0M858.0 277.9h0M851.9 272.3h0M858.1 243.1h0M824.0 252.7h0M824.3 250.1h0M821.7 247.2h0M872.6 235.7h0M876.6 236.3h0M875.4 236.5h0M876.1 239.2h0M875.6 240.2h0M874.4 240.8h0M874.3 240.7h0M871.4 241.5h0M871.2 241.2h0M854.4 276.2h0M856.9 278.6h0M856.8 278.5h0M857.4 277.2h0M859.2 282.5h0M858.7 283.1h0M855.3 284.9h0M857.9 285.5h0M853.4 287.6h0M853.9 282.9h0M845.9 280.5h0M848.4 279.2h0M842.1 272.9h0M839.8 271.4h0M841.5 272.9h0M842.8 273.1h0M847.7 272.2h0M850.8 270.2h0M852.0 212.8h0M865.7 267.8h0M882.3 271.8h0M887.5 219.5h0M843.8 238.0h0M874.8 283.1h0M838.6 214.2h0M853.1 224.0h0M865.6 233.7h0M858.8 229.5h0M815.6 245.4h0M891.2 239.9h0M883.6 252.0h0M847.1 286.3h0M837.6 219.3h0M817.7 285.0h0M867.3 230.3h0M860.9 250.2h0M834.6 268.8h0M816.8 228.3h0M879.4 265.8h0M859.5 266.3h0M864.4 227.2h0M829.4 272.8h0M862.7 216.8h0M868.9 277.5h0M842.7 279.5h0M863.4 232.9h0M831.2 243.5h0M870.3 266.7h0M830.8 217.9h0M860.6 213.8h0M839.6 285.6h0M888.7 236.5h0M864.8 286.8h0M858.1 215.7h0M871.5 226.4h0M827.1 271.4h0M841.2 285.9h0M890.7 284.8h0M828.5 231.5h0M869.8 281.7h0M820.3 239.6h0M848.4 257.0h0M851.2 262.5h0M889.4 251.1h0" stroke="#c0a070" stroke-opacity="0.6" stroke-width="1" stroke-linecap="square" fill="none"/><path d="M878.8 281.7h0M877.1 280.2h0M875.7 276.6h0M883.8 277.3h0M884.5 278.9h0M884.2 281.1h0M837.2 229.5h0M834.4 227.2h0M838.2 226.5h0M850.2 274.5h0M851.7 276.8h0M848.6 278.7h0M850.9 276.1h0M853.9 280.5h0M854.6 281.8h0M857.3 284.4h0M860.3 285.0h0M862.4 285.0h0M863.8 286.5h0M863.1 287.0h0M861.0 283.9h0M865.1 281.2h0M865.7 280.3h0M866.2 279.7h0M864.8 274.1h0M875.2 246.5h0M825.5 240.3h0M881.5 220.7h0M826.1 228.5h0M829.0 260.6h0M825.5 258.6h0M819.9 236.1h0M818.1 225.2h0M860.1 258.1h0M857.8 256.7h0M880.9 237.5h0M870.1 243.0h0M841.2 223.3h0M842.6 225.5h0M839.2 229.6h0M838.9 226.0h0M841.1 228.4h0M839.7 224.1h0M840.3 227.1h0M881.7 242.8h0M888.2 237.3h0M887.2 237.9h0M883.7 237.4h0M885.9 239.3h0M885.8 239.1h0M889.5 238.7h0M890.8 238.8h0M889.4 236.8h0M884.9 233.3h0M884.7 232.9h0M883.7 235.1h0M817.9 249.5h0M819.2 262.2h0M817.9 274.1h0M817.6 274.8h0M816.0 271.9h0M821.7 275.1h0M821.5 269.0h0M823.6 269.3h0M821.8 265.0h0M823.4 263.6h0M821.6 264.4h0M820.7 265.0h0M819.4 266.4h0M818.1 264.3h0M818.7 265.6h0M857.8 266.5h0M880.4 244.4h0M880.8 244.3h0M891.0 253.8h0M838.8 279.2h0M863.8 255.1h0M865.2 257.0h0M867.3 258.0h0M870.7 257.5h0M871.2 254.7h0M873.3 261.0h0M874.9 265.4h0M874.5 268.7h0M874.9 269.6h0M826.9 275.0h0M821.9 239.2h0M821.5 239.3h0M833.7 278.0h0M848.8 263.2h0M851.3 272.3h0M856.7 241.1h0M875.5 241.1h0M874.1 241.1h0M846.3 249.8h0M850.3 282.8h0M843.8 276.1h0M836.3 215.0h0M879.1 257.4h0M824.2 280.2h0M827.5 220.1h0M826.9 280.0h0M873.6 287.3h0M856.8 269.9h0M838.3 276.2h0M841.8 248.1h0M830.2 263.9h0M834.4 268.9h0M835.2 241.1h0M828.5 219.2h0M863.3 274.2h0M854.3 282.7h0M889.1 228.3h0M865.6 263.7h0M827.3 237.6h0M875.8 233.9h0M865.6 275.2h0M858.9 235.5h0M832.6 264.1h0M836.0 264.8h0M870.7 271.4h0M865.2 223.9h0M840.3 214.3h0M833.3 284.6h0M865.5 261.1h0M826.9 242.2h0M859.7 232.9h0M890.4 259.7h0M838.0 224.1h0M844.1 239.5h0M823.5 223.6h0M843.0 238.7h0M835.1 254.3h0M882.7 268.9h0M877.3 282.1h0M873.6 245.0h0M872.8 242.9h0" stroke="#78b0b0" stroke-opacity="0.6" stroke-width="1" stroke-linecap="square" fill="none"/><path d="M840.9 236.3h0M852.5 260.5h0M848.0 249.0h0M818.6 254.9h0M825.4 230.7h0M830.9 258.9h0M831.2 258.0h0M821.9 222.8h0M883.9 235.9h0M818.9 243.5h0M817.1 259.7h0M871.9 240.8h0M850.0 275.2h0M852.9 276.0h0M870.3 252.3h0M829.9 248.2h0M827.6 254.3h0M890.5 233.4h0M871.5 265.4h0M854.7 229.8h0M818.6 270.9h0M821.6 270.5h0M825.5 242.5h0M821.1 242.7h0M823.4 244.6h0M822.3 242.3h0M822.2 239.3h0M817.1 229.8h0M815.5 229.0h0M837.5 271.4h0M819.1 229.8h0M831.0 242.7h0M852.0 240.8h0M851.9 241.4h0M854.9 239.0h0M854.0 238.6h0M850.9 241.0h0M852.4 241.4h0M851.9 241.3h0M847.8 243.1h0M844.2 241.9h0M843.6 243.8h0M830.5 244.1h0M836.7 276.9h0M844.2 283.0h0M846.4 255.5h0M846.2 283.0h0M854.3 280.8h0M854.5 243.2h0M853.6 284.1h0M854.2 286.8h0M850.9 288.0h0M884.9 260.7h0M815.8 251.1h0M876.7 240.0h0M855.2 221.3h0M862.4 283.5h0M815.9 270.6h0M846.2 244.6h0M835.1 225.3h0M891.6 284.3h0M833.6 234.7h0M837.9 232.3h0M884.2 220.3h0M866.6 236.3h0M883.8 221.5h0M877.9 237.3h0M833.0 261.4h0M832.4 220.8h0M859.6 240.6h0M870.3 271.6h0M824.1 233.7h0M868.4 259.8h0M873.5 277.9h0M873.5 266.8h0M842.9 284.5h0M843.3 239.8h0M889.3 269.6h0M815.1 235.7h0M847.0 266.2h0M824.8 228.4h0M859.7 263.5h0M888.7 253.7h0M861.3 220.7h0M858.4 285.8h0M844.5 287.7h0M867.9 223.0h0M850.0 238.4h0M876.0 280.5h0M816.8 225.0h0M862.0 221.3h0" stroke="#9c84b0" stroke-opacity="0.6" stroke-width="1" stroke-linecap="square" fill="none"/><path d="M881.0 277.3h0M848.5 263.9h0M851.5 262.1h0M850.0 259.5h0M845.7 253.1h0M847.8 250.0h0M827.9 258.4h0M830.9 256.8h0M831.1 255.8h0M829.9 255.9h0M826.9 255.4h0M820.2 254.8h0M821.2 253.7h0M820.0 252.2h0M819.3 251.4h0M820.4 250.2h0M820.7 251.0h0M822.3 247.2h0M821.8 247.3h0M823.1 249.5h0M827.5 252.3h0M826.8 253.1h0M820.2 256.2h0M848.3 279.2h0M879.9 248.8h0M877.8 247.0h0M883.7 244.8h0M826.2 243.3h0M824.9 243.7h0M820.2 245.3h0M820.2 243.9h0M824.0 243.1h0M824.3 239.9h0M822.2 245.2h0M822.2 244.1h0M821.3 241.1h0M819.3 241.5h0M821.2 240.7h0M819.1 241.8h0M826.6 238.2h0M824.6 240.1h0M828.5 245.9h0M829.4 248.0h0M887.5 233.0h0M826.1 231.6h0M826.3 227.9h0M828.3 218.0h0M834.4 217.7h0M833.2 254.5h0M817.2 238.9h0M816.5 238.2h0M863.7 252.2h0M860.5 251.4h0M859.7 250.0h0M858.0 255.4h0M859.8 259.5h0M856.4 261.8h0M859.0 259.4h0M859.3 262.1h0M857.1 258.3h0M853.6 253.1h0M853.3 254.4h0M883.7 237.0h0M885.5 237.2h0M816.7 242.5h0M818.8 243.8h0M816.7 243.2h0M816.8 246.6h0M818.1 239.5h0M823.2 238.3h0M823.1 238.9h0M818.2 246.8h0M815.1 246.3h0M819.2 245.9h0M818.3 245.3h0M817.9 246.9h0M817.8 248.3h0M815.6 251.5h0M818.7 250.8h0M817.3 256.9h0M859.8 265.7h0M852.3 267.8h0M854.1 274.9h0M887.8 253.7h0M842.9 275.9h0M869.1 255.9h0M875.8 262.6h0M841.1 213.6h0M853.9 231.0h0M852.3 224.5h0M871.0 214.5h0M839.0 242.0h0M816.6 269.8h0M822.8 242.4h0M827.2 286.5h0M831.7 243.0h0M826.7 236.0h0M828.1 236.5h0M831.0 237.9h0M882.4 269.4h0M880.6 270.0h0M883.0 270.8h0M881.5 270.2h0M879.1 271.0h0M880.1 267.7h0M886.0 268.5h0M884.1 268.4h0M883.5 268.6h0M884.0 267.9h0M828.8 230.6h0M830.4 231.0h0M838.0 280.2h0M838.6 279.7h0M838.7 279.6h0M841.3 277.9h0M840.8 276.3h0M838.4 278.0h0M836.4 278.6h0M833.3 280.0h0M835.9 277.9h0M835.8 274.0h0M836.1 271.8h0M834.8 275.7h0M835.0 278.8h0M837.0 282.8h0M835.8 283.8h0M834.1 286.1h0M832.3 282.7h0M826.5 281.1h0M850.9 266.4h0M848.9 262.5h0M844.2 280.7h0M843.9 280.8h0M841.6 279.9h0M844.5 279.3h0M843.3 279.6h0M845.0 280.2h0M840.7 281.4h0M840.9 281.7h0M841.8 278.2h0M842.8 280.4h0M850.4 278.9h0M852.0 277.6h0M852.0 280.9h0M848.9 279.8h0M851.9 279.2h0M850.2 275.9h0M850.9 277.0h0M852.2 276.2h0M855.1 276.0h0M852.1 273.1h0M818.2 261.3h0M825.1 259.6h0M874.3 250.9h0M840.5 253.5h0M869.8 287.5h0M854.4 283.9h0M841.6 273.8h0M824.5 220.1h0M853.0 238.3h0M871.1 246.2h0M863.6 227.6h0M867.8 226.1h0M838.8 245.4h0M850.4 242.1h0M833.5 261.1h0M849.3 258.5h0M819.8 224.3h0M869.2 272.4h0M845.0 234.5h0M854.7 217.3h0M886.8 246.0h0M818.2 281.9h0M866.4 235.4h0M865.0 239.8h0M836.4 254.0h0M816.5 241.0h0M866.4 213.4h0M866.3 248.5h0M882.0 254.9h0M861.5 226.7h0M883.9 273.9h0M863.1 224.9h0M860.1 279.9h0M833.7 262.6h0M890.3 240.3h0M827.7 232.6h0M844.1 263.5h0M831.3 225.1h0M849.5 254.4h0M849.9 220.9h0M865.0 280.5h0M868.2 248.7h0M823.3 248.5h0M823.2 273.8h0M876.5 223.3h0M850.8 216.5h0M880.3 277.4h0M890.2 276.7h0M816.5 249.5h0M888.7 286.4h0M826.9 214.2h0M857.2 218.7h0M837.0 277.0h0M857.6 230.1h0M879.3 223.3h0M818.3 226.1h0M837.9 247.2h0M886.4 255.9h0M837.7 244.4h0M849.8 247.6h0M880.3 235.6h0" stroke="#b89080" stroke-opacity="0.6" stroke-width="1" stroke-linecap="square" fill="none"/><path d="M840.6 229.8h0M839.4 228.8h0M834.1 225.3h0M837.6 227.8h0M838.9 233.0h0M842.5 232.5h0M839.9 234.9h0M841.6 234.7h0M840.2 235.3h0M842.4 235.1h0M844.0 237.1h0M845.6 239.6h0M816.8 249.2h0M822.0 248.4h0M821.0 244.5h0M861.9 254.2h0M883.4 221.5h0M827.1 236.4h0M826.9 219.8h0M828.2 218.3h0M827.0 268.5h0M833.1 270.0h0M832.6 267.3h0M830.5 263.0h0M826.2 258.3h0M831.6 258.2h0M830.8 255.2h0M830.1 254.8h0M829.8 251.7h0M832.2 254.0h0M883.1 237.1h0M878.8 241.2h0M876.8 240.7h0M864.4 239.3h0M886.0 239.7h0M821.0 245.7h0M819.1 261.7h0M821.5 266.0h0M872.1 247.7h0M869.1 250.3h0M865.7 249.6h0M868.9 250.7h0M870.2 253.7h0M871.1 248.6h0M876.0 248.1h0M877.9 252.1h0M880.0 251.7h0M878.2 251.8h0M878.2 250.3h0M883.4 241.5h0M884.7 244.9h0M884.3 248.6h0M885.2 249.4h0M891.2 254.8h0M891.5 250.7h0M858.3 232.7h0M846.1 270.4h0M853.5 227.5h0M859.4 226.8h0M824.4 281.2h0M821.3 273.3h0M835.9 272.8h0M836.7 279.2h0M832.0 274.9h0M835.4 272.6h0M835.1 274.8h0M835.2 276.0h0M837.3 277.7h0M839.2 283.1h0M836.3 280.4h0M830.7 279.8h0M830.8 282.8h0M830.9 283.0h0M860.5 246.1h0M837.8 237.9h0M824.8 240.3h0M825.8 235.1h0M831.7 242.6h0M833.8 236.3h0M833.8 238.5h0M828.6 238.0h0M827.3 243.5h0M828.4 243.3h0M829.6 240.7h0M829.5 240.7h0M827.6 241.5h0M828.2 240.2h0M831.0 242.1h0M824.6 243.4h0M849.8 239.7h0M858.3 262.5h0M859.4 262.6h0M856.5 266.6h0M854.9 262.7h0M848.4 267.7h0M844.1 266.8h0M847.3 268.3h0M854.4 265.4h0M856.5 251.8h0M856.3 273.6h0M819.6 241.9h0M840.0 265.2h0M842.2 264.9h0M845.0 265.0h0M845.7 261.4h0M848.8 261.6h0M849.6 260.9h0M851.8 264.1h0M849.0 263.5h0M849.9 263.3h0M850.2 262.8h0M849.3 263.9h0M847.9 260.6h0M847.8 253.8h0M848.7 254.2h0M847.7 255.9h0M847.8 258.1h0M849.8 240.5h0M820.1 257.6h0M819.6 254.3h0M824.4 251.0h0M824.0 251.9h0M822.0 248.3h0M876.5 240.5h0M867.0 287.3h0M865.1 285.4h0M868.5 285.1h0M844.0 215.4h0M845.7 214.2h0M854.6 212.3h0M872.0 212.3h0M872.5 213.6h0M870.5 212.4h0M869.7 213.5h0M868.8 213.5h0M872.5 215.1h0M860.8 270.5h0M833.5 222.3h0M882.8 214.1h0M872.1 278.9h0M883.3 228.6h0M879.6 265.7h0M869.0 226.6h0M845.2 249.4h0M828.6 261.1h0M885.5 234.8h0M834.4 236.2h0M861.1 269.5h0M851.7 282.4h0M884.1 246.6h0M880.0 237.0h0M834.6 224.1h0M868.7 229.7h0M885.8 254.9h0M876.8 246.6h0M868.5 264.5h0M861.0 276.0h0M891.3 241.0h0M820.9 272.0h0M870.5 249.6h0M815.0 243.1h0M865.1 222.4h0M882.3 262.9h0M841.8 283.9h0M866.5 277.0h0M846.3 232.4h0M835.2 250.2h0M823.7 223.3h0M822.4 226.1h0M887.4 266.3h0M874.9 226.4h0M820.6 275.0h0M823.1 265.3h0M853.7 230.0h0M864.9 218.5h0M864.9 223.3h0M869.1 282.2h0M861.9 231.4h0M858.5 286.6h0M888.1 219.7h0M833.1 215.3h0M857.8 247.9h0" stroke="#8898c0" stroke-opacity="0.6" stroke-width="1" stroke-linecap="square" fill="none"/><path d="M836.7 234.2h0M848.2 261.0h0M846.5 246.8h0M851.7 276.4h0M862.3 272.3h0M882.4 245.4h0M878.0 245.3h0M871.1 274.8h0M883.2 236.7h0M887.3 241.6h0M888.5 234.3h0M889.7 233.0h0M886.9 228.0h0M884.3 226.6h0M882.2 230.4h0M882.7 226.5h0M883.9 226.5h0M889.8 263.7h0M828.6 230.4h0M818.1 238.0h0M815.9 224.4h0M820.1 225.1h0M883.2 233.0h0M821.4 271.3h0M873.0 241.2h0M836.1 288.0h0M835.3 287.0h0M882.3 246.0h0M863.5 237.4h0M829.0 256.8h0M827.7 257.2h0M863.2 256.8h0M819.3 240.1h0M821.9 241.7h0M821.0 240.3h0M891.1 254.0h0M890.2 255.6h0M890.5 257.1h0M891.3 257.4h0M863.6 245.4h0M862.3 245.0h0M864.4 243.9h0M862.6 246.9h0M867.0 247.7h0M865.3 245.1h0M830.0 232.2h0M846.1 261.4h0M852.7 264.7h0M848.6 279.3h0M852.4 278.6h0M852.9 280.2h0M848.3 273.0h0M851.4 274.3h0M848.1 272.2h0M850.4 271.2h0M848.2 270.8h0M845.1 271.6h0M843.9 274.3h0M846.3 274.0h0M845.8 273.1h0M849.5 272.3h0M850.0 272.3h0M850.6 276.6h0M850.6 277.8h0M850.4 277.4h0M851.0 272.8h0M851.0 246.6h0M854.3 241.2h0M853.4 244.6h0M822.5 260.2h0M821.1 254.7h0M823.5 248.7h0M838.0 252.2h0M846.5 250.5h0M847.3 249.9h0M848.8 247.7h0M850.5 242.5h0M846.3 243.3h0M873.6 222.0h0M868.9 270.4h0M833.8 281.7h0M884.5 274.0h0M868.9 225.1h0M890.6 285.4h0M849.8 213.1h0M843.6 253.8h0M842.3 216.9h0M832.3 287.3h0M840.4 256.2h0M820.8 286.3h0M866.4 281.5h0M879.3 256.8h0M844.5 281.2h0M882.3 272.9h0M845.0 240.0h0M876.6 237.5h0M833.2 285.4h0M819.6 243.9h0M888.7 249.3h0M829.3 255.5h0M820.2 236.2h0M870.8 286.1h0M830.5 265.4h0M835.8 244.3h0M857.9 267.2h0M841.1 272.1h0M828.0 282.2h0M825.2 229.2h0M869.0 236.8h0M889.7 276.8h0M885.9 270.8h0M816.1 218.2h0M853.7 212.9h0M838.4 236.0h0M843.1 228.5h0M838.1 249.8h0M854.2 223.2h0M851.3 274.9h0M841.2 237.7h0M831.7 243.0h0M891.0 286.9h0M868.4 282.6h0M848.7 273.7h0M842.1 242.9h0M827.5 258.5h0" stroke="#b8b078" stroke-opacity="0.6" stroke-width="1" stroke-linecap="square" fill="none"/><path d="M838.3 233.6h0M839.9 231.2h0M839.2 232.3h0M886.0 251.3h0M882.0 248.6h0M878.7 248.0h0M876.5 249.5h0M879.2 248.5h0M878.0 243.2h0M878.8 244.9h0M819.7 239.6h0M865.7 247.0h0M883.8 222.2h0M827.4 233.6h0M826.5 232.6h0M832.7 218.1h0M832.2 220.1h0M825.7 216.5h0M834.9 255.8h0M817.2 232.5h0M881.1 240.9h0M845.6 227.3h0M878.0 251.1h0M830.6 251.3h0M833.4 253.4h0M879.8 262.8h0M878.1 260.5h0M877.7 260.3h0M874.2 259.9h0M876.5 262.3h0M874.1 262.2h0M874.9 263.3h0M873.6 263.9h0M870.0 264.4h0M850.2 228.8h0M856.9 220.7h0M835.1 251.5h0M835.4 280.3h0M815.5 226.2h0M816.0 226.2h0M815.2 231.7h0M887.4 267.0h0M829.8 230.6h0M824.2 244.5h0M827.2 242.2h0M829.2 243.2h0M831.6 247.1h0M831.0 245.5h0M830.0 247.5h0M834.0 287.7h0M834.3 285.7h0M852.5 263.8h0M853.3 252.2h0M847.8 283.0h0M850.8 280.6h0M855.3 275.3h0M821.4 236.8h0M824.7 237.5h0M852.3 261.6h0M823.5 257.8h0M819.8 250.1h0M823.9 248.3h0M860.8 281.8h0M848.6 283.9h0M841.3 273.6h0M865.8 214.1h0M857.9 271.4h0M860.9 266.7h0M859.2 265.3h0M859.3 266.0h0M862.2 269.9h0M862.2 269.1h0M867.5 263.9h0M867.9 261.1h0M872.5 264.3h0M871.1 265.5h0M872.0 266.3h0M873.5 268.1h0M888.9 287.1h0M840.5 215.3h0M883.4 223.8h0M839.2 276.8h0M864.7 229.9h0M863.0 219.0h0M818.8 271.8h0M846.3 268.4h0M864.7 252.3h0M890.7 275.5h0M836.0 282.7h0M849.8 255.2h0M880.4 279.9h0M860.7 217.3h0M824.2 246.4h0M831.6 277.2h0M815.2 258.2h0M846.3 230.5h0M840.3 224.1h0M888.6 266.7h0M867.7 219.0h0M840.5 226.4h0M880.8 217.8h0M859.6 259.2h0M821.7 219.0h0M851.4 235.3h0M830.4 279.8h0M833.8 272.4h0M889.0 261.3h0M825.2 215.9h0M883.9 254.9h0M839.9 240.9h0M887.2 213.8h0M815.2 280.1h0M890.4 230.5h0M863.5 280.2h0M859.6 229.6h0M832.6 226.6h0M832.6 264.2h0M828.7 283.3h0M875.1 285.4h0M836.6 283.0h0M837.6 228.8h0M829.1 273.2h0M863.3 278.8h0" stroke="#c08890" stroke-opacity="0.6" stroke-width="1" stroke-linecap="square" fill="none"/><path d="M534.3 321.3h0M542.0 351.8h0M540.2 332.0h0M551.2 325.3h0M553.0 326.7h0M507.5 319.7h0M559.9 340.4h0M525.3 333.2h0M525.6 326.1h0M526.1 326.6h0M523.7 323.8h0M526.3 324.4h0M527.3 325.0h0M528.8 324.9h0M542.7 331.8h0M543.2 330.2h0M546.6 327.6h0M550.9 327.8h0M551.0 326.2h0M552.6 325.4h0M554.1 323.2h0M556.0 321.7h0M557.4 324.6h0M553.4 322.3h0M533.0 344.5h0M498.0 357.1h0M536.9 353.2h0M536.9 349.9h0M535.6 347.3h0M541.1 348.5h0M541.4 344.7h0M539.4 344.4h0M531.2 340.9h0M533.2 342.9h0M532.0 343.1h0M535.8 349.4h0M534.5 346.9h0M534.6 348.2h0M538.3 347.3h0M542.2 344.9h0M545.7 348.2h0M545.1 349.5h0M542.8 381.2h0M546.0 366.2h0M570.1 325.1h0M563.1 325.9h0M503.2 327.5h0M522.0 375.3h0M557.5 367.5h0M518.7 375.5h0M509.6 379.4h0M511.3 376.0h0M514.4 381.2h0M510.3 376.6h0M506.8 374.3h0M521.5 322.5h0M557.4 360.2h0M541.8 361.9h0M538.1 357.3h0M540.6 342.1h0M542.1 345.4h0M548.2 343.5h0M549.8 344.6h0M543.7 341.1h0M535.5 320.6h0M522.8 326.5h0M520.5 328.7h0M521.4 326.2h0M520.3 325.8h0M517.8 331.2h0M519.4 330.4h0M520.1 333.8h0M512.8 339.1h0M513.7 343.0h0M517.1 337.4h0M518.7 340.0h0M517.5 342.3h0M520.0 340.1h0M518.7 337.3h0M519.0 343.4h0M520.2 343.8h0M546.0 335.4h0M538.5 338.2h0M497.9 325.9h0M532.9 367.0h0M518.5 354.9h0M541.3 387.8h0M570.0 337.7h0M574.1 340.6h0M574.2 346.0h0M564.9 383.9h0M530.1 326.5h0M503.9 335.7h0M521.1 316.7h0M553.5 337.3h0M562.5 335.5h0M564.9 347.2h0M531.3 373.0h0M513.6 359.8h0M544.4 367.6h0M530.4 341.9h0M511.2 328.4h0M534.6 366.5h0M532.9 366.6h0M502.3 348.5h0M505.9 352.5h0M535.0 365.4h0M535.8 370.7h0M557.6 357.6h0M539.2 318.8h0M503.0 341.6h0M569.5 387.5h0M503.1 336.0h0M567.2 375.9h0M515.6 324.6h0M511.4 381.1h0M531.0 371.2h0M569.8 317.8h0M513.9 337.2h0M538.6 387.0h0M498.8 324.6h0M554.1 359.4h0M524.9 375.6h0M519.7 371.0h0M504.0 362.5h0M509.5 342.3h0M558.7 379.7h0M567.7 342.3h0M565.5 321.6h0M500.3 380.5h0M505.8 342.0h0M548.0 348.8h0M572.9 334.9h0M541.3 384.4h0M508.6 340.4h0M575.3 377.1h0M505.5 380.2h0M517.3 346.7h0" stroke="#b48a9c" stroke-opacity="0.6" stroke-width="1" stroke-linecap="square" fill="none"/><path d="M536.5 320.9h0M540.0 317.2h0M568.0 337.6h0M553.1 317.1h0M545.4 316.2h0M550.5 319.7h0M550.0 321.9h0M548.8 320.9h0M552.4 323.1h0M550.8 319.4h0M554.3 323.1h0M556.7 321.9h0M559.9 317.8h0M560.4 319.4h0M527.3 343.2h0M506.1 357.8h0M497.7 356.8h0M534.9 350.7h0M538.9 347.0h0M548.4 379.6h0M569.8 333.9h0M572.1 337.5h0M569.5 326.3h0M500.4 373.7h0M499.7 373.1h0M499.7 379.8h0M501.2 385.6h0M555.0 362.4h0M556.5 360.4h0M561.0 363.7h0M561.3 365.2h0M562.1 364.7h0M561.9 361.8h0M557.6 369.1h0M551.6 372.8h0M552.8 332.6h0M554.2 368.3h0M544.7 363.3h0M537.8 369.4h0M508.3 349.2h0M500.7 346.3h0M561.7 337.1h0M552.5 388.4h0M564.3 348.3h0M564.0 349.6h0M562.5 350.6h0M564.4 353.0h0M568.3 355.2h0M567.7 359.3h0M561.5 362.8h0M561.7 365.3h0M558.5 366.4h0M559.9 361.1h0M556.8 359.2h0M559.8 360.6h0M559.7 362.8h0M561.2 362.1h0M553.0 362.1h0M553.5 366.6h0M551.1 366.8h0M553.0 367.7h0M554.4 365.6h0M548.7 345.4h0M549.1 346.2h0M549.2 342.6h0M513.7 324.6h0M569.7 337.0h0M572.3 337.6h0M573.6 339.5h0M574.2 336.7h0M573.5 339.0h0M574.3 333.7h0M575.2 333.9h0M572.8 331.8h0M572.7 332.5h0M573.1 335.9h0M572.6 334.9h0M521.5 340.1h0M543.6 335.6h0M538.4 337.1h0M506.6 328.2h0M547.1 363.5h0M517.2 347.0h0M557.6 385.8h0M526.5 347.8h0M520.4 349.8h0M520.0 347.8h0M522.1 355.0h0M530.5 346.1h0M499.5 337.3h0M518.3 336.5h0M512.0 334.1h0M568.2 368.1h0M573.5 335.5h0M561.2 373.9h0M539.9 367.6h0M529.1 366.3h0M520.4 351.2h0M560.6 333.6h0M542.4 345.8h0M511.5 326.0h0M505.5 386.3h0M504.5 372.7h0M551.0 341.5h0M518.0 362.3h0M518.4 333.1h0M546.1 369.0h0M571.7 339.6h0M561.1 316.7h0M545.4 363.9h0M551.5 352.2h0M527.7 354.6h0M568.6 329.4h0M540.3 345.7h0M564.8 316.1h0M504.9 345.2h0M514.6 347.2h0M506.2 361.2h0M560.4 371.3h0M504.5 383.0h0M567.1 319.3h0M558.2 387.6h0M533.1 365.1h0M509.8 359.4h0M525.7 340.9h0M558.9 384.8h0M544.4 316.8h0M553.6 324.9h0M505.3 370.5h0M535.8 340.9h0M525.1 358.6h0M546.0 332.4h0M530.2 366.7h0M517.3 321.4h0M500.4 350.8h0M519.0 330.7h0M497.2 355.1h0M555.9 388.1h0M555.8 378.1h0M529.5 385.9h0M573.9 342.2h0" stroke="#8a9cc0" stroke-opacity="0.6" stroke-width="1" stroke-linecap="square" fill="none"/><path d="M535.3 325.1h0M533.3 322.8h0M538.6 318.2h0M549.8 347.0h0M550.5 346.0h0M539.1 327.5h0M551.0 380.2h0M550.3 378.9h0M550.0 378.1h0M551.6 372.2h0M550.7 372.4h0M547.9 370.9h0M545.7 368.3h0M549.0 371.5h0M535.0 329.6h0M526.3 349.8h0M534.8 339.4h0M515.9 376.0h0M535.3 346.9h0M541.5 350.4h0M543.9 378.1h0M549.7 378.5h0M548.8 376.8h0M520.5 372.9h0M554.4 334.5h0M555.3 332.9h0M553.3 330.2h0M549.9 333.2h0M551.4 333.5h0M555.3 335.2h0M552.3 335.1h0M553.5 337.4h0M555.8 335.3h0M552.7 332.7h0M514.7 377.8h0M514.6 380.0h0M521.8 319.8h0M519.7 323.4h0M504.4 345.1h0M512.1 343.9h0M563.0 337.6h0M564.5 334.4h0M565.3 335.5h0M566.3 331.8h0M565.8 328.4h0M567.5 330.2h0M569.8 332.7h0M571.2 333.3h0M568.6 332.6h0M567.6 335.2h0M569.7 334.8h0M571.8 336.6h0M574.2 339.0h0M573.2 334.0h0M512.5 324.5h0M519.4 320.5h0M572.7 336.4h0M570.9 336.8h0M516.9 333.0h0M515.6 334.8h0M498.8 328.6h0M517.1 317.8h0M535.2 316.5h0M514.2 352.8h0M549.8 319.8h0M523.2 331.8h0M566.9 380.0h0M524.5 349.6h0M521.4 354.3h0M543.4 349.9h0M523.1 365.0h0M533.4 354.4h0M519.7 331.9h0M502.1 342.7h0M518.8 334.4h0M517.6 337.2h0M515.8 336.0h0M515.3 331.1h0M515.9 329.5h0M514.6 332.0h0M514.1 334.4h0M512.2 331.9h0M514.3 335.8h0M516.2 336.0h0M512.7 339.7h0M511.8 333.7h0M510.6 336.2h0M509.1 340.5h0M550.0 344.9h0M536.7 332.0h0M497.3 344.5h0M506.1 342.7h0M547.4 345.9h0M506.8 326.4h0M543.0 388.7h0M557.0 372.9h0M562.9 387.9h0M523.9 334.1h0M565.7 329.6h0M519.4 328.8h0M510.3 384.7h0M548.1 371.1h0M566.3 340.8h0M506.3 357.4h0M507.2 352.4h0M562.8 334.7h0M524.2 316.9h0M547.5 347.4h0M555.2 359.0h0M501.8 316.6h0M510.1 327.5h0M511.7 377.0h0M506.2 347.1h0M523.2 382.0h0M571.2 354.1h0M511.8 318.5h0M497.4 363.9h0M536.2 386.9h0M551.0 347.3h0M542.9 328.5h0M531.8 372.9h0M516.2 326.2h0M555.9 356.4h0M540.1 352.8h0M526.3 347.9h0M532.2 380.8h0M501.7 386.6h0M522.3 350.4h0M545.1 343.8h0M524.7 374.6h0M528.6 382.8h0M526.3 335.2h0M519.4 352.9h0M570.1 366.4h0M561.9 323.9h0M516.1 357.2h0M524.4 364.5h0M560.1 362.6h0" stroke="#98b088" stroke-opacity="0.6" stroke-width="1" stroke-linecap="square" fill="none"/><path d="M539.0 330.3h0M536.4 332.2h0M550.4 370.8h0M554.9 338.1h0M553.5 336.6h0M556.6 337.3h0M556.5 334.2h0M561.4 332.3h0M564.6 333.2h0M565.5 334.5h0M568.0 334.3h0M549.6 323.4h0M549.1 319.6h0M553.4 317.2h0M553.7 323.2h0M525.4 383.3h0M554.1 337.1h0M555.4 343.8h0M506.7 321.3h0M537.2 353.4h0M531.7 346.9h0M533.5 347.0h0M533.3 347.5h0M532.4 347.9h0M533.7 347.2h0M533.1 344.7h0M531.8 346.3h0M572.7 337.3h0M503.2 377.2h0M501.3 372.7h0M498.8 373.2h0M497.4 374.0h0M499.7 374.1h0M499.2 368.2h0M501.6 373.3h0M502.7 371.5h0M503.2 368.5h0M503.8 371.6h0M499.8 371.2h0M499.8 374.5h0M498.9 374.2h0M517.6 334.5h0M517.8 332.3h0M519.9 329.7h0M522.3 333.0h0M517.9 332.7h0M518.3 329.9h0M516.9 319.1h0M507.7 319.2h0M508.1 318.5h0M505.6 322.2h0M504.6 321.4h0M557.9 382.0h0M566.6 362.8h0M547.5 335.6h0M547.8 334.8h0M546.9 332.1h0M543.9 331.9h0M544.5 333.5h0M542.5 330.4h0M546.4 329.2h0M543.8 331.1h0M542.1 328.7h0M542.2 326.6h0M541.5 325.0h0M540.3 324.4h0M537.7 323.7h0M536.4 319.1h0M537.7 317.8h0M541.5 319.3h0M539.5 317.7h0M538.0 318.9h0M539.0 336.4h0M504.4 328.0h0M533.4 371.5h0M537.4 317.6h0M540.4 320.4h0M534.8 317.1h0M534.6 318.7h0M538.5 317.3h0M537.4 316.8h0M556.7 332.0h0M558.8 333.6h0M563.3 335.7h0M564.3 327.8h0M550.5 387.4h0M520.5 326.4h0M523.6 330.8h0M523.1 332.8h0M564.1 383.2h0M521.3 353.5h0M543.1 351.3h0M533.7 351.0h0M527.3 316.6h0M522.6 323.4h0M528.7 330.2h0M501.2 342.1h0M566.1 356.2h0M512.9 334.2h0M551.1 375.8h0M498.1 385.8h0M527.0 383.2h0M505.1 321.4h0M502.9 365.2h0M523.2 385.6h0M499.3 382.8h0M516.6 373.4h0M556.6 359.3h0M516.9 363.0h0M508.1 380.9h0M535.4 341.0h0M574.3 372.6h0M553.4 338.7h0M524.9 332.5h0M498.0 353.2h0M568.9 359.5h0M556.6 351.5h0M550.7 315.2h0M557.1 327.9h0M551.9 317.7h0M532.7 352.1h0M560.6 325.4h0M572.3 335.8h0M520.3 381.4h0M532.3 328.3h0M571.2 318.0h0M546.2 340.6h0M556.2 317.2h0M547.4 379.1h0M557.0 349.5h0M556.7 387.4h0M502.9 359.4h0M505.1 327.3h0M564.4 317.9h0M525.2 356.8h0M551.3 375.9h0M574.8 379.2h0M502.7 335.7h0M556.2 371.4h0M499.4 354.6h0M542.5 352.3h0M560.8 387.6h0" stroke="#a88fbf" stroke-opacity="0.6" stroke-width="1" stroke-linecap="square" fill="none"/><path d="M539.8 319.8h0M542.0 322.0h0M538.9 322.8h0M537.4 321.1h0M532.4 324.0h0M535.2 321.3h0M536.3 315.3h0M534.6 315.2h0M531.7 318.2h0M531.0 315.5h0M527.7 317.0h0M540.1 332.6h0M541.3 330.7h0M559.1 321.8h0M557.6 323.8h0M547.0 379.1h0M507.1 317.3h0M553.9 338.4h0M549.3 320.6h0M533.6 343.1h0M534.9 339.8h0M500.1 357.7h0M543.6 373.1h0M554.5 343.9h0M555.1 343.3h0M553.1 369.4h0M552.1 365.1h0M554.5 366.4h0M555.8 362.9h0M555.1 361.5h0M553.3 364.9h0M551.3 363.2h0M550.1 362.6h0M548.8 364.6h0M550.8 365.4h0M551.5 361.5h0M556.1 361.7h0M559.6 360.6h0M562.5 361.6h0M563.4 361.1h0M565.6 364.3h0M565.8 363.2h0M565.2 362.5h0M565.4 363.4h0M567.4 362.9h0M498.6 326.1h0M502.5 374.4h0M499.3 381.4h0M558.1 361.2h0M558.4 367.9h0M550.6 369.7h0M515.5 323.8h0M504.3 321.9h0M503.6 321.9h0M557.1 384.4h0M559.4 365.8h0M558.3 363.8h0M518.8 338.3h0M520.3 337.6h0M542.7 339.0h0M507.8 315.8h0M507.8 327.3h0M559.2 331.1h0M547.1 371.4h0M498.8 348.8h0M516.2 349.4h0M543.1 385.4h0M549.7 320.4h0M543.3 334.7h0M521.3 334.7h0M514.7 334.6h0M513.4 335.0h0M516.7 335.1h0M561.4 368.0h0M504.5 376.7h0M541.9 323.9h0M521.6 381.8h0M548.9 350.1h0M506.4 317.1h0M513.9 347.2h0M534.3 331.2h0M537.3 366.3h0M560.2 338.7h0M518.7 336.0h0M574.9 324.8h0M528.4 357.4h0M500.5 340.7h0M544.3 329.8h0M574.6 370.7h0M544.4 318.9h0M568.7 318.8h0M518.7 332.9h0M501.1 365.9h0M519.8 362.0h0M501.4 317.8h0M547.6 373.8h0M527.1 363.4h0M520.8 321.8h0M519.1 342.7h0M572.7 363.2h0M546.1 368.0h0M572.7 360.4h0M561.4 340.9h0M509.9 318.4h0M561.5 385.7h0M534.8 367.1h0M497.5 363.4h0M508.8 314.8h0M516.1 321.3h0M550.7 348.2h0M517.1 362.4h0M565.5 362.9h0M549.4 368.7h0M513.6 385.7h0M498.2 365.2h0M520.8 379.6h0M559.6 388.2h0M527.4 360.9h0M560.8 341.9h0" stroke="#c0a070" stroke-opacity="0.6" stroke-width="1" stroke-linecap="square" fill="none"/><path d="M574.5 383.4h0M536.9 318.6h0M541.7 345.2h0M552.7 323.0h0M553.6 325.0h0M509.4 315.9h0M560.2 330.5h0M551.6 314.9h0M544.1 329.6h0M533.4 339.5h0M542.1 331.4h0M508.5 362.1h0M505.2 352.1h0M507.8 353.9h0M502.7 355.5h0M542.1 377.7h0M552.6 344.9h0M548.2 344.7h0M565.5 327.5h0M506.6 319.3h0M560.7 361.8h0M573.8 342.6h0M575.3 342.1h0M574.1 345.3h0M571.8 336.4h0M515.1 317.2h0M520.8 318.3h0M562.5 367.4h0M538.1 351.1h0M575.0 373.8h0M573.6 336.1h0M514.6 337.6h0M542.3 337.3h0M508.3 320.4h0M509.3 316.3h0M506.7 319.4h0M502.7 319.9h0M503.2 324.4h0M502.5 325.2h0M500.4 327.5h0M498.4 323.1h0M504.1 328.6h0M565.0 333.2h0M547.1 358.7h0M506.3 346.3h0M506.4 345.0h0M505.3 349.9h0M501.9 349.5h0M498.3 350.7h0M498.9 351.5h0M523.9 353.8h0M552.1 324.4h0M561.7 384.9h0M564.3 377.3h0M522.2 351.9h0M516.6 354.7h0M517.8 355.5h0M543.2 328.6h0M541.9 331.0h0M542.0 331.0h0M542.9 332.6h0M542.2 338.7h0M541.4 340.0h0M542.2 339.6h0M540.1 341.1h0M547.2 350.3h0M548.5 348.9h0M551.5 349.9h0M550.8 351.6h0M550.5 353.3h0M551.5 352.6h0M550.1 351.4h0M549.7 351.9h0M553.6 354.6h0M522.9 359.2h0M522.5 359.3h0M523.3 363.2h0M523.6 363.2h0M527.4 369.9h0M526.7 369.2h0M532.4 368.3h0M531.1 369.0h0M530.9 366.8h0M530.9 366.7h0M527.0 365.6h0M528.7 364.8h0M530.0 367.7h0M534.1 358.2h0M527.8 317.9h0M525.9 321.6h0M525.1 329.6h0M497.8 337.4h0M514.9 338.6h0M573.7 329.3h0M508.4 346.7h0M524.8 349.3h0M535.1 370.6h0M553.3 337.9h0M515.6 321.0h0M563.2 367.0h0M533.6 361.5h0M553.9 319.3h0M543.2 372.4h0M504.2 375.5h0M564.8 322.4h0M568.0 388.0h0M574.5 323.7h0M540.3 339.7h0M541.2 318.7h0M554.5 357.3h0M512.3 342.5h0M561.8 383.4h0M564.3 335.7h0M506.2 315.1h0M529.3 381.3h0M541.1 368.6h0M567.1 348.7h0M564.0 315.0h0M502.2 358.8h0M573.1 359.8h0M533.4 333.2h0M543.8 369.0h0M524.5 364.5h0M569.7 350.5h0M562.3 368.2h0M553.8 339.6h0M567.1 351.4h0M566.1 337.0h0M532.9 384.2h0M497.4 353.8h0M571.1 363.1h0M549.7 339.4h0M525.5 374.3h0M509.7 365.6h0M574.6 348.3h0M524.2 341.9h0" stroke="#78b0b0" stroke-opacity="0.6" stroke-width="1" stroke-linecap="square" fill="none"/><path d="M542.8 319.8h0M526.4 314.6h0M537.5 320.9h0M538.1 318.8h0M540.2 350.3h0M540.7 328.5h0M552.4 372.9h0M553.8 340.0h0M559.2 343.4h0M515.4 378.6h0M515.7 380.2h0M516.3 380.5h0M515.8 376.9h0M514.0 374.3h0M513.0 376.1h0M509.9 381.1h0M508.0 379.4h0M506.7 381.0h0M506.4 381.4h0M508.2 378.8h0M507.4 381.1h0M508.2 381.6h0M507.2 381.4h0M504.8 383.2h0M503.5 382.9h0M503.1 385.3h0M501.8 387.5h0M504.0 383.0h0M502.9 383.7h0M506.4 384.3h0M535.4 337.9h0M517.2 379.2h0M537.4 343.5h0M533.3 347.2h0M534.1 350.7h0M541.9 342.5h0M540.9 379.6h0M546.2 372.9h0M552.6 366.3h0M570.8 331.2h0M570.5 336.9h0M573.9 339.8h0M572.1 336.4h0M570.7 336.4h0M572.5 333.7h0M571.6 330.3h0M572.0 326.3h0M570.7 326.2h0M572.2 325.5h0M565.0 326.6h0M561.7 323.5h0M566.2 321.8h0M505.4 321.5h0M499.8 373.8h0M510.4 377.5h0M552.9 319.3h0M540.3 352.8h0M498.6 371.9h0M504.5 318.3h0M558.3 362.3h0M545.3 334.5h0M542.7 338.9h0M535.3 337.9h0M533.1 340.6h0M528.8 342.2h0M530.7 343.2h0M532.0 340.5h0M530.6 343.7h0M531.5 341.5h0M530.5 342.3h0M517.7 319.8h0M547.7 366.7h0M549.3 366.4h0M545.9 363.5h0M543.3 362.0h0M548.9 361.0h0M546.5 360.7h0M547.5 361.1h0M547.1 361.9h0M550.6 364.9h0M547.6 367.5h0M524.3 351.8h0M521.3 356.0h0M519.3 351.7h0M517.8 347.5h0M517.2 349.0h0M515.7 351.6h0M517.0 348.4h0M513.0 350.0h0M514.1 351.1h0M512.8 353.9h0M543.7 324.2h0M564.4 382.4h0M523.9 350.3h0M524.4 368.0h0M525.4 369.7h0M532.8 347.9h0M528.7 326.3h0M526.0 324.3h0M515.2 331.2h0M519.5 387.1h0M518.9 362.7h0M569.6 369.0h0M525.3 345.1h0M546.4 341.2h0M522.9 371.7h0M511.0 351.2h0M536.5 320.9h0M528.3 318.1h0M544.3 327.4h0M501.1 362.2h0M506.9 353.9h0M565.7 320.7h0M562.6 321.1h0M519.2 328.6h0M552.2 336.5h0M537.7 385.2h0M512.6 350.4h0M548.9 361.5h0M508.2 353.2h0M503.6 331.8h0M571.3 388.5h0M540.1 378.0h0M570.3 319.1h0M538.3 326.1h0M559.6 329.4h0M574.3 379.4h0M538.1 333.1h0M565.3 323.0h0M558.8 368.3h0M569.2 383.1h0M537.7 374.0h0M566.7 374.9h0M503.7 375.4h0M523.1 317.5h0M511.6 362.2h0M511.8 374.4h0" stroke="#9c84b0" stroke-opacity="0.6" stroke-width="1" stroke-linecap="square" fill="none"/><path d="M548.5 340.2h0M537.3 332.2h0M549.2 376.1h0M570.3 341.0h0M550.2 316.0h0M558.1 319.1h0M530.8 325.2h0M538.9 329.9h0M509.8 360.7h0M510.2 361.5h0M505.0 360.7h0M505.4 360.0h0M505.1 352.8h0M504.5 356.4h0M502.5 355.4h0M497.6 353.3h0M498.3 359.4h0M500.2 355.0h0M498.0 359.1h0M498.9 360.3h0M504.3 358.0h0M506.1 354.7h0M505.0 354.5h0M534.6 344.3h0M541.8 381.4h0M545.4 379.9h0M556.4 331.3h0M560.5 337.1h0M558.4 338.1h0M553.8 336.7h0M554.4 342.3h0M555.5 346.1h0M557.5 345.7h0M546.8 345.8h0M545.7 348.0h0M544.5 347.1h0M546.2 350.8h0M547.1 349.3h0M570.2 332.0h0M506.4 321.2h0M520.5 372.7h0M517.7 321.8h0M518.0 316.7h0M547.5 359.5h0M545.9 360.7h0M543.3 360.9h0M543.4 359.6h0M543.7 355.8h0M537.7 361.9h0M539.7 365.8h0M538.3 368.0h0M535.5 369.1h0M552.5 318.1h0M548.9 317.5h0M546.6 318.4h0M546.2 317.6h0M546.1 316.2h0M546.8 317.1h0M547.3 317.9h0M541.3 321.7h0M536.0 353.3h0M537.5 353.7h0M539.2 355.2h0M536.4 357.7h0M552.3 385.8h0M498.7 373.2h0M520.7 327.6h0M561.7 363.8h0M546.2 343.6h0M574.8 343.2h0M506.5 323.8h0M510.1 322.0h0M510.4 323.8h0M532.0 361.1h0M532.0 362.6h0M532.1 365.4h0M536.2 365.4h0M535.1 364.5h0M536.1 359.2h0M540.0 360.8h0M505.9 347.3h0M522.7 357.2h0M547.7 386.6h0M524.7 334.7h0M558.7 386.6h0M523.8 346.4h0M539.8 332.3h0M536.0 357.9h0M533.4 356.2h0M529.7 321.3h0M522.3 324.2h0M528.9 327.4h0M518.7 332.7h0M512.4 355.0h0M518.6 322.9h0M571.8 321.4h0M503.4 382.6h0M523.4 372.4h0M499.9 365.4h0M515.2 337.8h0M566.2 351.9h0M553.6 353.5h0M507.8 361.2h0M506.2 366.7h0M503.5 316.7h0M535.8 371.8h0M514.2 351.3h0M546.5 353.9h0M539.2 365.9h0M572.6 341.2h0M502.8 317.1h0M550.0 324.9h0M519.2 324.1h0M547.8 338.5h0M562.5 348.7h0M569.1 375.7h0M531.9 333.7h0M532.4 352.9h0M512.8 335.7h0M538.6 327.3h0M529.2 330.9h0M518.9 358.7h0M525.9 325.4h0M566.9 342.8h0M533.3 316.6h0M500.2 341.2h0M544.2 381.6h0M509.2 319.2h0M568.9 329.3h0M572.4 328.7h0M549.7 386.3h0M518.0 326.3h0M556.2 342.2h0M564.6 345.6h0M542.7 375.6h0M534.5 353.8h0M497.9 318.2h0M504.8 339.2h0M553.4 319.0h0M546.0 333.2h0M502.1 330.4h0M503.8 383.1h0" stroke="#b89080" stroke-opacity="0.6" stroke-width="1" stroke-linecap="square" fill="none"/><path d="M540.1 322.6h0M543.8 320.4h0M537.2 320.1h0M538.6 319.6h0M540.7 316.4h0M540.6 316.7h0M539.8 317.3h0M538.5 316.2h0M552.0 347.8h0M548.5 325.7h0M547.9 379.9h0M511.4 317.9h0M511.5 315.2h0M511.2 315.2h0M506.2 316.5h0M509.2 315.9h0M505.6 315.6h0M554.7 338.7h0M551.4 314.8h0M549.0 319.8h0M554.5 321.6h0M558.0 320.8h0M533.4 345.1h0M516.0 387.6h0M516.2 388.1h0M506.1 352.6h0M546.2 382.4h0M558.3 360.3h0M552.4 361.7h0M565.4 364.7h0M569.7 333.2h0M569.2 326.1h0M521.5 377.4h0M523.5 375.3h0M521.2 370.5h0M521.4 370.2h0M523.1 369.7h0M524.5 372.4h0M501.7 379.6h0M573.1 335.3h0M569.8 335.5h0M519.7 320.2h0M505.2 347.2h0M504.4 343.5h0M501.3 344.1h0M500.7 346.3h0M506.2 343.2h0M512.7 344.3h0M552.7 386.2h0M514.9 319.7h0M543.9 343.9h0M545.5 347.0h0M547.9 331.2h0M536.2 319.3h0M517.5 341.3h0M544.8 334.6h0M529.1 340.9h0M501.2 325.8h0M513.9 318.4h0M559.7 330.8h0M559.6 332.5h0M563.0 328.5h0M552.1 327.1h0M551.5 321.5h0M546.8 323.0h0M545.5 324.0h0M524.0 333.1h0M522.8 328.7h0M523.3 332.8h0M524.9 331.8h0M561.0 382.7h0M517.7 355.0h0M539.8 339.6h0M542.0 343.7h0M543.7 351.3h0M527.1 364.5h0M521.2 323.3h0M500.3 342.2h0M520.8 333.3h0M559.1 323.6h0M515.6 365.1h0M529.1 332.5h0M559.9 359.4h0M526.4 379.5h0M574.9 315.1h0M502.6 384.9h0M532.6 328.2h0M503.8 328.0h0M534.5 357.9h0M554.0 336.2h0M569.4 328.3h0M550.5 354.7h0M535.2 317.1h0M574.6 381.4h0M515.2 363.5h0M559.6 356.5h0M504.2 331.8h0M564.3 371.3h0M541.8 346.4h0M532.4 376.7h0M561.2 378.0h0M549.2 373.7h0M526.8 389.0h0M563.8 388.8h0M518.5 341.0h0M551.6 330.3h0M550.1 344.4h0M556.6 350.7h0M536.6 327.4h0M561.2 361.5h0M546.6 334.3h0M539.3 385.9h0M564.8 359.5h0M550.9 358.4h0M508.8 338.9h0M563.0 357.8h0M517.9 354.9h0M502.8 345.8h0M514.7 339.7h0M543.2 344.0h0" stroke="#8898c0" stroke-opacity="0.6" stroke-width="1" stroke-linecap="square" fill="none"/><path d="M572.5 372.3h0M532.8 321.7h0M540.3 318.7h0M550.6 347.2h0M550.8 343.6h0M549.4 345.9h0M549.9 343.1h0M550.1 339.1h0M550.3 346.4h0M549.4 349.7h0M547.7 349.3h0M547.6 347.8h0M546.8 348.3h0M543.9 347.4h0M540.9 349.3h0M541.0 350.2h0M540.5 351.5h0M537.9 347.5h0M540.1 348.5h0M538.9 345.5h0M543.1 334.9h0M541.6 334.6h0M539.0 335.7h0M539.5 330.3h0M540.6 331.9h0M542.1 331.3h0M542.1 327.6h0M551.8 325.9h0M552.0 320.0h0M555.4 320.5h0M554.3 327.1h0M552.2 326.0h0M567.6 336.0h0M566.6 342.3h0M562.6 345.8h0M564.6 345.0h0M563.8 345.8h0M561.3 342.7h0M557.7 343.4h0M556.4 343.0h0M557.4 343.5h0M554.7 338.2h0M505.1 381.3h0M550.8 318.5h0M504.7 335.2h0M505.3 335.5h0M503.7 336.0h0M500.4 336.5h0M498.5 338.6h0M497.4 340.5h0M497.5 339.3h0M497.5 341.5h0M499.7 339.4h0M533.7 329.0h0M544.7 333.3h0M554.3 323.3h0M530.2 343.3h0M533.1 340.8h0M536.0 343.6h0M533.7 345.4h0M538.0 344.3h0M533.9 341.5h0M534.6 342.0h0M534.0 338.5h0M536.7 337.3h0M537.4 336.0h0M509.8 360.6h0M508.4 360.7h0M533.8 348.6h0M545.6 376.5h0M549.6 377.5h0M554.8 381.3h0M562.4 334.5h0M556.1 336.8h0M554.1 338.8h0M565.3 330.2h0M499.1 324.6h0M563.3 365.0h0M514.8 380.7h0M519.4 317.4h0M521.7 321.2h0M561.0 363.1h0M558.7 371.0h0M560.6 372.4h0M558.4 368.9h0M559.2 368.8h0M556.9 366.2h0M501.8 343.9h0M534.5 355.9h0M529.5 348.2h0M531.3 348.2h0M568.4 329.4h0M520.0 330.6h0M512.1 320.8h0M505.2 322.1h0M558.8 383.6h0M566.8 354.8h0M549.7 369.0h0M514.8 318.2h0M516.4 317.3h0M516.9 318.6h0M515.9 320.7h0M515.7 320.2h0M515.7 320.3h0M513.8 317.0h0M509.8 322.0h0M508.0 326.4h0M502.7 327.8h0M506.6 328.4h0M499.7 330.0h0M501.0 329.6h0M498.4 338.2h0M500.3 338.9h0M501.1 340.8h0M498.1 340.6h0M538.0 317.0h0M563.4 333.0h0M548.2 359.3h0M505.9 344.4h0M546.3 382.9h0M545.2 383.5h0M542.4 381.8h0M546.1 385.5h0M552.8 321.7h0M558.2 383.4h0M565.0 378.5h0M564.1 377.0h0M568.0 378.6h0M562.8 386.6h0M560.0 385.0h0M559.7 383.6h0M559.3 383.7h0M557.5 382.1h0M561.5 384.2h0M561.6 382.3h0M562.7 385.4h0M562.3 388.6h0M527.6 320.0h0M529.2 323.3h0M529.4 326.0h0M529.4 328.9h0M530.4 329.1h0M530.1 328.2h0M530.6 326.9h0M527.9 325.6h0M524.9 326.3h0M526.3 328.9h0M530.5 327.5h0M503.9 339.5h0M500.5 341.5h0M499.5 337.3h0M499.1 338.6h0M501.3 336.9h0M498.2 342.3h0M568.0 336.8h0M543.9 316.6h0M572.0 346.7h0M535.3 329.2h0M546.7 340.1h0M519.1 349.9h0M541.0 339.3h0M497.6 355.7h0M538.4 347.0h0M543.1 356.7h0M535.6 375.4h0M549.4 384.5h0M568.0 328.2h0M556.8 349.3h0M512.6 383.6h0M534.9 374.5h0M520.0 328.2h0M517.3 322.5h0M512.7 325.4h0M520.0 323.5h0M572.9 345.2h0M566.1 341.4h0M519.6 386.9h0M515.2 357.0h0M550.3 328.3h0M555.2 348.3h0M505.0 325.4h0M522.8 338.7h0M561.7 354.5h0M501.9 329.8h0M554.2 372.9h0M533.4 362.5h0M511.9 319.9h0M558.7 377.6h0M520.2 353.9h0M538.1 384.9h0M540.2 381.2h0M524.7 351.5h0M540.5 365.0h0M564.4 378.6h0M513.0 344.7h0M509.0 353.5h0M548.2 364.9h0M522.2 356.1h0M517.6 377.8h0M514.7 335.7h0M555.1 362.1h0M553.4 356.2h0M506.2 330.3h0M503.2 364.6h0M524.6 385.6h0" stroke="#b8b078" stroke-opacity="0.6" stroke-width="1" stroke-linecap="square" fill="none"/><path d="M539.7 314.7h0M551.2 347.7h0M543.6 329.3h0M549.3 379.1h0M568.5 341.2h0M560.2 341.4h0M557.2 340.8h0M549.1 318.4h0M551.5 329.2h0M557.2 321.8h0M517.2 380.2h0M515.7 381.5h0M520.6 376.2h0M523.9 377.6h0M525.7 378.2h0M523.2 378.2h0M523.8 378.5h0M522.1 380.4h0M523.3 382.1h0M517.1 382.7h0M515.6 386.2h0M516.1 384.1h0M516.1 388.2h0M520.7 388.0h0M520.0 385.5h0M499.4 356.5h0M535.7 350.1h0M540.6 381.2h0M543.5 379.3h0M542.7 378.9h0M542.9 381.5h0M546.4 380.2h0M541.9 379.9h0M544.6 372.2h0M545.3 376.2h0M548.2 376.7h0M547.0 376.9h0M544.2 374.7h0M542.9 379.9h0M546.9 382.6h0M549.2 382.8h0M547.2 348.5h0M548.5 363.0h0M560.9 326.3h0M500.8 328.2h0M500.3 327.7h0M501.8 323.1h0M499.8 326.6h0M500.1 329.7h0M499.5 324.7h0M500.3 326.4h0M501.1 320.3h0M505.6 322.0h0M505.4 320.6h0M509.1 319.8h0M506.0 322.5h0M502.6 320.2h0M560.2 361.8h0M555.3 335.4h0M514.8 318.3h0M515.7 315.9h0M518.5 320.4h0M521.0 321.6h0M522.3 319.8h0M516.1 317.6h0M514.6 315.8h0M519.3 318.9h0M563.9 365.4h0M543.7 357.9h0M546.2 320.0h0M506.7 344.1h0M536.8 357.0h0M555.0 383.3h0M558.9 382.9h0M558.7 384.6h0M555.3 382.9h0M558.0 378.8h0M558.9 377.9h0M557.5 379.5h0M556.5 380.9h0M556.3 378.4h0M557.7 379.5h0M558.6 374.7h0M561.4 371.4h0M560.6 370.7h0M545.4 347.2h0M501.2 315.0h0M517.7 323.1h0M512.9 321.5h0M510.8 321.4h0M514.2 323.8h0M518.3 320.4h0M516.2 317.5h0M517.5 318.8h0M518.7 321.3h0M518.4 322.2h0M521.3 324.5h0M523.3 327.0h0M546.3 329.0h0M572.6 334.0h0M520.9 326.2h0M518.5 331.9h0M537.9 337.4h0M501.5 324.4h0M500.5 328.9h0M514.0 317.3h0M541.6 316.1h0M566.7 333.3h0M562.6 328.6h0M544.9 368.1h0M547.6 359.9h0M548.8 362.0h0M548.1 371.1h0M516.8 354.3h0M541.1 331.3h0M522.2 362.9h0M536.4 354.4h0M533.8 352.2h0M535.2 356.0h0M536.6 353.7h0M536.3 351.5h0M531.8 346.7h0M532.0 351.6h0M533.2 348.5h0M532.8 348.8h0M533.7 348.1h0M524.3 332.8h0M524.9 332.3h0M518.9 336.2h0M516.0 361.4h0M557.0 374.8h0M528.5 321.9h0M548.2 384.2h0M534.2 322.2h0M537.5 386.1h0M532.7 330.3h0M546.8 340.6h0M546.0 323.8h0M553.2 329.8h0M528.9 374.2h0M553.6 326.8h0M502.0 361.2h0M552.5 379.9h0M557.5 345.8h0M538.5 359.0h0M523.5 353.0h0M534.0 347.0h0M523.1 361.0h0M558.0 380.5h0M548.8 367.2h0M561.2 330.5h0M530.3 324.4h0M549.8 347.8h0M514.7 321.8h0M557.2 316.9h0M532.3 362.7h0M531.1 363.0h0M562.0 325.5h0M524.1 328.2h0M529.1 383.0h0M544.2 321.2h0M547.6 374.7h0M555.9 376.6h0M566.9 385.7h0M512.5 328.7h0M516.5 318.4h0M518.6 374.0h0M564.9 327.0h0M546.4 329.6h0M553.3 332.0h0M555.8 351.8h0M533.9 346.8h0M509.3 361.1h0" stroke="#c08890" stroke-opacity="0.6" stroke-width="1" stroke-linecap="square" fill="none"/><path d="M663.7 326.2h0M612.9 327.7h0M612.9 326.2h0M612.5 338.9h0M668.1 346.9h0M666.5 378.9h0M653.0 387.1h0M639.5 372.5h0M606.5 385.1h0M655.5 374.2h0M618.0 380.4h0M612.7 383.0h0M626.3 350.5h0M624.2 350.2h0M625.2 349.3h0M620.3 349.4h0M622.3 350.1h0M621.9 349.9h0M619.3 349.2h0M617.6 349.3h0M614.5 346.8h0M615.6 349.2h0M616.8 346.8h0M623.0 345.7h0M617.2 345.7h0M617.0 353.1h0M618.1 353.2h0M618.6 354.5h0M618.4 352.9h0M625.3 386.7h0M617.0 320.5h0M619.4 322.4h0M624.8 324.8h0M623.9 326.2h0M626.1 324.6h0M626.2 326.6h0M622.7 327.2h0M622.5 335.7h0M622.8 336.1h0M625.0 336.2h0M627.3 337.3h0M623.7 337.1h0M626.5 334.5h0M636.0 342.2h0M609.6 364.2h0M611.2 356.1h0M608.4 356.6h0M607.7 355.5h0M607.5 354.9h0M604.9 356.9h0M607.7 358.4h0M611.2 358.7h0M611.1 359.6h0M611.3 361.4h0M613.6 362.3h0M606.0 356.2h0M675.4 377.5h0M629.2 365.9h0M631.9 367.1h0M625.6 322.4h0M651.4 349.5h0M611.3 381.9h0M605.5 381.0h0M623.6 339.4h0M615.5 342.8h0M658.7 318.5h0M621.8 323.2h0M627.3 345.7h0M623.2 368.4h0M670.4 384.8h0M631.7 348.6h0M631.5 347.3h0M667.0 385.3h0M619.6 331.7h0M617.5 332.5h0M615.1 330.1h0M614.6 331.6h0M606.3 331.8h0M604.2 337.1h0M606.9 339.8h0M606.5 341.4h0M607.9 344.1h0M603.8 343.1h0M606.0 347.6h0M605.2 349.0h0M625.8 366.3h0M623.7 330.9h0M622.7 334.3h0M629.7 331.4h0M629.6 328.9h0M632.9 333.4h0M629.6 337.3h0M634.8 335.2h0M638.4 338.6h0M639.0 339.0h0M637.2 343.5h0M635.9 340.2h0M635.0 337.1h0M635.0 338.8h0M634.2 334.7h0M620.7 346.6h0M620.3 346.9h0M612.3 320.6h0M651.4 381.4h0M661.6 339.1h0M630.6 353.3h0M642.0 318.1h0M668.8 355.2h0M653.2 341.4h0M613.7 361.8h0M664.5 326.3h0M612.4 326.3h0M611.5 374.2h0M621.2 343.7h0M664.0 378.0h0M641.5 370.9h0M621.3 354.0h0M651.4 357.3h0M634.7 339.7h0M629.2 350.6h0M658.7 317.0h0M652.5 329.2h0M616.8 383.1h0M672.5 322.8h0M636.1 350.9h0M629.2 367.4h0M610.0 335.9h0M627.8 361.0h0M654.0 332.9h0M631.9 338.0h0M633.8 330.5h0M643.8 356.8h0M630.5 360.8h0M643.5 381.1h0M676.4 332.4h0M650.2 373.8h0M618.7 321.5h0M609.1 377.0h0M640.5 369.7h0M647.5 319.0h0M635.4 351.8h0M654.3 382.5h0M661.8 350.9h0M624.2 377.8h0M654.4 356.5h0M666.5 369.0h0M651.1 376.4h0M604.1 336.4h0M670.2 332.6h0M654.7 375.4h0M644.7 382.8h0M605.2 314.9h0M621.0 356.6h0M619.1 350.4h0M671.3 340.3h0M639.8 333.4h0" stroke="#b48a9c" stroke-opacity="0.6" stroke-width="1" stroke-linecap="square" fill="none"/><path d="M619.6 322.1h0M626.5 321.5h0M625.8 324.8h0M623.6 326.6h0M623.1 325.3h0M624.5 328.3h0M620.4 326.0h0M617.2 326.0h0M619.8 325.7h0M616.2 326.4h0M616.0 328.0h0M614.4 327.7h0M658.0 352.8h0M608.8 328.0h0M625.3 375.5h0M623.7 375.0h0M626.0 372.1h0M622.0 364.6h0M621.5 367.2h0M622.7 367.8h0M624.3 370.5h0M626.9 369.4h0M627.2 367.0h0M632.1 366.5h0M632.5 367.5h0M636.9 365.1h0M634.2 356.5h0M631.6 357.9h0M631.1 354.9h0M634.3 351.0h0M608.2 348.4h0M606.9 347.3h0M606.8 353.8h0M605.0 353.1h0M609.0 350.1h0M605.5 351.1h0M608.7 348.2h0M604.9 349.1h0M674.9 354.7h0M654.4 371.3h0M665.2 383.5h0M628.5 373.7h0M627.0 377.8h0M633.2 381.5h0M637.5 378.2h0M638.2 375.5h0M638.1 374.4h0M638.3 371.1h0M635.2 370.1h0M634.5 366.2h0M635.1 368.7h0M637.8 367.7h0M604.9 386.9h0M633.1 376.7h0M638.3 374.1h0M633.8 317.5h0M619.2 372.0h0M616.2 344.7h0M621.7 347.3h0M618.5 345.2h0M614.9 350.8h0M620.0 383.9h0M612.2 382.6h0M653.8 365.1h0M654.4 363.0h0M657.7 358.7h0M662.6 356.6h0M658.9 352.7h0M659.2 353.1h0M659.5 356.0h0M657.9 361.3h0M656.8 362.5h0M623.8 329.4h0M626.0 335.9h0M610.9 376.6h0M637.6 342.7h0M651.5 339.6h0M657.0 382.1h0M609.5 357.6h0M616.1 359.6h0M612.6 357.2h0M614.9 355.7h0M612.0 356.9h0M609.8 355.9h0M604.3 351.9h0M604.9 353.5h0M604.1 359.3h0M648.4 331.1h0M653.5 334.0h0M635.4 363.2h0M614.7 315.8h0M651.7 352.2h0M668.4 320.4h0M650.3 378.1h0M613.2 314.9h0M613.7 314.8h0M603.3 324.7h0M616.6 338.9h0M603.6 374.6h0M608.3 347.7h0M632.0 365.6h0M614.5 372.9h0M622.7 317.6h0M628.8 379.2h0M618.9 331.0h0M606.7 373.6h0M627.7 329.4h0M640.2 375.2h0M673.8 369.8h0M662.1 353.2h0M645.0 384.5h0M632.8 332.9h0M630.4 324.9h0M613.4 342.0h0M636.1 377.5h0M677.2 332.2h0M649.7 356.3h0M657.5 368.9h0M644.2 328.4h0M643.0 330.1h0M648.4 336.6h0M648.3 370.7h0M634.0 317.8h0M640.5 363.1h0M604.5 389.0h0M670.1 327.3h0M641.5 329.9h0M632.1 337.2h0M617.6 357.9h0M651.6 363.0h0M606.2 376.6h0M609.6 316.2h0M668.3 317.8h0M617.1 319.3h0M664.5 336.4h0M649.7 345.5h0M640.6 342.0h0M652.5 368.5h0M631.2 353.3h0M673.8 387.1h0M652.2 336.7h0M673.4 359.4h0M607.7 342.4h0M604.5 322.7h0M674.3 316.2h0M661.9 318.9h0M624.9 349.1h0" stroke="#8a9cc0" stroke-opacity="0.6" stroke-width="1" stroke-linecap="square" fill="none"/><path d="M623.4 319.8h0M661.2 331.0h0M662.7 341.7h0M663.8 340.0h0M662.9 341.2h0M663.3 341.6h0M660.3 339.5h0M662.2 341.2h0M662.5 344.2h0M662.9 343.4h0M661.5 340.6h0M660.9 340.4h0M660.9 338.7h0M657.3 341.8h0M659.6 337.4h0M622.8 337.4h0M605.8 352.0h0M672.9 356.5h0M655.2 387.2h0M625.6 376.1h0M625.6 374.9h0M639.1 374.2h0M623.0 373.8h0M611.7 382.2h0M627.2 348.5h0M620.8 385.9h0M625.9 380.2h0M625.1 378.7h0M618.3 376.7h0M617.6 373.6h0M611.4 379.1h0M607.0 358.7h0M675.8 385.1h0M622.5 315.8h0M651.1 346.8h0M655.9 320.4h0M624.7 324.5h0M625.2 323.6h0M623.7 320.3h0M623.0 322.7h0M626.2 320.6h0M624.5 323.3h0M619.9 323.1h0M619.9 324.0h0M621.3 328.5h0M645.6 387.9h0M627.3 340.9h0M626.4 342.1h0M623.7 343.8h0M649.1 382.0h0M607.4 319.0h0M604.4 323.9h0M606.8 324.5h0M675.0 388.3h0M663.2 385.4h0M611.9 335.1h0M615.6 343.0h0M672.9 382.8h0M612.3 373.1h0M606.6 370.1h0M612.4 330.4h0M616.2 346.4h0M615.5 331.6h0M659.7 381.2h0M661.8 387.3h0M655.0 335.5h0M623.5 316.1h0M622.3 315.0h0M626.3 316.6h0M622.5 315.9h0M621.0 315.6h0M619.9 315.0h0M658.8 340.5h0M657.7 357.0h0M657.0 357.3h0M658.1 363.0h0M658.7 360.3h0M659.3 360.8h0M652.5 360.4h0M659.7 360.3h0M659.1 357.8h0M658.9 358.7h0M659.9 358.5h0M657.5 358.4h0M655.3 361.8h0M655.6 361.3h0M654.3 366.6h0M656.6 370.9h0M656.5 375.1h0M628.1 382.6h0M643.7 325.2h0M619.4 373.4h0M630.9 329.1h0M643.3 373.5h0M607.1 329.8h0M618.8 361.4h0M605.8 355.2h0M679.0 363.5h0M656.5 350.5h0M667.1 384.6h0M675.0 389.0h0M676.9 344.8h0M626.0 362.6h0M624.3 354.6h0M674.3 365.6h0M662.2 335.4h0M644.9 382.7h0M623.5 351.7h0M637.1 348.7h0M630.0 382.6h0M667.1 326.7h0M612.4 334.9h0M636.9 331.9h0M641.6 324.4h0M632.0 360.5h0M623.6 345.2h0M668.6 325.0h0M607.9 375.9h0M630.4 327.6h0M615.5 344.9h0M637.8 323.8h0M621.9 314.8h0M637.0 356.2h0M679.3 326.8h0M676.5 362.4h0M665.7 361.7h0M673.3 325.0h0M609.7 365.6h0M603.8 321.0h0M651.0 325.3h0M654.1 360.5h0M636.7 358.0h0M658.9 345.7h0M620.5 384.0h0M612.1 318.0h0M621.5 385.5h0M620.7 370.5h0M636.2 322.4h0M632.4 371.9h0M676.5 332.0h0M618.6 349.6h0" stroke="#98b088" stroke-opacity="0.6" stroke-width="1" stroke-linecap="square" fill="none"/><path d="M669.9 320.0h0M658.4 375.9h0M656.0 355.2h0M651.0 378.2h0M653.7 378.7h0M654.3 373.9h0M653.6 371.5h0M660.4 378.3h0M660.7 377.4h0M663.0 382.2h0M662.1 381.7h0M661.1 383.2h0M662.3 383.5h0M666.4 379.4h0M668.4 382.5h0M664.6 386.2h0M665.1 386.4h0M665.1 379.2h0M663.8 379.1h0M664.2 376.7h0M664.1 377.6h0M656.2 381.2h0M653.3 387.4h0M658.4 385.0h0M660.3 387.1h0M677.4 316.3h0M636.7 373.3h0M613.6 353.9h0M621.9 355.6h0M618.9 387.3h0M613.9 367.5h0M657.2 358.3h0M653.9 360.5h0M635.4 346.1h0M636.8 346.6h0M635.5 342.1h0M638.6 340.5h0M646.0 341.3h0M651.2 339.9h0M651.7 345.9h0M650.4 342.1h0M652.6 341.1h0M611.4 363.7h0M607.4 354.4h0M675.3 378.4h0M672.9 376.6h0M637.3 363.2h0M650.8 351.1h0M671.5 334.9h0M634.3 351.6h0M633.0 353.0h0M635.9 350.4h0M632.9 350.2h0M630.0 343.5h0M626.6 345.7h0M617.4 338.9h0M615.9 342.4h0M616.3 342.5h0M613.8 342.8h0M613.5 343.1h0M617.7 343.9h0M622.5 384.8h0M624.2 323.3h0M637.8 348.3h0M632.3 344.2h0M625.4 345.9h0M616.1 315.9h0M618.4 369.5h0M623.8 351.8h0M673.4 372.2h0M608.6 373.1h0M605.8 375.7h0M611.4 371.3h0M609.2 367.3h0M627.8 330.5h0M652.7 380.8h0M639.1 367.1h0M637.2 362.1h0M638.5 360.7h0M638.4 359.9h0M643.6 361.8h0M646.1 361.0h0M645.9 364.4h0M652.3 346.5h0M653.8 345.5h0M657.3 346.0h0M657.1 342.1h0M655.5 345.8h0M657.6 345.1h0M659.5 347.1h0M659.6 344.7h0M658.2 342.3h0M660.5 341.7h0M661.5 340.9h0M661.1 339.4h0M663.2 337.5h0M663.9 343.3h0M660.3 340.7h0M659.6 345.4h0M665.0 347.5h0M664.4 349.6h0M662.2 345.5h0M654.7 361.6h0M659.4 358.4h0M658.4 379.1h0M627.1 375.1h0M631.0 359.3h0M668.9 374.8h0M649.5 347.3h0M669.8 341.0h0M604.2 316.2h0M640.1 317.6h0M638.7 388.8h0M614.9 360.6h0M675.2 348.2h0M649.1 315.6h0M633.5 378.8h0M622.7 347.0h0M636.8 359.3h0M659.7 349.6h0M636.6 361.4h0M649.5 361.1h0M653.2 358.6h0M618.1 352.9h0M663.0 361.3h0M647.8 371.4h0M633.6 387.8h0M653.4 346.0h0M665.6 356.5h0M625.4 379.9h0M676.9 380.9h0M623.4 365.7h0M607.9 339.2h0M628.4 368.9h0M606.7 325.9h0M657.1 360.9h0M653.3 325.0h0M667.2 351.4h0M652.1 341.4h0M670.5 360.6h0M666.5 358.7h0M623.6 367.1h0M611.8 366.9h0M661.5 367.6h0M659.8 365.2h0M661.9 352.8h0M625.5 372.7h0M644.4 379.0h0" stroke="#a88fbf" stroke-opacity="0.6" stroke-width="1" stroke-linecap="square" fill="none"/><path d="M661.8 330.2h0M667.7 319.5h0M659.1 340.7h0M616.5 340.3h0M632.1 350.0h0M663.1 381.6h0M644.0 320.3h0M636.7 365.5h0M610.2 381.1h0M633.9 371.0h0M631.9 321.1h0M619.5 381.6h0M612.2 383.9h0M615.8 372.1h0M627.5 326.3h0M665.7 329.5h0M650.5 346.0h0M645.9 316.9h0M634.9 364.2h0M626.8 320.1h0M655.5 360.9h0M654.3 360.8h0M657.8 358.4h0M658.4 354.6h0M650.8 351.7h0M647.4 352.6h0M649.4 351.3h0M652.6 354.8h0M651.2 353.3h0M651.8 350.1h0M650.0 348.9h0M651.2 350.2h0M666.4 323.7h0M669.7 330.5h0M616.1 343.7h0M614.9 344.5h0M625.3 378.2h0M653.2 318.4h0M653.4 321.3h0M654.1 316.4h0M656.2 315.9h0M662.8 316.9h0M630.9 345.6h0M629.2 344.2h0M629.4 339.0h0M626.8 342.7h0M623.8 347.1h0M621.7 346.3h0M622.3 349.4h0M623.1 342.5h0M624.6 347.2h0M628.6 348.1h0M632.3 349.3h0M633.9 352.7h0M648.5 381.5h0M605.8 317.4h0M607.1 317.4h0M607.2 317.5h0M606.4 316.2h0M605.7 320.3h0M605.2 320.8h0M604.2 321.3h0M605.6 324.6h0M604.6 321.9h0M616.5 319.8h0M614.4 316.8h0M615.1 315.4h0M610.2 321.0h0M622.2 355.7h0M662.5 335.7h0M666.2 387.6h0M607.1 331.9h0M612.0 332.3h0M677.8 365.3h0M674.3 366.2h0M609.9 367.8h0M605.9 337.4h0M641.3 357.2h0M664.2 345.9h0M630.7 369.3h0M635.0 371.7h0M653.8 362.5h0M657.1 377.6h0M632.6 381.5h0M678.1 350.5h0M636.9 350.7h0M606.1 388.9h0M624.9 320.4h0M633.7 384.0h0M672.9 369.8h0M614.6 314.6h0M657.3 321.8h0M613.1 368.7h0M640.5 373.8h0M636.6 347.6h0M637.5 387.3h0M661.9 368.2h0M645.8 356.8h0M621.7 318.7h0M609.1 345.6h0M671.0 345.6h0M631.7 349.7h0M608.9 334.3h0M672.3 344.5h0M627.6 383.4h0M653.8 353.6h0M628.9 386.1h0M651.1 342.6h0M630.2 354.2h0M637.1 325.1h0M672.7 330.8h0M669.0 336.9h0M632.0 350.9h0M674.8 354.5h0M655.5 385.4h0M626.9 354.7h0M638.4 387.5h0M676.7 322.6h0M677.5 357.5h0M663.8 353.6h0M610.4 315.6h0M644.3 322.2h0M674.6 361.4h0M616.5 385.2h0M657.5 325.9h0M620.9 346.0h0M660.4 338.4h0M664.8 331.8h0M679.5 324.7h0M635.5 345.8h0M614.2 376.7h0M641.8 345.6h0M666.8 376.2h0M657.7 348.8h0" stroke="#c0a070" stroke-opacity="0.6" stroke-width="1" stroke-linecap="square" fill="none"/><path d="M622.7 327.8h0M621.7 327.9h0M620.1 324.5h0M667.7 328.7h0M656.7 373.5h0M656.6 375.6h0M610.0 327.0h0M609.3 327.0h0M608.5 326.0h0M609.4 324.2h0M611.1 325.4h0M609.6 326.1h0M606.0 325.5h0M609.0 328.4h0M608.6 325.3h0M608.5 327.0h0M613.1 329.6h0M612.9 335.5h0M616.7 337.6h0M618.2 337.5h0M619.3 337.2h0M622.1 337.9h0M622.9 336.6h0M609.2 349.5h0M670.9 353.1h0M653.8 370.0h0M663.5 381.1h0M665.7 380.2h0M666.6 381.9h0M647.1 318.3h0M652.4 384.9h0M605.1 383.4h0M605.0 382.4h0M604.1 380.5h0M635.1 378.6h0M632.0 378.6h0M631.0 380.4h0M633.6 378.3h0M631.3 376.7h0M629.7 378.2h0M655.2 367.9h0M641.3 370.5h0M671.6 371.7h0M671.3 370.3h0M669.6 372.2h0M663.3 373.3h0M667.8 365.4h0M670.1 365.4h0M673.4 365.2h0M673.1 365.9h0M674.8 367.9h0M620.5 372.7h0M617.9 370.7h0M618.7 370.6h0M617.9 371.4h0M623.6 378.3h0M620.6 381.5h0M618.5 381.5h0M612.3 382.0h0M610.7 383.2h0M609.2 382.2h0M611.6 382.7h0M611.9 382.1h0M612.5 375.2h0M663.9 354.8h0M627.7 326.3h0M624.7 328.0h0M625.2 336.0h0M627.0 334.6h0M606.7 380.3h0M651.9 338.6h0M654.3 343.9h0M652.0 385.4h0M636.1 361.1h0M633.5 365.0h0M630.1 362.5h0M626.7 363.6h0M624.0 363.9h0M629.7 369.2h0M631.5 366.4h0M630.6 371.6h0M626.8 319.8h0M625.1 320.8h0M623.0 317.4h0M624.1 315.0h0M624.4 315.1h0M617.0 317.2h0M617.4 320.6h0M656.9 359.3h0M678.1 326.2h0M624.8 346.0h0M614.9 341.9h0M623.9 376.8h0M658.9 320.3h0M657.8 319.2h0M634.2 349.0h0M623.2 343.8h0M621.8 365.4h0M668.7 331.8h0M665.7 331.4h0M664.1 332.7h0M659.7 341.6h0M657.3 337.7h0M672.7 386.4h0M637.3 341.5h0M661.6 371.7h0M660.4 375.3h0M661.6 376.0h0M664.9 373.6h0M659.5 374.4h0M670.4 376.6h0M664.9 376.3h0M664.2 379.0h0M666.8 380.1h0M667.7 384.3h0M669.2 382.2h0M672.1 386.9h0M671.1 385.8h0M669.4 386.2h0M670.9 386.7h0M673.3 370.0h0M605.3 375.0h0M621.0 347.2h0M622.1 346.3h0M621.3 345.5h0M618.6 346.0h0M616.7 344.6h0M618.5 344.4h0M611.8 341.5h0M607.5 340.6h0M611.4 334.7h0M610.8 330.0h0M613.3 331.3h0M614.5 331.2h0M614.9 329.2h0M612.5 328.2h0M611.8 325.5h0M613.3 325.7h0M606.9 323.2h0M654.2 380.7h0M643.1 362.7h0M647.8 340.9h0M648.8 335.5h0M653.8 332.1h0M638.3 368.5h0M632.6 368.1h0M632.0 368.0h0M634.3 368.9h0M638.5 371.5h0M637.5 368.3h0M658.4 357.2h0M624.0 380.1h0M629.0 379.9h0M630.5 379.1h0M635.8 382.9h0M630.5 382.9h0M628.3 379.7h0M626.2 380.3h0M624.6 378.4h0M630.2 378.7h0M629.6 377.8h0M629.0 377.0h0M630.1 378.1h0M629.3 376.4h0M631.4 382.1h0M631.7 384.3h0M630.6 386.5h0M680.4 352.7h0M656.9 358.0h0M605.8 368.8h0M626.5 346.3h0M616.9 360.8h0M637.2 342.9h0M653.5 344.0h0M656.3 387.1h0M651.6 321.4h0M644.1 356.6h0M645.0 347.8h0M679.0 329.4h0M607.8 327.5h0M648.2 348.4h0M634.9 344.8h0M607.5 375.7h0M662.2 375.8h0M669.0 346.6h0M643.0 379.4h0M612.4 344.5h0M618.2 388.6h0M632.0 323.9h0M642.0 362.2h0M605.0 372.7h0M668.2 332.2h0M675.4 316.5h0M642.6 375.8h0M635.3 358.4h0M624.4 315.9h0M633.6 352.7h0M624.0 365.4h0M622.5 350.8h0M644.4 345.0h0M674.6 340.0h0M632.5 387.6h0M620.7 383.1h0M657.5 357.2h0M676.6 388.4h0M636.9 371.9h0M675.9 353.7h0M640.9 317.1h0M627.9 323.3h0M673.9 376.5h0M603.7 328.8h0M612.4 363.7h0M609.2 339.8h0M635.1 328.3h0" stroke="#78b0b0" stroke-opacity="0.6" stroke-width="1" stroke-linecap="square" fill="none"/><path d="M662.6 332.6h0M661.6 333.2h0M661.2 331.1h0M665.0 329.7h0M668.0 321.1h0M669.5 320.0h0M664.5 321.5h0M666.3 325.3h0M668.4 329.8h0M665.3 325.6h0M667.9 328.2h0M665.8 325.9h0M668.5 326.3h0M666.1 328.3h0M666.2 326.0h0M661.5 334.8h0M662.1 332.8h0M661.3 376.6h0M660.3 349.7h0M660.0 350.0h0M656.7 353.9h0M656.4 351.2h0M652.5 349.6h0M651.8 344.7h0M613.6 334.7h0M629.7 364.7h0M668.5 355.9h0M671.6 356.9h0M673.1 363.5h0M670.7 357.6h0M673.2 356.4h0M674.7 354.2h0M671.6 354.3h0M675.6 350.1h0M673.4 348.4h0M673.9 348.6h0M669.9 344.3h0M645.6 320.6h0M644.8 319.9h0M646.5 319.4h0M645.9 319.9h0M645.8 322.9h0M645.7 320.0h0M652.0 363.3h0M653.2 367.4h0M655.9 365.3h0M657.6 371.6h0M647.5 371.9h0M651.2 370.4h0M647.1 367.9h0M644.3 368.5h0M638.6 373.3h0M638.9 374.9h0M637.6 372.1h0M634.7 371.3h0M636.0 372.4h0M636.4 369.9h0M635.6 371.0h0M606.4 387.7h0M606.3 389.0h0M619.6 344.9h0M615.3 380.0h0M614.4 366.6h0M646.6 341.5h0M607.1 354.1h0M675.3 374.4h0M673.3 373.2h0M676.4 373.6h0M675.4 376.0h0M671.5 379.6h0M674.4 378.7h0M673.9 381.0h0M674.8 380.1h0M674.6 383.8h0M674.2 387.0h0M676.7 386.0h0M678.2 388.5h0M677.8 387.8h0M646.0 318.8h0M643.3 320.2h0M641.0 319.4h0M642.3 322.0h0M639.4 326.0h0M641.6 324.7h0M642.1 326.3h0M644.0 326.1h0M647.5 324.3h0M646.1 325.5h0M647.8 325.9h0M647.5 326.7h0M645.3 325.1h0M647.1 326.8h0M646.4 331.6h0M650.0 334.6h0M648.3 337.2h0M650.8 334.4h0M651.7 338.4h0M648.3 338.7h0M625.0 365.3h0M680.4 342.7h0M617.7 315.2h0M654.7 353.8h0M679.3 328.3h0M614.8 344.7h0M632.7 347.0h0M623.2 348.8h0M627.3 344.6h0M648.7 378.8h0M645.6 380.4h0M675.2 386.5h0M664.8 385.8h0M658.3 387.3h0M636.3 344.8h0M617.0 340.5h0M678.7 363.8h0M671.4 364.9h0M607.5 372.5h0M607.2 370.6h0M611.5 372.1h0M606.2 335.2h0M625.7 332.0h0M651.3 377.6h0M649.3 374.7h0M650.9 376.5h0M653.6 380.1h0M655.7 381.3h0M658.9 385.6h0M661.3 388.1h0M660.3 388.3h0M657.7 347.2h0M635.4 370.3h0M624.1 347.8h0M674.4 327.8h0M629.8 334.3h0M647.7 367.9h0M674.5 333.6h0M660.2 380.5h0M603.4 327.3h0M657.2 343.3h0M647.1 381.4h0M667.8 379.7h0M654.4 364.3h0M665.8 342.9h0M617.2 370.5h0M610.4 363.6h0M675.1 338.7h0M673.9 333.9h0M619.6 321.3h0M612.3 347.0h0M660.9 322.3h0M677.6 360.8h0M604.0 336.1h0M611.3 387.3h0M613.2 349.2h0M675.5 341.0h0M610.0 365.3h0M662.7 326.4h0M651.7 381.9h0M641.4 372.7h0M676.9 334.3h0M667.3 341.6h0M629.1 351.1h0M617.1 321.4h0M663.1 346.7h0M633.6 359.2h0M656.5 371.3h0M652.8 375.7h0M666.3 352.1h0M628.4 316.6h0M671.2 387.3h0M610.0 379.2h0M666.6 318.2h0M605.1 387.5h0M631.5 333.5h0M632.8 359.5h0M606.5 362.3h0M634.0 386.4h0M612.4 363.6h0M658.8 331.2h0M661.0 325.1h0M652.9 364.6h0" stroke="#9c84b0" stroke-opacity="0.6" stroke-width="1" stroke-linecap="square" fill="none"/><path d="M622.3 327.9h0M665.9 327.8h0M658.7 378.2h0M611.7 328.5h0M612.5 327.8h0M656.5 386.7h0M637.5 371.4h0M637.0 318.8h0M675.6 374.3h0M665.6 367.7h0M608.0 389.1h0M616.6 378.3h0M620.2 386.1h0M620.2 387.1h0M624.0 387.1h0M620.2 385.8h0M617.2 384.9h0M615.0 385.9h0M611.4 381.7h0M611.7 383.7h0M661.0 359.7h0M660.9 351.1h0M626.3 325.0h0M611.9 378.1h0M605.7 376.3h0M606.4 386.8h0M649.8 341.4h0M652.6 385.6h0M651.0 387.3h0M653.7 387.3h0M650.4 387.4h0M654.7 379.8h0M653.4 379.8h0M652.1 378.6h0M654.8 379.6h0M657.0 383.2h0M611.2 366.5h0M645.6 325.9h0M624.7 364.1h0M675.8 335.2h0M674.9 338.7h0M679.2 342.2h0M679.7 344.5h0M678.5 345.8h0M678.5 344.2h0M653.6 347.9h0M617.8 343.0h0M626.4 377.4h0M623.5 323.4h0M649.2 381.6h0M604.4 317.8h0M615.6 319.7h0M623.2 368.2h0M625.9 368.1h0M628.3 364.4h0M624.8 363.6h0M625.1 368.0h0M623.6 365.3h0M619.0 367.0h0M615.5 366.4h0M612.6 366.2h0M614.3 366.5h0M612.5 366.9h0M617.1 364.2h0M616.1 362.4h0M616.2 362.8h0M616.2 361.7h0M614.2 357.7h0M615.9 356.7h0M621.0 358.2h0M621.9 357.2h0M620.4 352.8h0M620.2 353.4h0M623.7 352.3h0M662.4 339.8h0M657.2 337.2h0M672.9 387.9h0M673.2 385.9h0M633.5 341.8h0M633.0 345.8h0M667.9 384.3h0M677.9 371.6h0M611.9 331.1h0M606.7 344.0h0M631.5 366.0h0M627.8 366.7h0M627.1 368.2h0M626.7 367.3h0M626.3 363.6h0M624.0 362.4h0M624.5 365.3h0M622.3 364.9h0M620.0 365.7h0M616.9 368.3h0M618.6 371.5h0M618.5 372.1h0M617.4 374.8h0M616.4 373.9h0M613.6 373.2h0M617.5 374.8h0M618.1 372.9h0M613.8 328.0h0M651.9 377.1h0M658.3 360.5h0M651.6 366.5h0M656.2 372.6h0M629.8 377.0h0M603.3 349.2h0M656.5 377.0h0M660.4 365.6h0M645.8 317.3h0M622.6 347.4h0M632.8 376.8h0M605.8 328.7h0M658.6 358.1h0M629.2 341.5h0M672.5 363.5h0M633.8 385.5h0M649.8 360.6h0M606.0 382.6h0M664.9 336.3h0M618.2 370.5h0M633.9 317.3h0M604.4 358.4h0M643.5 316.7h0M634.9 379.7h0M623.6 316.5h0M664.0 316.8h0M651.3 382.2h0M679.5 357.2h0M637.7 331.1h0M636.5 315.5h0M648.5 351.2h0M650.6 366.9h0M638.4 357.2h0M627.7 323.7h0M654.8 337.9h0M652.6 364.2h0M607.1 338.4h0M621.3 326.3h0M676.1 382.9h0M622.7 386.6h0M674.6 344.0h0M642.2 354.4h0M640.8 374.9h0M628.2 339.0h0M629.3 358.3h0M649.7 381.6h0M620.9 356.6h0M615.1 346.2h0M676.4 384.0h0M673.1 344.3h0M642.0 320.2h0M671.6 358.2h0M617.7 384.1h0M636.8 355.6h0M654.6 367.9h0M614.1 328.5h0M609.2 335.8h0M673.6 372.0h0" stroke="#b89080" stroke-opacity="0.6" stroke-width="1" stroke-linecap="square" fill="none"/><path d="M662.7 332.7h0M658.8 377.2h0M655.1 375.5h0M655.5 377.1h0M655.6 377.8h0M659.4 352.0h0M652.4 346.5h0M635.3 361.9h0M656.5 373.6h0M678.0 315.4h0M638.9 370.3h0M661.2 372.1h0M622.0 372.1h0M619.9 377.9h0M613.5 347.0h0M614.4 384.7h0M653.5 360.3h0M625.3 329.3h0M624.4 333.3h0M660.0 325.4h0M615.4 379.0h0M634.2 345.8h0M637.0 342.4h0M604.1 356.6h0M608.3 360.2h0M671.3 378.1h0M674.3 386.9h0M644.6 323.8h0M648.1 342.8h0M629.6 367.8h0M678.6 346.0h0M667.7 324.0h0M670.9 324.0h0M670.4 322.5h0M671.2 325.2h0M670.8 333.1h0M670.8 332.0h0M671.3 333.8h0M669.9 334.8h0M672.4 332.7h0M674.2 331.9h0M675.2 329.3h0M676.1 330.7h0M678.5 324.2h0M677.6 326.3h0M673.9 328.6h0M669.7 327.7h0M670.2 326.3h0M668.5 324.1h0M667.5 322.6h0M635.1 350.0h0M624.7 344.6h0M633.2 375.4h0M633.6 378.7h0M625.9 380.8h0M624.5 382.5h0M623.6 380.1h0M623.6 378.9h0M624.2 378.8h0M628.5 376.6h0M628.2 375.2h0M621.6 377.4h0M623.1 377.9h0M620.5 383.7h0M620.6 388.1h0M630.6 348.6h0M630.5 342.4h0M621.3 347.1h0M614.5 367.3h0M663.1 333.5h0M658.3 337.4h0M632.3 344.0h0M676.2 384.2h0M672.0 371.5h0M611.5 375.9h0M611.3 374.1h0M610.7 373.2h0M609.8 375.7h0M610.9 369.0h0M606.1 368.9h0M606.3 370.1h0M610.6 367.9h0M609.2 368.7h0M609.6 369.7h0M614.1 329.5h0M611.6 328.6h0M610.1 332.6h0M622.2 345.7h0M608.1 336.8h0M616.4 326.9h0M644.7 365.7h0M649.5 341.6h0M647.3 342.1h0M625.1 317.6h0M660.6 341.0h0M634.4 368.8h0M629.1 380.0h0M614.7 361.3h0M662.6 375.2h0M633.2 314.9h0M649.9 334.2h0M606.5 360.5h0M651.3 369.2h0M644.8 368.2h0M669.9 365.5h0M620.2 322.3h0M664.3 348.0h0M667.9 342.3h0M615.0 372.9h0M674.0 315.5h0M666.0 332.5h0M667.4 369.4h0M615.1 387.0h0M658.5 368.6h0M633.6 361.5h0M621.5 379.9h0M640.9 387.0h0M618.6 334.0h0M649.1 322.6h0M662.8 321.9h0M638.8 381.5h0M623.8 339.0h0M641.8 371.9h0M616.9 379.3h0M656.1 378.8h0M671.0 347.4h0M669.7 376.1h0M648.4 370.9h0M649.0 386.6h0M627.0 330.7h0M668.1 356.5h0M664.9 381.3h0M666.9 370.7h0M631.9 322.4h0M644.7 343.2h0M628.9 315.1h0" stroke="#8898c0" stroke-opacity="0.6" stroke-width="1" stroke-linecap="square" fill="none"/><path d="M663.3 332.5h0M642.6 384.9h0M646.6 387.4h0M671.6 357.8h0M647.0 319.6h0M632.3 376.3h0M650.5 372.1h0M638.4 373.7h0M638.1 322.0h0M636.4 322.3h0M635.6 321.2h0M635.7 318.2h0M634.6 315.2h0M632.8 316.9h0M631.7 323.2h0M615.3 380.8h0M615.9 350.7h0M660.8 359.7h0M615.7 321.4h0M616.8 319.9h0M670.2 329.2h0M642.0 341.2h0M653.0 384.6h0M657.1 382.0h0M678.1 343.5h0M617.3 316.7h0M622.2 323.5h0M625.9 346.9h0M609.8 319.7h0M615.5 363.3h0M658.1 336.9h0M673.7 380.6h0M671.9 382.7h0M666.9 380.0h0M669.9 384.9h0M671.0 387.8h0M673.6 388.1h0M673.1 385.2h0M671.7 382.9h0M667.2 381.2h0M661.1 383.9h0M657.3 387.7h0M660.7 386.1h0M631.0 348.9h0M677.5 365.3h0M677.3 366.3h0M675.5 364.7h0M676.2 366.3h0M676.4 363.9h0M677.6 363.9h0M678.6 362.6h0M679.1 363.9h0M675.6 367.3h0M673.9 369.2h0M673.7 371.1h0M669.7 368.5h0M673.2 363.7h0M669.2 360.4h0M669.6 363.8h0M669.2 362.5h0M671.1 359.5h0M669.3 356.6h0M670.2 356.2h0M603.3 374.2h0M606.3 338.7h0M625.9 363.3h0M624.4 364.1h0M635.2 337.3h0M620.4 344.7h0M646.6 338.6h0M624.4 315.4h0M654.1 358.1h0M630.7 377.2h0M652.8 343.6h0M647.4 363.0h0M639.0 343.5h0M661.1 326.4h0M614.9 317.7h0M647.2 324.5h0M651.6 352.2h0M652.3 336.7h0M645.9 321.8h0M638.7 337.9h0M671.7 379.4h0M618.8 318.2h0M642.6 359.9h0M624.6 389.0h0M658.5 380.2h0M617.0 352.0h0M653.9 334.6h0M617.1 348.4h0M608.1 376.8h0M630.6 325.4h0M612.3 383.9h0M675.2 336.1h0M613.5 378.5h0M646.8 383.1h0M607.1 336.0h0M670.3 363.1h0M652.1 336.1h0M645.5 387.7h0M603.9 346.3h0M622.0 355.4h0M656.4 317.6h0M620.0 359.9h0M619.2 339.0h0M651.0 350.6h0M637.0 317.1h0" stroke="#b8b078" stroke-opacity="0.6" stroke-width="1" stroke-linecap="square" fill="none"/><path d="M664.7 328.0h0M658.2 339.5h0M654.4 352.5h0M674.1 354.8h0M654.7 379.5h0M637.1 373.0h0M634.0 369.2h0M674.4 365.4h0M611.8 379.3h0M614.8 365.4h0M617.8 325.0h0M614.5 322.8h0M623.0 334.5h0M656.5 325.9h0M655.9 324.9h0M657.8 323.2h0M662.6 320.2h0M661.7 324.2h0M660.9 325.7h0M663.6 328.3h0M665.3 329.7h0M665.8 328.5h0M664.3 329.2h0M663.7 325.6h0M662.7 328.0h0M664.0 326.2h0M662.7 327.8h0M672.0 330.5h0M669.6 327.9h0M670.5 328.6h0M670.5 329.3h0M677.0 327.5h0M655.4 382.3h0M640.7 318.3h0M669.8 335.7h0M675.9 332.6h0M674.0 327.9h0M659.0 316.3h0M651.3 379.8h0M645.6 381.9h0M645.2 382.8h0M647.8 381.3h0M651.0 383.8h0M604.3 318.0h0M615.7 317.0h0M612.0 314.8h0M661.7 339.9h0M674.6 385.9h0M639.8 343.5h0M637.6 341.9h0M633.9 344.7h0M635.9 341.7h0M632.2 345.4h0M605.1 329.4h0M603.5 330.7h0M604.3 331.1h0M603.8 332.8h0M606.9 333.7h0M610.2 333.5h0M610.5 330.4h0M609.3 330.9h0M605.9 330.3h0M610.6 334.5h0M604.6 337.3h0M606.4 337.3h0M608.2 336.4h0M612.9 337.4h0M614.7 343.5h0M615.7 340.4h0M616.4 341.9h0M613.3 340.8h0M611.3 341.1h0M611.7 342.2h0M666.0 375.8h0M666.7 372.8h0M666.2 382.1h0M675.0 385.9h0M676.3 371.0h0M673.2 370.2h0M626.6 365.4h0M636.0 333.5h0M635.3 333.0h0M607.9 340.9h0M616.8 327.9h0M637.7 363.3h0M650.1 332.6h0M658.2 334.0h0M656.2 347.1h0M660.1 341.1h0M661.4 355.3h0M634.8 383.5h0M632.4 383.4h0M629.5 376.5h0M631.3 379.2h0M669.4 344.4h0M607.8 339.8h0M615.1 359.4h0M646.5 340.4h0M655.0 319.5h0M657.0 323.1h0M657.6 340.8h0M665.1 353.6h0M641.6 332.4h0M621.8 323.5h0M643.2 328.8h0M616.7 356.6h0M663.9 348.4h0M613.2 338.9h0M620.3 348.1h0M652.4 333.3h0M665.9 364.3h0M623.5 380.8h0M667.0 353.1h0M625.2 323.8h0M625.7 368.4h0M632.2 359.6h0M635.6 353.0h0M621.3 376.0h0M626.3 329.6h0M604.1 384.7h0M664.4 333.6h0M660.7 339.8h0M668.5 339.2h0M672.4 329.6h0M673.7 360.0h0M660.9 381.4h0M622.8 321.5h0M605.6 379.9h0M644.2 387.6h0M658.7 322.3h0M667.6 327.4h0M653.9 382.9h0M669.1 373.5h0" stroke="#c08890" stroke-opacity="0.6" stroke-width="1" stroke-linecap="square" fill="none"/><path d="M771.4 319.6h0M732.2 334.3h0M734.7 377.4h0M737.9 355.2h0M712.3 378.2h0M710.1 377.3h0M712.2 379.5h0M708.9 377.5h0M759.0 343.5h0M764.7 382.0h0M716.0 357.7h0M733.8 354.7h0M709.4 317.2h0M709.1 316.5h0M710.9 319.0h0M712.2 318.2h0M714.1 316.7h0M752.5 354.2h0M773.4 354.8h0M771.1 367.5h0M745.6 349.6h0M748.0 342.8h0M709.1 333.9h0M742.2 368.1h0M738.3 366.8h0M735.6 368.3h0M738.7 361.9h0M738.3 362.8h0M738.9 364.6h0M736.8 363.0h0M743.7 365.8h0M744.5 368.5h0M744.5 367.6h0M746.5 361.6h0M747.8 358.5h0M748.5 359.1h0M768.4 377.9h0M764.6 374.6h0M770.0 363.6h0M739.7 326.0h0M753.4 366.7h0M758.5 362.8h0M749.1 317.2h0M733.3 355.8h0M782.8 385.6h0M779.2 382.7h0M729.5 348.5h0M725.8 349.3h0M727.9 353.2h0M709.6 363.2h0M767.1 341.1h0M760.9 335.1h0M781.7 321.5h0M776.2 319.5h0M774.5 321.7h0M775.0 328.3h0M773.7 329.5h0M774.9 328.8h0M776.0 327.6h0M777.4 328.6h0M782.5 326.6h0M785.4 330.1h0M783.7 330.4h0M785.2 332.2h0M784.6 330.9h0M785.4 335.7h0M784.6 333.9h0M739.2 351.3h0M724.1 348.0h0M778.5 373.1h0M713.1 321.4h0M718.3 357.7h0M780.7 366.4h0M739.6 315.1h0M728.7 354.9h0M725.0 335.0h0M738.0 359.0h0M772.1 362.3h0M757.0 358.8h0M770.9 364.9h0M719.0 327.4h0M725.2 362.4h0M709.5 335.6h0M744.4 343.3h0M782.9 324.7h0M711.3 383.8h0M753.9 374.2h0M744.6 380.0h0M777.6 348.5h0M768.0 386.8h0M742.8 345.9h0M744.4 377.9h0M766.6 370.6h0M785.5 370.1h0M777.4 371.6h0M783.6 359.3h0M716.4 336.3h0M719.2 374.8h0M734.1 362.4h0M756.9 318.2h0M726.6 333.4h0M749.2 338.3h0M782.4 328.8h0M762.6 360.0h0M725.4 385.6h0M759.6 378.7h0M711.0 385.5h0M734.1 377.3h0M762.8 355.8h0M754.9 352.3h0M739.4 355.5h0M779.9 315.4h0" stroke="#b48a9c" stroke-opacity="0.6" stroke-width="1" stroke-linecap="square" fill="none"/><path d="M760.4 360.7h0M769.9 379.6h0M735.9 370.8h0M735.0 370.1h0M733.5 370.1h0M731.6 372.8h0M731.1 370.5h0M728.1 376.8h0M719.1 376.9h0M721.2 376.0h0M719.5 375.1h0M722.4 375.6h0M720.2 374.7h0M722.5 375.0h0M722.3 377.6h0M722.0 375.6h0M720.3 376.5h0M718.9 373.7h0M721.8 374.7h0M727.5 372.5h0M729.4 372.8h0M729.9 372.1h0M730.5 367.0h0M731.2 363.5h0M730.8 365.6h0M785.5 384.2h0M783.9 385.9h0M780.4 386.8h0M782.9 384.8h0M745.7 382.3h0M784.4 332.6h0M783.5 328.8h0M781.7 328.4h0M781.9 326.8h0M780.8 330.6h0M782.2 330.7h0M783.7 328.7h0M782.9 326.4h0M780.8 331.4h0M777.8 328.4h0M779.4 328.9h0M782.8 331.2h0M782.6 325.0h0M784.6 327.5h0M781.0 331.8h0M778.4 330.9h0M774.4 331.6h0M772.6 331.3h0M769.4 329.5h0M762.6 365.9h0M765.0 316.6h0M774.1 318.8h0M776.1 322.3h0M776.5 320.8h0M776.0 321.7h0M773.7 320.8h0M774.3 321.5h0M771.6 322.9h0M772.6 321.8h0M772.0 326.2h0M774.4 322.6h0M728.0 340.2h0M729.5 342.4h0M730.1 338.8h0M723.8 337.5h0M726.7 338.7h0M728.1 337.3h0M729.4 340.8h0M729.8 342.8h0M729.5 339.5h0M729.4 338.3h0M721.8 347.5h0M724.0 348.7h0M720.2 339.9h0M716.8 338.9h0M708.9 344.8h0M711.6 347.3h0M713.3 316.0h0M722.4 316.6h0M722.1 314.7h0M711.5 316.3h0M764.5 374.8h0M745.2 376.9h0M730.6 318.4h0M744.9 320.1h0M770.5 372.6h0M734.9 341.1h0M736.9 341.4h0M785.6 355.1h0M753.9 332.0h0M753.0 325.3h0M752.1 327.5h0M749.3 325.0h0M752.8 326.8h0M752.1 327.4h0M764.3 333.9h0M765.0 333.8h0M763.6 333.0h0M760.2 330.8h0M759.9 328.6h0M763.4 334.6h0M765.0 338.8h0M765.4 339.5h0M767.7 340.9h0M767.1 341.8h0M739.2 328.6h0M737.1 328.3h0M736.5 325.1h0M736.4 325.0h0M740.0 320.9h0M740.8 320.9h0M737.9 325.2h0M735.4 322.9h0M739.4 325.4h0M779.5 320.7h0M720.0 337.6h0M748.8 317.9h0M762.6 336.9h0M763.5 340.2h0M766.5 342.4h0M766.6 347.3h0M767.5 346.7h0M768.0 342.3h0M766.5 340.5h0M764.8 342.2h0M760.6 343.4h0M755.7 341.6h0M750.2 338.0h0M774.0 316.6h0M771.7 318.8h0M770.5 323.1h0M723.8 323.6h0M777.0 388.6h0M712.3 366.2h0M712.2 367.5h0M761.6 340.9h0M766.7 340.6h0M779.9 325.4h0M740.6 323.7h0M739.7 320.9h0M740.5 372.5h0M752.0 329.1h0M781.7 368.7h0M759.7 339.9h0M734.2 358.1h0M727.2 348.2h0M775.3 322.7h0M721.4 359.4h0M715.4 360.5h0M722.9 384.5h0M722.8 319.2h0M724.1 332.4h0M721.0 345.2h0M742.8 380.8h0M782.8 372.8h0M725.4 380.5h0M720.3 369.0h0M772.6 379.0h0M748.1 373.5h0M733.5 334.2h0M785.3 378.2h0M749.1 384.2h0M742.7 335.4h0M747.9 348.8h0M785.4 346.2h0M734.5 369.5h0M784.5 314.8h0M723.9 372.1h0M745.6 386.4h0M731.7 382.3h0M765.1 331.8h0M768.8 353.6h0M734.4 379.3h0M780.8 318.3h0M761.4 364.9h0M735.8 315.6h0M731.7 364.1h0M742.8 345.9h0M734.0 321.4h0M754.1 356.1h0M720.0 373.1h0M780.9 323.7h0M744.6 329.4h0M734.3 324.4h0M772.2 321.8h0M737.9 326.0h0M740.4 325.4h0M716.4 359.3h0M709.6 329.0h0M739.7 377.5h0M738.4 357.4h0M747.6 372.3h0M764.5 368.7h0M774.0 360.9h0M731.4 314.8h0" stroke="#8a9cc0" stroke-opacity="0.6" stroke-width="1" stroke-linecap="square" fill="none"/><path d="M764.0 356.5h0M731.2 374.4h0M719.6 375.7h0M783.3 329.8h0M731.2 381.4h0M735.4 380.2h0M735.5 381.1h0M732.6 357.1h0M759.9 381.3h0M710.7 380.2h0M756.4 338.2h0M757.8 376.1h0M727.1 334.9h0M726.8 344.7h0M712.1 344.3h0M712.7 334.7h0M712.4 318.7h0M757.4 350.1h0M751.9 347.3h0M763.6 349.6h0M747.8 348.8h0M748.8 350.0h0M746.6 347.9h0M743.7 345.5h0M746.1 348.7h0M743.7 345.0h0M743.0 345.9h0M742.3 348.2h0M746.0 342.9h0M747.1 344.4h0M745.4 340.4h0M745.8 339.0h0M743.3 337.7h0M731.6 366.1h0M725.1 372.8h0M722.0 362.7h0M741.4 323.2h0M747.9 317.2h0M742.9 318.4h0M737.8 323.0h0M736.6 338.3h0M740.8 335.0h0M750.2 326.1h0M752.1 328.3h0M753.4 325.5h0M740.8 325.8h0M779.1 317.8h0M778.6 324.1h0M756.0 368.6h0M741.4 321.8h0M753.0 331.1h0M741.2 339.6h0M741.8 337.5h0M741.1 341.3h0M741.6 341.6h0M735.6 343.3h0M739.6 338.5h0M743.2 328.8h0M780.5 325.9h0M716.7 366.4h0M709.0 362.1h0M711.4 361.3h0M711.3 362.4h0M758.5 340.1h0M764.5 336.4h0M767.6 338.4h0M734.6 323.9h0M748.0 373.0h0M769.1 338.9h0M712.6 364.8h0M727.4 347.1h0M755.9 323.0h0M761.7 319.8h0M773.3 354.9h0M724.0 373.0h0M745.0 321.2h0M765.1 370.9h0M733.1 320.5h0M778.7 337.8h0M784.6 357.8h0M760.7 329.5h0M779.2 367.8h0M780.1 372.3h0M748.2 374.0h0M779.3 382.1h0M739.9 388.6h0M714.0 327.5h0M730.9 378.7h0M758.3 362.4h0M785.1 373.6h0M774.4 352.6h0M755.5 338.4h0M755.2 353.0h0M783.2 354.5h0M741.0 317.3h0M740.1 384.9h0M713.1 358.5h0M761.2 358.1h0M718.3 323.2h0M708.5 373.9h0M717.5 322.0h0M723.5 379.0h0M747.2 366.0h0M763.8 348.1h0" stroke="#98b088" stroke-opacity="0.6" stroke-width="1" stroke-linecap="square" fill="none"/><path d="M769.6 330.8h0M780.5 329.7h0M751.5 388.7h0M731.7 381.3h0M731.1 381.2h0M727.1 383.9h0M724.6 387.6h0M728.9 384.6h0M729.6 381.2h0M733.4 378.7h0M734.9 379.5h0M736.1 377.7h0M735.9 382.5h0M734.3 385.2h0M708.7 363.9h0M708.6 356.1h0M708.5 355.2h0M729.9 358.4h0M763.2 385.0h0M758.0 373.9h0M757.5 379.0h0M732.2 349.0h0M732.1 343.9h0M720.9 345.5h0M729.7 355.9h0M723.3 325.5h0M729.3 341.1h0M712.1 336.9h0M749.5 352.5h0M750.2 351.5h0M769.0 365.8h0M768.0 375.2h0M766.2 374.6h0M768.2 374.8h0M766.2 378.3h0M766.8 374.0h0M764.3 376.5h0M765.3 375.1h0M764.2 372.1h0M765.7 366.2h0M768.1 364.7h0M770.6 364.3h0M746.7 344.1h0M740.2 359.1h0M727.1 377.5h0M708.5 338.7h0M736.8 319.1h0M740.4 368.1h0M765.9 376.6h0M738.1 341.9h0M771.6 368.8h0M763.6 337.5h0M749.3 317.6h0M760.8 316.9h0M747.9 363.5h0M771.5 315.0h0M770.6 321.9h0M776.0 328.6h0M774.3 327.3h0M777.0 333.2h0M779.2 330.0h0M781.4 328.1h0M777.6 326.7h0M779.3 330.2h0M779.0 326.6h0M782.6 326.4h0M748.0 332.2h0M727.2 323.4h0M778.2 381.2h0M719.0 348.6h0M718.5 353.2h0M718.7 352.6h0M718.7 352.8h0M722.3 354.2h0M724.6 352.8h0M729.1 348.8h0M730.6 351.6h0M726.5 353.5h0M728.8 348.5h0M729.5 347.0h0M732.3 346.0h0M725.2 347.6h0M724.1 351.3h0M722.5 351.8h0M723.0 353.6h0M723.5 354.1h0M722.7 352.2h0M720.0 349.0h0M717.1 345.9h0M779.2 328.0h0M740.2 322.4h0M735.3 321.9h0M740.1 327.7h0M734.7 327.0h0M739.9 323.7h0M743.9 324.0h0M726.0 319.0h0M780.6 375.5h0M740.1 374.9h0M759.2 383.8h0M717.7 324.9h0M737.9 362.0h0M761.8 357.6h0M752.7 327.0h0M737.0 341.1h0M750.5 324.9h0M751.1 353.3h0M715.4 326.7h0M773.1 330.5h0M718.2 383.5h0M759.3 358.7h0M725.9 363.9h0M775.7 360.2h0M731.4 366.0h0M751.0 366.5h0M733.4 346.3h0M731.7 375.5h0M725.6 333.8h0M745.1 365.2h0M761.8 351.3h0M755.3 321.0h0M748.9 331.8h0M767.2 347.7h0M708.8 354.4h0M782.1 355.6h0M712.1 338.8h0M748.9 378.2h0M775.0 334.0h0M759.0 318.4h0M717.0 386.3h0M756.4 371.9h0M731.7 371.5h0M785.0 345.9h0M744.7 369.3h0M711.7 355.3h0M757.6 360.2h0M781.8 349.4h0M765.9 382.0h0M758.2 319.5h0M718.8 386.5h0M763.3 375.9h0M716.2 377.0h0M766.6 364.6h0M723.8 333.1h0M772.9 356.1h0M714.3 330.9h0M778.0 361.9h0M769.5 342.7h0M780.0 362.2h0M759.5 386.7h0" stroke="#a88fbf" stroke-opacity="0.6" stroke-width="1" stroke-linecap="square" fill="none"/><path d="M768.3 326.9h0M731.9 342.4h0M719.8 376.7h0M753.4 389.1h0M771.3 328.7h0M745.5 385.9h0M744.5 345.2h0M743.0 350.3h0M744.8 352.2h0M738.8 355.1h0M741.5 355.3h0M741.1 356.6h0M741.4 356.7h0M714.7 352.7h0M712.2 352.7h0M768.6 386.2h0M722.8 355.5h0M727.7 341.0h0M723.9 343.9h0M721.9 342.5h0M723.4 343.5h0M721.2 344.8h0M722.2 347.7h0M724.4 348.4h0M736.8 353.4h0M739.4 354.9h0M724.9 375.6h0M723.3 375.3h0M723.0 376.3h0M721.6 376.9h0M720.7 377.2h0M719.7 385.0h0M723.8 329.5h0M722.2 344.3h0M747.8 350.4h0M750.6 351.4h0M750.7 352.0h0M750.8 353.5h0M754.5 348.4h0M756.2 348.9h0M757.9 350.9h0M756.9 351.1h0M755.5 355.1h0M749.7 355.1h0M753.0 349.5h0M771.0 355.7h0M765.6 355.8h0M746.3 343.3h0M737.3 363.1h0M720.5 369.9h0M752.9 379.8h0M752.9 379.9h0M732.0 327.1h0M770.5 381.8h0M735.6 335.3h0M765.5 366.0h0M780.6 326.8h0M713.5 336.9h0M754.7 328.8h0M756.0 333.8h0M752.3 329.2h0M754.4 330.5h0M753.1 330.8h0M752.4 328.3h0M757.1 320.5h0M762.6 316.0h0M762.5 316.4h0M736.4 341.0h0M747.0 365.4h0M772.3 383.1h0M769.8 323.2h0M753.6 326.8h0M755.0 328.7h0M726.7 354.0h0M780.0 323.3h0M783.3 332.8h0M739.1 336.0h0M771.0 384.9h0M760.1 374.9h0M743.0 351.4h0M770.3 374.3h0M722.6 365.5h0M778.5 346.1h0M722.5 322.8h0M781.0 329.4h0M770.0 360.4h0M749.8 327.3h0M772.0 377.8h0M724.1 350.3h0M721.5 365.5h0M748.8 324.1h0M733.4 386.3h0M720.6 343.3h0M763.0 349.5h0M729.6 378.0h0M737.9 347.3h0M762.4 366.4h0M781.2 365.0h0M761.5 319.3h0M712.7 335.3h0M764.8 319.7h0M730.6 388.8h0M728.9 315.6h0M745.6 380.7h0M756.8 379.7h0M765.3 379.1h0M717.8 330.2h0M768.9 376.6h0M724.0 341.5h0M784.3 323.0h0M744.4 337.9h0M751.8 320.4h0M749.0 354.1h0M782.8 374.1h0M747.2 320.2h0M719.1 318.1h0M731.8 359.8h0M752.0 326.2h0M753.4 388.0h0" stroke="#c0a070" stroke-opacity="0.6" stroke-width="1" stroke-linecap="square" fill="none"/><path d="M761.4 356.9h0M733.4 345.6h0M779.9 385.5h0M784.2 329.6h0M782.8 329.9h0M779.1 331.9h0M780.5 329.8h0M743.9 387.4h0M747.9 386.2h0M749.9 388.8h0M749.6 385.1h0M749.4 387.7h0M746.6 386.9h0M746.1 385.6h0M748.5 385.9h0M747.8 383.4h0M749.1 386.5h0M737.3 378.6h0M720.7 353.4h0M768.0 387.6h0M762.3 375.5h0M760.5 374.0h0M762.1 371.3h0M762.4 371.2h0M759.1 370.7h0M759.9 375.5h0M760.1 377.3h0M758.2 376.9h0M759.9 375.6h0M760.7 376.3h0M761.6 375.4h0M764.9 379.0h0M762.5 383.3h0M763.0 381.8h0M759.3 385.6h0M758.0 385.2h0M754.5 388.1h0M752.6 388.1h0M759.1 386.9h0M760.2 386.4h0M759.8 385.6h0M760.7 383.8h0M773.8 361.3h0M776.5 364.8h0M779.0 366.4h0M781.1 361.9h0M783.5 362.2h0M781.3 364.6h0M784.3 368.7h0M726.8 331.1h0M725.4 328.7h0M723.4 326.9h0M721.9 329.7h0M724.3 331.6h0M723.0 325.6h0M721.9 323.1h0M718.6 324.3h0M717.2 325.1h0M716.8 324.6h0M719.7 325.8h0M726.3 321.0h0M726.7 320.7h0M740.8 338.6h0M729.9 342.8h0M731.6 339.9h0M726.3 340.7h0M724.6 347.9h0M710.0 346.6h0M751.7 347.7h0M771.8 353.3h0M767.9 364.5h0M765.4 372.8h0M764.1 372.5h0M740.5 360.0h0M723.9 368.1h0M722.2 367.7h0M758.2 382.5h0M754.8 381.5h0M731.9 318.9h0M743.7 316.9h0M735.4 325.2h0M785.4 355.4h0M748.5 325.5h0M753.4 367.3h0M758.9 367.8h0M757.5 366.7h0M755.7 364.9h0M754.8 365.3h0M757.3 365.1h0M759.4 368.3h0M760.4 364.9h0M762.9 366.5h0M761.4 363.3h0M758.6 363.3h0M757.7 363.5h0M752.9 362.1h0M757.8 331.2h0M754.2 334.0h0M762.5 315.0h0M728.4 352.1h0M737.3 362.8h0M777.4 380.0h0M776.8 379.6h0M772.9 379.4h0M774.1 381.5h0M772.7 382.1h0M774.7 381.2h0M769.6 379.0h0M772.1 326.7h0M775.2 327.5h0M777.4 331.5h0M727.9 347.6h0M718.5 367.7h0M709.2 366.0h0M762.4 342.5h0M756.8 341.6h0M758.8 338.7h0M761.1 342.8h0M759.2 342.9h0M759.1 337.8h0M763.0 338.5h0M768.5 337.1h0M769.7 335.5h0M767.7 335.9h0M766.8 336.7h0M763.7 336.1h0M769.7 338.5h0M767.5 337.0h0M763.5 338.6h0M765.6 336.0h0M775.8 328.3h0M737.2 324.2h0M772.1 349.3h0M767.0 355.5h0M776.9 317.2h0M717.3 364.0h0M755.6 389.0h0M770.4 320.5h0M717.6 335.0h0M709.9 382.1h0M735.3 364.3h0M780.5 380.6h0M725.4 374.8h0M732.4 377.6h0M723.1 326.7h0M756.6 349.8h0M775.6 334.7h0M785.3 369.3h0M743.3 341.7h0M723.2 382.4h0M780.6 358.1h0M760.3 369.1h0M761.6 355.9h0M715.7 378.8h0M721.7 341.4h0M762.2 343.3h0M717.6 377.7h0M772.0 377.3h0M762.6 370.0h0M744.4 323.6h0M776.1 376.4h0M757.6 373.1h0M751.7 329.8h0M729.8 329.2h0M785.1 352.0h0M731.6 359.2h0M785.4 375.9h0M713.6 340.5h0M746.1 317.0h0M749.5 386.0h0M712.9 351.9h0M743.4 358.6h0M771.5 356.8h0M778.7 346.5h0" stroke="#78b0b0" stroke-opacity="0.6" stroke-width="1" stroke-linecap="square" fill="none"/><path d="M764.3 352.3h0M763.9 351.8h0M766.5 356.2h0M762.2 356.8h0M762.1 361.0h0M767.8 375.5h0M768.0 378.2h0M767.9 379.7h0M768.7 379.2h0M766.8 379.6h0M767.6 377.9h0M769.8 378.6h0M768.3 380.1h0M768.0 387.6h0M768.5 327.4h0M769.3 328.1h0M768.1 327.1h0M769.5 330.4h0M769.4 326.6h0M771.1 325.0h0M771.0 321.8h0M772.4 323.0h0M774.1 323.8h0M772.3 321.3h0M772.4 323.2h0M768.8 318.0h0M772.0 317.0h0M772.5 326.0h0M773.1 328.6h0M772.5 327.3h0M733.2 337.5h0M730.5 337.9h0M779.8 332.7h0M735.9 374.7h0M744.4 346.2h0M765.8 385.7h0M761.9 385.2h0M753.3 349.3h0M767.9 383.3h0M732.1 358.0h0M736.1 355.8h0M733.6 355.4h0M737.6 356.7h0M736.4 353.2h0M737.3 351.9h0M734.9 354.9h0M738.5 355.9h0M739.4 357.7h0M738.2 357.2h0M738.8 356.4h0M737.9 355.6h0M738.3 356.8h0M731.9 360.2h0M733.0 362.0h0M727.0 363.2h0M721.7 323.6h0M723.8 348.6h0M709.0 335.8h0M717.0 318.7h0M749.8 351.2h0M749.3 352.6h0M757.6 349.7h0M713.3 315.5h0M766.0 347.6h0M764.4 371.3h0M764.9 370.0h0M745.0 339.9h0M732.4 376.0h0M727.5 377.0h0M725.1 381.9h0M727.6 377.9h0M725.0 376.3h0M727.8 372.4h0M728.0 369.5h0M720.0 372.2h0M721.7 368.2h0M719.3 364.0h0M718.8 364.8h0M720.6 362.4h0M721.0 362.8h0M722.2 363.5h0M721.5 362.7h0M720.3 360.6h0M724.2 359.2h0M753.0 381.6h0M734.1 333.2h0M769.8 376.2h0M751.1 327.7h0M783.6 323.6h0M782.6 318.8h0M776.6 317.8h0M780.8 318.1h0M780.4 324.7h0M779.8 323.7h0M780.0 329.0h0M780.3 327.9h0M774.9 327.5h0M716.6 325.7h0M714.5 329.8h0M746.8 317.7h0M743.7 316.5h0M743.4 319.7h0M747.2 317.2h0M745.8 314.9h0M747.3 315.2h0M746.6 315.1h0M746.2 315.5h0M746.4 317.1h0M752.9 330.2h0M753.5 332.1h0M739.8 339.4h0M734.9 355.5h0M736.8 360.1h0M738.0 363.8h0M737.7 361.0h0M743.8 361.8h0M743.1 362.1h0M747.3 362.1h0M749.8 368.1h0M747.6 364.0h0M753.0 369.7h0M757.1 367.5h0M757.2 366.9h0M758.6 364.7h0M761.3 366.6h0M757.5 330.4h0M754.8 334.2h0M753.8 334.4h0M752.2 336.1h0M750.0 335.1h0M751.1 329.8h0M758.2 324.1h0M757.6 331.4h0M755.8 329.1h0M760.6 327.8h0M760.8 325.5h0M759.8 323.7h0M730.8 322.4h0M729.8 320.8h0M726.6 322.0h0M723.9 319.2h0M723.8 316.8h0M725.7 319.2h0M724.9 322.3h0M726.3 325.4h0M725.1 323.0h0M730.7 346.4h0M715.7 366.7h0M710.9 368.4h0M772.4 328.6h0M715.7 319.9h0M766.3 387.6h0M712.2 347.4h0M749.1 356.4h0M726.0 334.6h0M757.8 349.9h0M719.4 369.5h0M728.7 358.7h0M738.3 361.0h0M760.4 358.9h0M723.7 379.2h0M719.1 382.6h0M776.3 345.5h0M765.9 357.9h0M755.8 315.7h0M768.1 367.2h0M723.2 378.2h0M743.6 333.8h0M720.5 383.0h0M784.2 381.6h0M771.7 331.8h0M709.9 344.1h0M758.7 382.9h0M748.7 318.6h0M720.4 333.4h0M709.6 370.0h0M736.7 366.0h0M708.9 328.9h0M751.1 382.9h0M782.0 347.4h0M745.3 332.5h0M722.2 380.0h0M765.8 334.4h0M743.5 388.8h0M784.9 385.9h0M727.5 347.4h0M776.0 333.4h0M750.9 324.8h0M774.9 362.9h0M763.9 342.8h0M744.7 318.7h0M760.5 320.9h0M736.6 344.7h0M752.6 344.8h0" stroke="#9c84b0" stroke-opacity="0.6" stroke-width="1" stroke-linecap="square" fill="none"/><path d="M755.7 384.5h0M755.3 382.5h0M754.1 381.6h0M755.4 382.9h0M759.6 383.3h0M756.2 387.5h0M751.7 387.3h0M765.9 378.5h0M764.9 376.8h0M770.8 327.8h0M771.4 322.4h0M733.2 334.9h0M761.4 370.4h0M729.8 358.0h0M728.6 353.5h0M763.1 349.4h0M758.6 349.8h0M755.6 350.5h0M756.2 351.2h0M757.7 347.7h0M753.6 344.1h0M752.1 345.3h0M754.0 342.0h0M753.9 340.9h0M760.1 341.9h0M757.6 343.8h0M755.1 347.2h0M756.9 348.3h0M757.6 340.1h0M759.7 340.2h0M755.1 336.2h0M752.3 335.3h0M754.9 338.9h0M753.3 337.6h0M772.5 384.9h0M769.6 382.6h0M773.5 380.9h0M773.7 381.0h0M774.7 380.5h0M776.4 380.6h0M733.9 352.7h0M732.5 357.1h0M726.9 333.1h0M739.5 346.5h0M708.6 335.0h0M708.8 315.5h0M752.4 350.1h0M753.5 352.4h0M771.7 353.4h0M768.2 374.0h0M739.5 358.9h0M741.3 364.1h0M755.5 382.8h0M755.4 383.3h0M757.0 385.3h0M761.1 385.0h0M750.8 381.2h0M754.2 380.9h0M752.0 380.2h0M749.9 379.8h0M747.7 377.7h0M743.8 373.1h0M745.2 317.4h0M747.3 320.2h0M739.2 320.9h0M737.7 337.3h0M770.5 375.7h0M756.2 329.7h0M740.9 327.9h0M722.7 326.1h0M755.9 361.3h0M754.2 363.9h0M740.8 360.6h0M750.6 364.4h0M764.2 337.6h0M770.0 317.2h0M778.5 386.8h0M775.8 387.7h0M728.3 349.1h0M716.9 366.0h0M708.3 362.3h0M762.9 337.0h0M772.8 327.0h0M757.1 363.1h0M726.3 377.0h0M767.0 335.1h0M761.1 379.7h0M732.4 370.3h0M778.6 346.7h0M769.2 342.4h0M731.0 339.8h0M755.9 319.9h0M752.2 351.7h0M722.7 320.8h0M733.8 357.8h0M734.8 335.9h0M745.6 346.7h0M762.2 379.6h0M782.6 377.6h0M767.5 351.5h0M778.4 344.5h0M762.0 324.0h0M736.8 345.8h0M754.9 326.1h0M773.1 345.2h0M717.5 330.0h0M782.8 389.0h0M765.9 344.2h0M709.5 375.6h0M741.5 375.7h0M778.0 317.6h0M728.0 352.9h0M720.8 342.6h0M747.4 321.3h0M748.6 381.5h0M781.7 380.0h0M733.5 335.4h0M743.8 343.5h0M785.1 364.2h0M721.6 321.4h0M714.8 349.4h0M709.9 379.8h0M748.8 316.2h0M735.6 378.0h0M737.7 315.4h0M765.1 337.8h0M726.4 358.9h0M728.6 328.2h0M750.1 338.6h0M719.1 366.4h0M743.3 315.5h0M740.7 328.8h0" stroke="#b89080" stroke-opacity="0.6" stroke-width="1" stroke-linecap="square" fill="none"/><path d="M771.1 319.4h0M742.2 379.7h0M747.1 381.5h0M746.6 383.4h0M748.9 387.3h0M749.5 387.3h0M751.8 385.9h0M751.8 384.1h0M743.1 349.0h0M728.6 354.5h0M764.4 386.1h0M709.2 378.3h0M758.2 339.2h0M758.0 383.2h0M729.3 358.2h0M728.3 362.3h0M722.6 363.5h0M724.2 344.3h0M722.4 377.3h0M716.4 340.7h0M750.3 350.7h0M756.6 353.1h0M764.6 378.5h0M733.6 316.6h0M736.5 320.8h0M737.9 362.2h0M743.9 337.2h0M742.1 336.4h0M742.4 334.8h0M742.6 339.9h0M742.0 339.8h0M735.9 345.1h0M734.6 342.2h0M734.2 338.7h0M739.3 345.1h0M733.2 343.5h0M733.4 341.2h0M734.8 339.6h0M735.8 341.2h0M736.4 341.7h0M736.9 342.5h0M735.2 342.3h0M784.2 353.0h0M757.8 329.7h0M761.9 334.0h0M736.5 326.5h0M779.3 325.4h0M717.1 324.1h0M726.8 340.5h0M724.4 339.7h0M756.1 362.2h0M752.2 363.8h0M750.6 317.3h0M752.6 331.6h0M742.1 336.7h0M729.4 354.5h0M760.4 366.9h0M762.2 344.7h0M756.1 331.5h0M779.5 385.1h0M776.9 387.6h0M776.4 385.2h0M777.1 384.7h0M780.1 384.0h0M779.8 383.6h0M781.9 383.8h0M781.5 383.6h0M778.0 381.3h0M735.6 322.9h0M758.7 344.5h0M725.1 328.5h0M773.8 360.5h0M781.0 343.1h0M781.0 354.1h0M713.4 330.5h0M744.7 371.8h0M717.5 316.0h0M708.9 372.4h0M747.6 327.8h0M748.6 317.7h0M744.3 378.4h0M713.7 323.8h0M777.6 326.1h0M764.7 322.4h0M736.1 376.4h0M744.5 380.7h0M744.4 320.8h0M732.5 384.2h0M752.4 360.2h0M756.7 367.1h0M711.0 341.7h0M716.4 331.4h0M769.9 376.6h0M780.3 379.5h0M784.7 319.0h0M768.9 380.9h0M742.1 341.5h0M783.2 333.2h0M735.4 341.3h0M739.5 364.9h0M715.1 368.8h0M776.1 323.0h0M718.5 350.5h0M718.0 346.7h0M764.5 320.7h0M740.2 377.8h0M726.4 345.6h0M710.8 359.5h0M763.7 335.4h0M730.3 344.3h0M716.2 326.8h0" stroke="#8898c0" stroke-opacity="0.6" stroke-width="1" stroke-linecap="square" fill="none"/><path d="M761.2 355.6h0M736.4 348.2h0M733.9 351.1h0M735.2 349.0h0M733.8 349.5h0M731.9 347.7h0M729.5 345.0h0M732.0 346.2h0M732.7 344.8h0M733.8 338.1h0M732.1 336.4h0M731.5 336.4h0M730.5 334.4h0M734.5 336.0h0M733.7 337.7h0M730.2 336.5h0M731.2 339.7h0M722.6 374.7h0M780.5 330.1h0M765.2 330.6h0M749.5 384.7h0M724.6 388.8h0M729.6 383.7h0M740.3 353.5h0M729.0 360.6h0M728.3 356.7h0M729.3 352.4h0M728.5 355.1h0M729.6 355.1h0M729.4 355.5h0M731.0 357.0h0M730.9 354.1h0M725.1 355.3h0M722.8 356.2h0M722.2 355.0h0M716.9 354.3h0M717.4 353.3h0M715.7 354.1h0M709.8 351.8h0M768.6 387.6h0M766.0 385.7h0M713.1 378.4h0M756.9 346.9h0M759.9 344.3h0M757.9 346.9h0M774.5 378.8h0M763.3 388.5h0M716.3 355.4h0M717.2 358.2h0M719.9 358.0h0M719.5 355.8h0M717.9 357.1h0M719.5 355.9h0M720.4 355.4h0M726.6 355.4h0M728.5 354.8h0M727.9 351.0h0M730.5 350.6h0M728.7 352.6h0M736.1 352.3h0M727.8 364.7h0M724.1 360.8h0M720.0 366.4h0M735.8 355.7h0M732.2 362.0h0M729.1 362.3h0M779.5 365.7h0M781.5 360.1h0M719.8 384.5h0M720.1 385.2h0M723.0 321.0h0M735.7 338.9h0M738.2 339.1h0M734.4 336.3h0M737.7 338.0h0M739.6 339.3h0M738.2 338.9h0M741.3 341.9h0M738.2 345.4h0M737.3 345.6h0M739.8 347.4h0M720.7 343.4h0M711.0 320.2h0M758.5 349.5h0M726.0 315.6h0M772.8 353.5h0M723.3 360.6h0M731.1 316.5h0M731.6 326.0h0M732.8 326.4h0M732.9 324.0h0M732.3 326.2h0M732.2 323.4h0M729.4 319.8h0M728.2 318.2h0M733.7 317.9h0M738.2 323.8h0M744.4 320.0h0M742.8 320.3h0M742.2 318.6h0M740.9 315.5h0M747.9 319.4h0M735.8 321.2h0M738.1 362.3h0M771.2 377.2h0M735.9 340.3h0M765.5 330.2h0M778.6 318.0h0M718.5 325.3h0M711.6 337.3h0M749.1 318.4h0M756.3 329.1h0M751.5 328.8h0M733.4 352.5h0M748.1 326.0h0M778.8 388.6h0M719.1 345.7h0M709.8 366.5h0M766.9 338.6h0M780.6 329.5h0M781.7 330.0h0M781.1 336.6h0M784.1 370.2h0M753.0 325.8h0M750.0 349.7h0M713.3 352.0h0M764.1 376.3h0M731.7 342.4h0M773.5 387.4h0M709.8 379.0h0M777.3 333.1h0M763.9 315.0h0M744.1 384.6h0M722.1 387.3h0M759.0 351.8h0M721.0 387.6h0M742.2 338.9h0M755.9 358.0h0M719.7 356.6h0M771.7 321.5h0M773.2 361.0h0M771.1 366.8h0M764.9 362.0h0M755.5 361.4h0M716.1 350.7h0M753.4 371.7h0M719.0 329.1h0M764.7 335.0h0M784.9 326.4h0M716.6 331.6h0M756.8 347.3h0M738.7 376.1h0M783.5 335.0h0M724.8 368.5h0M767.3 387.6h0M713.1 342.5h0M781.3 361.4h0M764.9 345.9h0M719.2 361.9h0M772.3 376.5h0M745.6 378.7h0M740.8 320.7h0M724.4 382.7h0M768.0 346.0h0M708.9 361.2h0M712.6 376.0h0" stroke="#b8b078" stroke-opacity="0.6" stroke-width="1" stroke-linecap="square" fill="none"/><path d="M766.6 354.5h0M757.4 384.6h0M767.9 377.4h0M767.9 376.1h0M765.3 385.6h0M732.4 339.4h0M724.8 373.0h0M758.5 369.8h0M756.1 370.6h0M761.0 368.9h0M764.4 368.3h0M767.4 366.2h0M768.2 361.7h0M768.2 364.9h0M765.9 362.9h0M766.7 359.6h0M764.9 356.4h0M763.3 354.6h0M764.6 356.3h0M762.1 355.3h0M757.9 355.0h0M757.8 356.3h0M747.2 387.8h0M774.3 317.3h0M772.3 322.6h0M732.8 381.7h0M712.3 378.9h0M773.0 384.2h0M772.0 381.6h0M725.3 364.3h0M721.0 365.6h0M740.6 358.7h0M726.3 361.9h0M721.7 325.2h0M730.6 323.0h0M708.8 332.7h0M710.1 334.9h0M711.4 333.9h0M711.6 335.4h0M710.7 339.8h0M715.1 315.2h0M770.7 354.2h0M771.8 353.6h0M773.4 353.0h0M772.5 354.0h0M770.3 352.0h0M768.3 355.7h0M768.8 356.6h0M772.9 354.5h0M770.9 355.2h0M770.5 354.4h0M764.7 353.7h0M761.3 351.8h0M761.7 349.1h0M766.9 346.4h0M766.8 347.1h0M763.5 349.0h0M766.1 352.3h0M763.4 354.3h0M767.4 357.4h0M763.9 355.8h0M761.9 356.2h0M768.5 372.5h0M765.2 366.9h0M736.6 358.4h0M738.6 358.3h0M738.6 360.0h0M738.3 360.1h0M740.1 361.2h0M741.2 361.2h0M737.2 362.6h0M733.4 361.5h0M730.5 364.7h0M731.5 322.7h0M731.7 321.8h0M736.5 321.0h0M741.2 319.7h0M736.0 320.0h0M738.2 319.6h0M732.2 327.6h0M732.9 332.0h0M734.5 336.2h0M769.5 377.1h0M768.8 377.4h0M772.6 376.8h0M770.8 379.4h0M770.7 373.6h0M769.4 373.7h0M766.3 374.4h0M764.9 375.4h0M762.0 378.4h0M761.7 376.3h0M767.5 380.0h0M736.7 340.2h0M773.7 363.6h0M773.5 362.3h0M769.6 364.1h0M767.0 367.3h0M776.2 370.5h0M772.9 369.0h0M770.5 365.8h0M770.2 366.2h0M767.7 360.9h0M769.9 359.6h0M752.9 325.0h0M760.7 331.4h0M738.8 324.2h0M738.5 323.5h0M781.6 324.7h0M721.7 323.3h0M722.5 327.6h0M719.0 327.5h0M720.6 327.1h0M716.6 336.1h0M717.2 337.1h0M719.6 338.9h0M721.6 336.2h0M722.6 337.3h0M723.4 338.6h0M725.5 340.1h0M724.7 339.5h0M726.2 340.9h0M725.0 342.4h0M728.0 338.5h0M728.4 340.1h0M723.2 343.6h0M719.3 344.5h0M716.0 342.0h0M712.6 339.3h0M752.8 328.2h0M755.8 322.2h0M739.1 330.9h0M751.7 368.1h0M759.5 342.3h0M753.0 337.4h0M779.2 330.0h0M782.6 332.7h0M734.3 378.4h0M722.3 358.8h0M770.2 351.9h0M717.3 389.0h0M745.1 361.7h0M750.2 359.9h0M714.4 365.2h0M730.1 315.0h0M778.0 387.8h0M745.6 382.8h0M772.9 358.8h0M770.3 339.0h0M756.4 340.7h0M718.8 332.9h0M739.1 387.3h0M718.9 367.5h0M725.5 357.4h0M731.4 369.7h0M721.5 315.7h0M730.0 329.6h0M716.4 325.5h0M765.7 330.3h0M744.2 315.7h0M782.3 376.9h0M771.9 333.9h0M778.4 337.9h0M781.2 344.1h0M766.8 358.9h0M713.7 381.8h0M715.3 342.6h0M781.9 345.1h0M720.1 369.7h0M708.6 325.7h0M730.1 360.9h0M711.0 329.3h0M712.2 379.9h0M773.7 359.9h0M736.0 339.9h0M719.4 338.1h0M749.9 359.7h0M719.0 379.8h0M730.0 333.7h0M770.9 333.4h0M776.1 376.0h0" stroke="#c08890" stroke-opacity="0.6" stroke-width="1" stroke-linecap="square" fill="none"/><path d="M824.7 339.0h0M822.4 338.5h0M823.5 338.9h0M822.1 341.2h0M821.4 345.9h0M822.7 341.9h0M823.9 342.5h0M823.4 343.8h0M890.7 354.3h0M886.3 354.1h0M853.6 324.3h0M854.2 317.0h0M831.8 374.5h0M822.6 379.6h0M855.9 316.0h0M871.7 330.6h0M871.6 331.8h0M870.4 333.0h0M822.2 345.0h0M853.0 345.3h0M854.8 374.0h0M859.7 360.9h0M817.5 364.7h0M819.9 368.4h0M856.0 324.1h0M847.3 320.7h0M861.1 380.3h0M864.2 386.3h0M866.2 340.5h0M824.1 328.0h0M820.4 345.6h0M854.8 383.4h0M833.9 359.1h0M846.2 348.3h0M822.3 381.1h0M825.2 383.1h0M823.9 381.4h0M822.6 379.1h0M816.4 377.5h0M814.6 373.6h0M817.6 375.0h0M818.9 376.6h0M821.6 377.0h0M816.9 374.4h0M819.2 375.0h0M819.2 375.0h0M816.3 379.8h0M828.7 352.5h0M872.1 381.7h0M869.9 382.1h0M872.0 379.0h0M870.6 379.2h0M871.0 376.9h0M873.5 373.1h0M876.3 378.7h0M875.1 381.0h0M851.6 373.6h0M848.0 374.5h0M844.6 375.7h0M844.6 373.7h0M844.2 369.7h0M844.2 370.9h0M838.3 373.2h0M838.4 372.0h0M844.4 367.6h0M845.5 368.0h0M844.5 366.9h0M845.9 369.6h0M844.7 372.2h0M843.8 371.7h0M816.7 350.5h0M833.4 319.3h0M858.9 344.2h0M861.0 348.0h0M872.0 351.0h0M871.8 350.3h0M869.2 352.4h0M865.2 331.9h0M874.1 339.0h0M872.4 341.7h0M822.1 377.7h0M820.6 380.2h0M825.5 379.8h0M828.8 377.3h0M828.8 375.2h0M833.7 373.9h0M835.7 373.2h0M837.1 373.6h0M834.0 374.3h0M834.1 373.1h0M832.3 373.0h0M832.4 374.5h0M829.9 375.2h0M830.9 377.7h0M830.5 374.6h0M833.6 374.1h0M833.4 375.6h0M828.2 373.9h0M875.7 347.3h0M876.4 338.8h0M866.8 317.4h0M849.3 357.4h0M883.1 372.5h0M879.8 374.8h0M882.7 357.6h0M883.5 361.0h0M884.2 343.3h0M830.1 341.0h0M832.5 343.8h0M835.9 343.7h0M837.3 339.9h0M836.8 344.6h0M838.7 345.0h0M836.9 341.2h0M836.2 343.9h0M837.9 343.9h0M835.2 348.9h0M847.7 369.0h0M837.0 383.8h0M869.5 388.8h0M867.5 356.9h0M869.1 339.1h0M875.0 363.4h0M869.1 344.2h0M885.3 341.2h0M825.4 353.4h0M820.5 356.8h0M858.5 319.5h0M845.1 376.5h0M886.4 364.4h0M867.0 388.1h0M849.6 348.3h0M814.1 329.5h0M867.9 355.7h0M855.2 322.3h0M864.7 387.0h0M818.2 323.4h0M858.9 330.5h0M839.3 365.9h0M849.1 350.0h0M882.0 381.6h0M883.7 372.8h0M864.5 332.1h0M841.1 387.6h0M867.8 388.7h0M822.0 331.8h0M840.2 375.7h0M846.1 320.6h0M859.7 333.9h0M872.8 348.7h0M858.2 336.4h0M864.5 317.2h0M887.5 373.7h0M840.2 361.4h0" stroke="#b48a9c" stroke-opacity="0.6" stroke-width="1" stroke-linecap="square" fill="none"/><path d="M815.3 329.1h0M847.9 319.2h0M851.9 323.4h0M862.3 360.4h0M873.5 353.4h0M877.9 345.8h0M853.4 337.4h0M856.3 380.9h0M855.3 380.1h0M858.8 380.4h0M858.6 381.0h0M858.3 377.4h0M860.6 383.0h0M865.9 387.5h0M869.0 388.8h0M869.1 385.0h0M868.0 383.4h0M869.5 386.4h0M870.2 388.6h0M818.8 345.8h0M856.7 386.1h0M858.6 386.7h0M865.6 388.0h0M866.7 386.4h0M863.2 387.4h0M816.6 353.9h0M873.6 380.0h0M818.5 337.2h0M815.1 345.8h0M816.5 347.7h0M818.2 350.6h0M814.2 348.8h0M834.4 321.4h0M870.9 351.1h0M869.0 334.7h0M830.3 363.6h0M889.0 316.2h0M884.3 316.8h0M871.1 346.4h0M852.1 328.7h0M851.0 325.7h0M848.9 323.1h0M848.7 324.0h0M851.0 322.1h0M846.0 324.8h0M849.6 325.7h0M842.2 325.9h0M841.3 327.5h0M840.7 326.0h0M838.2 328.4h0M826.8 384.6h0M867.6 353.5h0M880.3 360.4h0M866.6 371.6h0M877.9 338.2h0M820.7 322.6h0M877.8 367.5h0M815.4 374.8h0M817.4 347.7h0M877.8 337.1h0M886.1 365.9h0M818.1 384.0h0M878.9 372.0h0M857.8 333.3h0M839.0 346.7h0M882.0 381.1h0M856.5 321.8h0M831.6 381.4h0M864.3 322.1h0M878.4 316.2h0M887.7 353.2h0M852.0 335.9h0M865.5 369.4h0M843.6 351.8h0M856.8 346.7h0M846.3 325.6h0M857.0 361.4h0M827.7 361.6h0M867.5 330.5h0M869.1 340.2h0M815.3 338.9h0M836.8 354.0h0M830.8 350.1h0M863.2 369.0h0M822.4 315.5h0M856.0 367.1h0M822.5 365.9h0M815.1 369.4h0M823.8 325.8h0M846.0 348.2h0M888.6 363.4h0M843.0 367.3h0M856.6 326.2h0M846.8 349.3h0M822.9 356.4h0M827.3 321.0h0M884.8 353.4h0M889.1 362.3h0" stroke="#8a9cc0" stroke-opacity="0.6" stroke-width="1" stroke-linecap="square" fill="none"/><path d="M825.7 328.8h0M856.4 322.8h0M821.0 383.1h0M850.3 324.6h0M851.8 315.8h0M839.6 352.7h0M862.7 355.4h0M859.1 357.1h0M860.0 361.0h0M860.6 360.6h0M861.8 361.5h0M861.2 362.9h0M859.6 365.4h0M860.2 363.6h0M859.4 362.5h0M861.6 369.1h0M858.3 366.6h0M854.5 369.5h0M852.8 369.7h0M854.4 370.8h0M850.1 370.1h0M848.7 373.2h0M850.2 375.0h0M848.8 369.8h0M843.1 359.6h0M857.3 353.1h0M834.8 387.8h0M815.2 367.3h0M815.4 366.2h0M819.8 366.3h0M820.2 366.5h0M820.5 362.2h0M820.7 363.5h0M823.9 358.4h0M822.5 361.2h0M825.0 361.0h0M816.6 365.1h0M821.6 359.1h0M821.7 360.5h0M820.5 358.6h0M819.7 357.7h0M818.7 358.0h0M819.6 361.2h0M855.8 371.9h0M861.9 361.0h0M876.2 334.9h0M877.5 333.4h0M875.8 334.0h0M876.9 337.5h0M878.5 338.0h0M878.0 336.1h0M879.1 333.6h0M875.8 332.9h0M875.6 331.2h0M876.7 330.5h0M869.6 334.5h0M873.0 334.9h0M872.4 333.7h0M868.5 334.8h0M868.7 335.7h0M831.5 314.7h0M833.6 318.3h0M833.6 318.5h0M831.8 316.1h0M834.1 316.5h0M832.1 319.7h0M835.0 319.2h0M837.6 318.2h0M837.9 318.4h0M836.7 319.0h0M835.8 326.7h0M834.9 325.3h0M833.3 326.1h0M835.4 328.5h0M837.1 326.5h0M839.9 319.4h0M846.3 321.1h0M858.8 381.4h0M870.6 386.7h0M822.6 342.8h0M820.0 343.7h0M833.3 359.0h0M845.6 381.3h0M849.3 325.5h0M845.8 351.1h0M818.0 376.3h0M821.5 354.7h0M816.5 351.6h0M838.5 326.1h0M839.3 317.9h0M825.7 374.9h0M890.6 333.3h0M863.1 346.0h0M864.7 334.9h0M869.3 337.3h0M823.0 378.3h0M832.9 374.3h0M880.9 340.8h0M863.4 320.7h0M861.8 320.9h0M864.6 320.5h0M869.6 317.3h0M866.1 320.3h0M866.2 321.0h0M861.9 319.3h0M860.5 316.2h0M828.0 381.1h0M826.4 383.1h0M828.8 381.9h0M828.6 383.0h0M827.6 383.6h0M823.3 382.6h0M823.8 382.1h0M822.3 378.2h0M817.2 382.1h0M852.2 357.8h0M856.3 358.5h0M852.3 359.4h0M849.4 356.9h0M847.9 352.4h0M845.3 349.9h0M864.1 358.0h0M880.7 370.7h0M879.1 339.1h0M877.7 343.2h0M874.7 337.5h0M879.2 335.9h0M880.4 336.6h0M880.6 334.3h0M879.6 336.3h0M879.0 340.7h0M875.2 336.8h0M878.4 333.4h0M880.6 332.6h0M879.9 332.9h0M885.0 338.8h0M885.2 340.5h0M886.5 344.0h0M886.8 343.3h0M882.5 343.7h0M881.6 343.7h0M834.7 359.4h0M884.1 332.1h0M816.6 386.0h0M890.9 364.1h0M857.2 386.6h0M869.3 342.2h0M819.5 355.4h0M889.1 330.4h0M822.5 366.1h0M881.7 381.9h0M884.0 339.2h0M861.3 362.8h0M833.8 356.3h0M833.4 387.8h0M881.8 321.6h0M837.0 325.1h0M879.6 373.3h0M841.9 327.0h0M820.8 325.9h0M868.6 359.7h0M828.2 348.4h0M823.9 388.4h0M820.5 367.1h0M875.8 358.0h0M833.0 354.3h0M837.9 335.8h0M852.3 342.1h0M853.3 368.7h0M846.2 379.2h0M874.2 385.3h0M887.6 315.5h0M826.4 338.1h0M859.8 341.3h0M859.7 361.3h0M868.3 339.2h0M850.9 355.4h0M848.7 348.0h0M880.8 332.3h0M832.0 320.5h0M858.5 353.9h0M871.8 367.1h0M832.9 358.5h0M874.7 367.0h0M853.7 370.9h0M862.8 365.5h0M862.6 354.7h0M849.9 383.5h0" stroke="#98b088" stroke-opacity="0.6" stroke-width="1" stroke-linecap="square" fill="none"/><path d="M890.9 349.2h0M861.9 337.1h0M859.7 337.1h0M863.0 336.1h0M863.9 337.6h0M863.6 334.7h0M862.5 335.8h0M862.8 336.5h0M864.4 334.2h0M862.5 338.7h0M863.9 340.8h0M863.1 341.0h0M861.0 342.7h0M860.6 341.0h0M860.1 347.8h0M866.3 357.5h0M857.1 322.6h0M824.5 381.5h0M822.1 382.4h0M838.0 345.5h0M859.3 366.2h0M817.9 341.6h0M817.6 344.8h0M818.7 344.8h0M821.5 345.1h0M820.6 345.6h0M819.7 348.5h0M814.9 347.5h0M814.8 346.1h0M819.6 341.2h0M819.3 339.8h0M818.7 341.9h0M815.8 341.9h0M822.5 362.4h0M818.7 360.7h0M824.2 362.6h0M853.0 375.3h0M887.0 337.4h0M885.4 338.1h0M883.3 336.0h0M886.1 330.6h0M885.9 332.3h0M886.8 333.6h0M886.5 332.8h0M890.0 332.9h0M872.2 333.6h0M852.3 327.7h0M861.6 323.3h0M846.1 316.3h0M864.9 332.2h0M863.8 333.9h0M857.7 345.6h0M882.8 370.6h0M822.3 339.0h0M823.6 349.8h0M860.2 385.6h0M847.7 329.5h0M850.0 330.4h0M850.8 331.2h0M843.9 358.6h0M855.1 374.2h0M854.5 376.9h0M853.7 317.9h0M852.1 335.7h0M843.0 354.3h0M818.7 381.4h0M820.8 354.9h0M819.3 389.0h0M853.6 340.5h0M853.4 344.6h0M873.2 339.5h0M868.4 351.0h0M830.1 375.7h0M827.3 356.3h0M829.1 356.2h0M827.8 355.1h0M828.3 352.5h0M826.5 354.1h0M829.7 363.4h0M828.6 363.6h0M828.7 363.8h0M828.8 360.0h0M831.1 361.9h0M832.5 362.6h0M832.6 361.7h0M831.7 363.2h0M823.6 363.8h0M824.9 364.8h0M822.2 366.5h0M822.2 366.6h0M821.1 366.5h0M882.6 314.9h0M866.9 327.9h0M877.8 337.4h0M877.5 332.4h0M874.9 339.1h0M875.9 334.9h0M821.7 383.4h0M849.1 357.6h0M881.5 358.4h0M879.5 358.7h0M879.4 353.4h0M882.8 353.6h0M881.9 351.6h0M883.9 354.3h0M884.5 355.6h0M884.3 353.6h0M886.4 355.1h0M885.0 355.0h0M881.4 352.7h0M883.4 358.3h0M878.0 361.9h0M879.2 371.9h0M884.2 331.0h0M827.1 361.8h0M847.5 354.8h0M875.8 340.4h0M820.2 320.8h0M829.0 369.8h0M822.0 330.1h0M823.4 329.3h0M873.7 320.4h0M818.9 338.1h0M858.8 380.5h0M833.9 363.1h0M848.3 383.0h0M859.2 336.7h0M857.6 317.2h0M847.6 345.5h0M834.0 335.1h0M862.1 374.0h0M865.6 356.5h0M831.5 338.3h0M849.7 386.4h0M869.2 364.6h0M829.2 319.3h0M851.0 342.7h0M889.3 371.7h0M850.2 372.8h0M880.1 321.4h0M882.1 387.5h0M859.7 321.8h0M841.4 357.8h0M831.3 343.2h0M884.4 384.4h0M814.7 385.6h0M834.9 331.8h0M888.3 367.6h0M854.1 327.8h0M877.3 319.0h0M819.1 365.7h0M831.4 323.8h0M843.1 315.2h0M844.7 340.0h0" stroke="#a88fbf" stroke-opacity="0.6" stroke-width="1" stroke-linecap="square" fill="none"/><path d="M865.8 341.1h0M867.5 340.3h0M869.1 343.6h0M863.1 343.5h0M865.4 347.6h0M864.2 350.1h0M864.0 348.0h0M826.8 317.8h0M824.3 318.9h0M821.4 321.9h0M822.0 325.2h0M821.4 327.4h0M827.8 328.7h0M828.5 329.8h0M828.4 330.6h0M826.1 329.5h0M824.1 331.9h0M826.9 334.7h0M860.4 348.3h0M848.8 367.0h0M818.6 366.9h0M847.2 382.1h0M848.1 379.4h0M850.7 378.3h0M855.5 380.8h0M856.9 375.8h0M852.7 373.4h0M852.5 373.7h0M848.9 375.7h0M848.8 373.7h0M862.6 359.8h0M854.2 322.9h0M855.8 340.3h0M858.0 337.7h0M863.7 335.8h0M862.9 333.9h0M861.7 337.5h0M862.2 342.8h0M862.4 346.6h0M854.1 349.8h0M854.9 348.7h0M858.1 343.8h0M862.3 343.1h0M863.4 344.9h0M865.0 344.9h0M868.0 340.8h0M868.7 341.0h0M870.6 347.9h0M887.2 364.7h0M820.0 346.6h0M820.5 346.4h0M859.2 384.9h0M848.7 325.5h0M847.6 330.7h0M836.2 356.8h0M843.9 358.1h0M841.0 361.6h0M836.8 382.2h0M822.2 376.4h0M815.0 351.0h0M839.7 316.3h0M839.0 317.7h0M836.6 321.4h0M834.9 322.9h0M832.4 326.3h0M830.5 322.3h0M831.9 318.1h0M832.3 315.6h0M829.4 318.5h0M830.8 317.4h0M822.4 386.8h0M827.9 383.9h0M826.8 378.2h0M823.5 379.7h0M825.4 379.2h0M826.1 377.0h0M830.6 376.1h0M829.6 362.9h0M880.8 340.4h0M881.8 341.8h0M865.0 318.7h0M850.6 354.9h0M847.4 358.7h0M884.6 371.4h0M835.4 349.4h0M883.4 367.4h0M847.6 369.9h0M861.7 328.0h0M821.7 362.3h0M825.3 351.1h0M874.2 377.4h0M840.0 358.8h0M888.2 358.3h0M815.2 387.7h0M862.0 334.3h0M816.7 384.7h0M858.5 383.6h0M831.1 315.4h0M830.1 316.5h0M819.3 344.2h0M837.1 366.2h0M872.5 371.0h0M819.1 349.8h0M853.6 375.9h0M844.7 383.2h0M864.7 371.1h0M859.1 315.4h0M879.6 358.9h0M853.1 336.1h0M830.8 361.8h0M848.5 340.7h0M818.0 362.1h0M845.8 357.2h0M827.2 316.0h0M880.8 333.6h0M871.4 333.8h0M871.5 367.8h0M865.8 318.8h0M821.1 380.5h0M851.7 322.1h0M878.9 361.0h0M884.0 360.3h0M830.8 331.8h0M815.3 380.9h0M881.4 346.7h0M835.7 343.2h0M815.0 373.1h0M888.5 337.4h0M823.9 315.3h0M846.4 361.7h0M836.3 366.0h0M828.3 345.6h0M833.1 388.6h0M831.6 356.3h0" stroke="#c0a070" stroke-opacity="0.6" stroke-width="1" stroke-linecap="square" fill="none"/><path d="M821.0 345.5h0M868.7 345.5h0M863.0 335.9h0M821.5 324.3h0M862.1 349.0h0M861.1 346.7h0M862.0 349.5h0M857.5 349.3h0M857.9 349.3h0M860.9 349.1h0M858.8 350.3h0M859.9 353.2h0M862.8 357.0h0M864.3 358.5h0M857.5 323.9h0M832.9 370.6h0M833.8 373.3h0M832.8 375.2h0M829.6 374.1h0M828.4 374.8h0M827.9 377.2h0M826.3 376.1h0M823.7 381.3h0M821.6 383.3h0M820.2 379.8h0M823.2 379.3h0M824.5 378.6h0M826.8 379.6h0M828.9 384.6h0M826.1 383.1h0M848.6 324.7h0M850.2 320.9h0M856.0 317.2h0M854.9 318.8h0M854.5 317.9h0M851.2 318.4h0M851.4 320.0h0M852.5 320.2h0M847.9 315.2h0M848.3 314.9h0M847.7 360.5h0M850.9 353.1h0M852.2 347.5h0M849.7 346.2h0M855.1 344.5h0M859.8 348.3h0M859.6 350.7h0M859.8 356.9h0M864.1 356.4h0M865.5 355.5h0M862.7 355.0h0M857.8 352.7h0M857.1 353.8h0M849.2 379.2h0M848.9 374.4h0M863.8 359.3h0M880.9 335.2h0M876.5 332.2h0M871.8 334.8h0M832.3 326.9h0M858.3 349.0h0M881.8 378.0h0M880.9 375.5h0M880.3 374.0h0M881.1 371.3h0M880.9 370.3h0M824.1 345.7h0M855.2 386.1h0M858.2 385.6h0M857.5 386.2h0M859.3 387.1h0M830.5 369.3h0M827.4 369.0h0M833.5 368.1h0M831.6 367.4h0M829.3 363.6h0M844.0 361.2h0M842.1 353.4h0M843.5 380.3h0M837.7 376.8h0M834.8 380.8h0M819.9 377.1h0M820.1 374.3h0M826.1 354.1h0M825.3 354.4h0M818.0 351.9h0M818.3 349.4h0M814.5 353.7h0M816.1 354.5h0M814.6 344.3h0M839.2 370.2h0M828.3 315.9h0M830.5 315.1h0M828.0 315.0h0M830.6 317.8h0M830.5 318.7h0M832.2 317.3h0M830.8 317.8h0M836.7 320.9h0M834.2 325.4h0M835.5 326.5h0M833.8 329.9h0M835.3 324.8h0M836.6 323.2h0M836.4 319.9h0M845.1 317.5h0M840.6 319.0h0M833.9 321.6h0M875.6 328.0h0M852.6 336.4h0M823.1 378.8h0M826.6 352.8h0M828.1 357.9h0M887.3 315.2h0M886.5 316.2h0M886.2 317.2h0M881.4 315.7h0M881.3 314.8h0M879.3 315.6h0M876.6 316.8h0M871.9 318.8h0M871.2 319.2h0M869.7 322.3h0M870.5 325.6h0M868.2 327.1h0M867.3 327.5h0M863.8 328.2h0M866.3 330.5h0M868.3 326.2h0M879.0 340.3h0M866.1 317.4h0M867.4 316.0h0M867.6 315.1h0M864.3 315.6h0M876.7 377.2h0M879.7 377.3h0M882.8 369.8h0M880.7 370.8h0M878.1 375.4h0M878.7 341.0h0M860.0 334.3h0M886.9 350.5h0M881.1 321.6h0M828.1 381.2h0M856.3 354.9h0M885.9 346.1h0M838.4 323.5h0M817.3 388.5h0M856.3 374.7h0M825.3 317.3h0M872.6 357.0h0M844.2 356.9h0M878.6 336.0h0M879.4 343.3h0M855.0 323.7h0M843.7 317.8h0M825.0 376.6h0M821.6 339.4h0M865.0 374.8h0M868.8 384.3h0M846.7 373.1h0M862.9 321.1h0M846.9 367.5h0M851.5 348.8h0M858.8 361.2h0M861.5 383.0h0M875.8 317.8h0M873.8 315.3h0M862.0 376.4h0M849.4 328.1h0M832.5 350.7h0M830.5 335.5h0M885.7 344.9h0M833.6 333.0h0M841.7 384.2h0M867.6 377.0h0M866.6 376.2h0M838.7 321.6h0" stroke="#78b0b0" stroke-opacity="0.6" stroke-width="1" stroke-linecap="square" fill="none"/><path d="M820.4 339.0h0M818.0 326.6h0M814.0 333.9h0M821.3 328.1h0M863.8 359.0h0M850.1 320.7h0M825.8 377.9h0M820.4 377.0h0M861.6 366.2h0M872.3 331.0h0M870.5 343.4h0M870.6 341.4h0M867.1 341.7h0M864.0 358.7h0M815.6 365.5h0M816.4 366.5h0M815.7 367.3h0M816.0 366.1h0M819.0 365.5h0M820.4 367.9h0M818.4 369.9h0M818.8 368.5h0M819.8 365.6h0M818.5 364.9h0M878.9 337.0h0M876.6 328.3h0M874.3 332.5h0M856.7 323.4h0M855.4 327.0h0M855.0 321.9h0M856.6 325.6h0M860.8 323.0h0M864.2 322.4h0M860.2 323.0h0M858.2 322.8h0M856.7 328.2h0M856.0 332.6h0M858.4 332.1h0M857.2 334.6h0M854.2 336.0h0M836.8 322.0h0M837.4 321.1h0M862.4 382.3h0M854.9 344.6h0M869.8 341.7h0M853.4 331.9h0M830.5 367.5h0M831.9 369.3h0M828.4 365.3h0M830.9 348.5h0M850.8 376.3h0M878.9 378.1h0M843.0 368.5h0M814.8 341.3h0M879.1 325.5h0M887.6 328.0h0M888.9 328.9h0M890.2 331.5h0M856.4 343.8h0M864.7 330.6h0M828.2 376.8h0M838.7 374.7h0M889.2 317.3h0M890.5 318.0h0M875.4 348.2h0M874.4 345.1h0M873.1 334.2h0M873.9 342.7h0M884.0 342.3h0M881.2 342.0h0M836.8 345.9h0M847.5 325.5h0M885.6 329.1h0M834.4 371.8h0M852.0 340.4h0M845.4 358.6h0M832.4 376.7h0M880.5 370.2h0M868.1 365.1h0M839.7 338.6h0M837.8 381.5h0M872.1 323.4h0M833.4 358.3h0M822.5 384.0h0M829.6 321.6h0M844.5 350.3h0M881.0 367.7h0M824.7 317.1h0M889.5 338.9h0M860.4 374.7h0M861.6 340.5h0M844.6 345.8h0M816.6 326.1h0M855.2 376.4h0M873.4 343.2h0M824.9 386.0h0M815.6 354.2h0M876.5 375.8h0M822.1 380.4h0M822.3 373.0h0M826.7 380.7h0M823.2 339.7h0M825.7 324.4h0M871.4 348.1h0M889.7 374.0h0M852.2 326.7h0M857.8 334.5h0M814.1 344.6h0M875.8 349.6h0M837.0 344.5h0" stroke="#9c84b0" stroke-opacity="0.6" stroke-width="1" stroke-linecap="square" fill="none"/><path d="M819.7 347.5h0M822.7 329.7h0M848.2 321.2h0M869.6 327.5h0M815.4 344.1h0M875.5 337.9h0M849.5 373.0h0M820.3 367.0h0M862.3 384.7h0M853.1 347.2h0M880.7 371.7h0M824.6 334.0h0M824.4 341.2h0M823.4 341.8h0M824.0 343.4h0M823.1 346.8h0M823.8 348.0h0M822.4 350.0h0M818.8 347.3h0M822.6 347.2h0M820.3 343.1h0M821.1 343.4h0M819.5 345.1h0M819.2 341.6h0M815.9 337.3h0M819.1 339.3h0M821.6 339.9h0M834.7 360.0h0M834.2 356.5h0M831.8 356.0h0M832.1 355.2h0M835.7 357.7h0M836.2 363.6h0M836.7 364.4h0M836.3 360.7h0M837.7 362.6h0M839.8 364.1h0M844.7 366.8h0M846.3 371.0h0M852.7 329.4h0M849.7 324.1h0M851.6 337.5h0M871.8 381.1h0M815.4 350.6h0M832.3 326.1h0M867.4 332.1h0M867.5 330.8h0M832.3 377.0h0M831.9 363.2h0M847.1 359.4h0M869.7 355.9h0M880.7 360.9h0M874.9 336.2h0M878.8 333.9h0M820.7 360.6h0M824.5 352.4h0M879.3 355.6h0M848.7 333.6h0M848.6 329.8h0M855.2 322.5h0M814.8 317.6h0M888.2 347.2h0M855.2 347.6h0M862.3 384.8h0M841.5 378.5h0M851.6 320.2h0M834.7 385.1h0M872.3 374.3h0M853.3 377.3h0M824.9 318.8h0M845.0 365.9h0M857.5 336.9h0M821.8 359.5h0M855.6 355.4h0M832.7 335.5h0M869.7 376.0h0M856.3 326.4h0M825.6 386.4h0M855.3 344.1h0M877.3 362.0h0M838.8 342.4h0M833.8 378.9h0M834.7 337.7h0M833.4 366.7h0M851.1 320.3h0M869.5 375.9h0M847.5 361.7h0M854.7 318.0h0M872.7 366.7h0M874.0 388.2h0M846.1 341.2h0M879.9 354.9h0M888.0 326.8h0M826.3 326.7h0M882.8 318.0h0M824.3 357.4h0M833.4 349.8h0M823.7 334.7h0M874.7 365.2h0M816.5 321.2h0M860.8 326.8h0M869.9 341.9h0M870.4 335.3h0M831.0 379.1h0M875.8 382.7h0M884.8 375.7h0M846.5 329.3h0M868.0 380.3h0M851.0 355.6h0M850.2 322.4h0M881.8 318.0h0" stroke="#b89080" stroke-opacity="0.6" stroke-width="1" stroke-linecap="square" fill="none"/><path d="M824.7 339.3h0M861.8 334.8h0M857.4 353.2h0M842.6 318.9h0M845.3 321.6h0M850.2 323.4h0M848.6 324.8h0M857.0 317.5h0M852.7 316.4h0M855.3 314.9h0M861.9 315.9h0M846.6 360.5h0M867.7 328.2h0M868.8 325.7h0M874.5 330.7h0M872.4 330.3h0M869.3 326.6h0M868.0 328.5h0M873.3 332.0h0M873.4 334.4h0M871.2 337.4h0M872.1 340.8h0M867.1 343.9h0M866.9 347.3h0M865.8 346.0h0M866.9 342.1h0M815.4 340.0h0M820.2 347.6h0M816.7 346.5h0M878.8 347.6h0M869.6 339.9h0M823.1 360.9h0M847.1 380.3h0M853.6 324.9h0M858.5 333.8h0M863.9 334.5h0M820.2 344.2h0M857.8 385.8h0M849.7 329.8h0M850.9 327.9h0M851.1 335.5h0M852.8 331.6h0M854.0 330.3h0M844.6 369.0h0M842.4 356.0h0M843.1 353.7h0M843.3 354.9h0M844.1 361.0h0M846.3 357.1h0M846.0 360.4h0M845.5 360.5h0M845.6 361.3h0M845.6 359.7h0M843.8 360.0h0M841.7 359.4h0M838.0 358.2h0M842.0 357.9h0M841.4 353.8h0M841.9 355.9h0M844.5 354.3h0M839.7 352.7h0M834.8 345.3h0M851.5 380.9h0M852.9 334.7h0M818.0 351.7h0M835.0 318.1h0M834.1 319.7h0M866.0 327.3h0M865.3 335.3h0M867.2 334.4h0M869.5 333.6h0M869.5 330.9h0M874.0 327.5h0M872.9 327.4h0M875.4 331.4h0M877.0 337.3h0M872.9 343.7h0M875.1 341.0h0M876.4 345.0h0M876.7 345.1h0M874.5 351.4h0M868.5 352.7h0M827.1 358.9h0M884.9 345.8h0M873.3 328.0h0M850.1 359.1h0M847.2 357.5h0M865.2 357.4h0M881.7 376.0h0M883.8 369.2h0M884.5 370.6h0M875.9 374.5h0M875.3 373.3h0M872.8 374.1h0M868.3 373.3h0M869.3 373.8h0M862.9 369.3h0M875.7 361.4h0M861.5 350.8h0M887.3 325.3h0M879.0 323.2h0M852.7 323.2h0M867.9 319.1h0M850.4 319.5h0M837.3 361.9h0M862.9 357.5h0M864.5 358.4h0M838.8 357.7h0M865.7 323.0h0M835.3 352.8h0M869.6 358.4h0M816.2 335.0h0M886.0 361.8h0M861.4 362.8h0M830.8 381.7h0M841.7 357.9h0M881.2 333.8h0M829.7 384.2h0M814.2 360.4h0M855.6 323.8h0M851.4 360.8h0M814.2 386.1h0M870.0 349.6h0M866.9 347.6h0M854.6 334.4h0M835.6 344.9h0M817.5 370.4h0M836.6 364.8h0M874.2 376.2h0M853.5 331.5h0M885.1 365.8h0M815.0 354.5h0M869.9 336.9h0M830.1 315.6h0M859.5 383.2h0M828.8 345.1h0M867.2 322.2h0M859.2 367.8h0M825.9 364.3h0M840.7 367.6h0M824.6 389.1h0M822.0 368.6h0" stroke="#8898c0" stroke-opacity="0.6" stroke-width="1" stroke-linecap="square" fill="none"/><path d="M820.1 328.7h0M817.9 328.1h0M820.7 329.0h0M821.2 327.8h0M817.7 324.9h0M819.9 327.2h0M818.5 328.6h0M817.0 331.9h0M814.2 331.7h0M814.1 325.8h0M814.5 331.6h0M851.3 323.9h0M841.2 340.6h0M839.7 345.7h0M839.5 348.2h0M840.0 347.0h0M838.4 345.1h0M841.0 346.3h0M839.5 347.9h0M839.0 347.2h0M840.8 344.2h0M837.2 342.5h0M838.0 349.4h0M837.8 352.4h0M867.6 341.7h0M874.3 351.9h0M875.0 355.3h0M872.5 349.6h0M875.1 348.7h0M873.4 350.4h0M878.3 346.6h0M877.0 347.4h0M875.7 346.4h0M871.2 346.9h0M873.6 348.1h0M873.6 348.1h0M871.5 345.7h0M868.9 344.0h0M869.7 339.3h0M867.1 338.3h0M871.1 338.4h0M869.6 339.8h0M872.0 341.6h0M871.3 342.1h0M875.2 340.2h0M874.0 339.8h0M876.8 338.8h0M875.1 338.7h0M863.1 360.7h0M886.4 332.0h0M862.9 321.8h0M858.7 380.6h0M861.1 339.3h0M887.2 366.8h0M826.1 365.2h0M842.5 360.5h0M835.7 350.9h0M837.1 346.7h0M865.7 387.7h0M841.8 367.5h0M855.0 341.6h0M858.5 338.9h0M855.2 339.1h0M850.7 340.3h0M858.5 345.7h0M856.3 348.5h0M860.8 346.6h0M866.3 349.9h0M871.2 350.7h0M873.5 352.0h0M874.5 352.5h0M873.6 349.4h0M862.3 326.2h0M871.9 332.5h0M870.6 335.1h0M870.1 333.5h0M830.7 361.1h0M875.9 346.3h0M873.9 348.2h0M873.3 348.9h0M872.5 350.1h0M879.0 345.7h0M882.4 345.4h0M881.4 344.7h0M877.7 342.9h0M876.1 347.3h0M874.2 344.2h0M874.1 337.0h0M855.9 326.6h0M837.1 330.5h0M860.5 320.0h0M863.9 359.5h0M863.4 315.5h0M819.7 316.6h0M820.8 315.2h0M879.6 353.6h0M880.0 367.4h0M883.4 367.3h0M876.1 344.8h0M879.9 340.7h0M832.8 347.5h0M863.9 351.5h0M826.7 381.9h0M820.7 371.0h0M875.0 317.5h0M842.0 351.9h0M885.7 341.8h0M827.6 351.7h0M867.3 327.6h0M832.2 347.8h0M860.9 350.2h0M828.0 342.9h0M871.7 378.0h0M837.1 332.1h0M838.1 338.0h0M869.4 373.0h0M852.9 369.4h0M839.7 362.3h0M843.4 340.5h0M833.6 387.6h0M873.8 374.2h0M872.2 348.2h0M887.8 365.4h0M833.6 331.5h0M887.6 318.9h0M883.4 317.6h0M839.2 385.3h0M816.7 326.5h0M821.4 327.2h0M825.6 386.4h0M846.9 388.8h0M843.3 334.0h0M885.5 346.1h0M854.9 387.6h0M839.4 335.7h0M838.7 322.7h0M869.0 363.9h0M868.0 370.1h0M836.0 337.2h0M865.7 332.5h0M885.3 347.6h0M816.7 388.4h0M842.7 331.4h0M869.6 336.2h0M846.9 369.3h0M878.2 356.4h0M815.9 355.5h0M840.2 356.4h0M841.2 359.3h0M878.3 326.5h0M849.3 357.2h0M887.2 352.1h0M831.7 382.7h0M822.3 366.6h0M867.5 363.4h0M825.3 332.0h0M881.3 315.0h0" stroke="#b8b078" stroke-opacity="0.6" stroke-width="1" stroke-linecap="square" fill="none"/><path d="M865.9 347.2h0M816.0 334.7h0M862.9 357.9h0M823.7 383.0h0M843.5 343.5h0M839.3 348.3h0M860.4 365.0h0M850.2 364.1h0M842.9 361.0h0M821.1 348.9h0M851.0 373.4h0M864.4 357.6h0M864.5 360.7h0M864.8 362.4h0M862.3 361.6h0M863.8 360.4h0M863.2 358.8h0M862.4 362.7h0M866.4 365.1h0M865.8 367.5h0M862.5 366.1h0M861.9 361.3h0M861.4 362.4h0M877.5 332.4h0M841.8 320.3h0M843.2 319.1h0M862.4 332.6h0M818.9 347.7h0M820.9 344.4h0M836.0 357.5h0M844.8 358.4h0M841.0 357.4h0M835.9 350.4h0M849.2 378.5h0M845.2 384.4h0M845.0 383.8h0M845.8 382.9h0M845.0 379.9h0M842.2 377.4h0M835.6 381.1h0M836.3 382.5h0M839.2 380.2h0M842.6 381.3h0M845.3 382.3h0M849.9 381.1h0M848.8 382.4h0M848.8 382.9h0M855.3 373.4h0M849.0 374.8h0M846.6 374.4h0M845.9 374.3h0M848.7 371.1h0M848.1 318.7h0M849.4 318.6h0M856.2 320.2h0M852.4 327.1h0M851.5 328.6h0M850.3 329.3h0M854.6 336.6h0M851.9 337.8h0M851.5 341.3h0M847.8 343.0h0M847.4 345.4h0M846.5 345.0h0M843.4 347.1h0M841.2 344.9h0M839.4 344.7h0M842.7 344.9h0M842.1 343.0h0M843.7 343.5h0M846.7 355.3h0M844.5 353.8h0M870.7 375.0h0M846.9 371.1h0M835.0 318.2h0M825.8 375.1h0M884.0 327.9h0M852.2 342.9h0M869.8 351.2h0M886.0 316.4h0M871.1 350.5h0M886.3 338.1h0M885.9 336.5h0M882.2 339.4h0M880.5 339.3h0M877.1 340.4h0M876.3 341.0h0M879.8 332.4h0M872.6 326.5h0M873.8 325.5h0M873.2 329.3h0M873.7 334.3h0M874.3 336.6h0M875.4 337.3h0M877.3 335.5h0M876.1 333.7h0M852.1 328.5h0M847.7 325.6h0M865.0 317.8h0M822.9 383.2h0M877.3 350.5h0M876.8 352.1h0M878.3 354.5h0M878.6 355.9h0M875.2 360.4h0M875.7 357.8h0M870.3 360.9h0M870.7 358.8h0M865.7 357.6h0M863.3 354.2h0M866.1 355.4h0M866.2 355.8h0M863.6 359.1h0M865.6 361.3h0M864.6 360.6h0M863.2 360.7h0M864.7 362.5h0M865.7 359.9h0M860.9 359.5h0M867.8 357.5h0M864.5 358.8h0M867.6 357.8h0M868.8 358.8h0M868.9 361.3h0M866.6 362.4h0M879.9 355.1h0M878.4 373.4h0M870.7 339.6h0M835.0 347.2h0M879.6 332.1h0M849.6 320.7h0M839.0 334.3h0M827.9 385.2h0M853.4 369.2h0M861.3 337.0h0M864.3 367.1h0M885.6 372.6h0M878.8 315.2h0M847.9 320.7h0M824.9 318.9h0M836.2 325.0h0M874.3 321.4h0M888.0 352.9h0M874.3 319.6h0M835.2 379.6h0M873.1 320.5h0M851.6 328.6h0M851.1 315.7h0M849.5 348.5h0M858.9 345.7h0M883.2 352.0h0M877.9 350.2h0M829.3 321.3h0M819.5 358.9h0M852.8 342.4h0M869.9 326.1h0M839.9 343.9h0M867.9 357.6h0M874.5 341.0h0M849.1 345.1h0M817.4 324.7h0M847.8 378.9h0M830.1 352.3h0M835.9 373.2h0M871.7 384.2h0M822.6 329.0h0M888.4 384.9h0M860.7 368.7h0M827.8 334.3h0M845.7 357.0h0M870.6 348.1h0M834.6 328.3h0M834.8 366.9h0M840.0 374.6h0M835.7 359.6h0M826.6 380.1h0M854.1 326.0h0" stroke="#c08890" stroke-opacity="0.6" stroke-width="1" stroke-linecap="square" fill="none"/></svg>
</body></html>
